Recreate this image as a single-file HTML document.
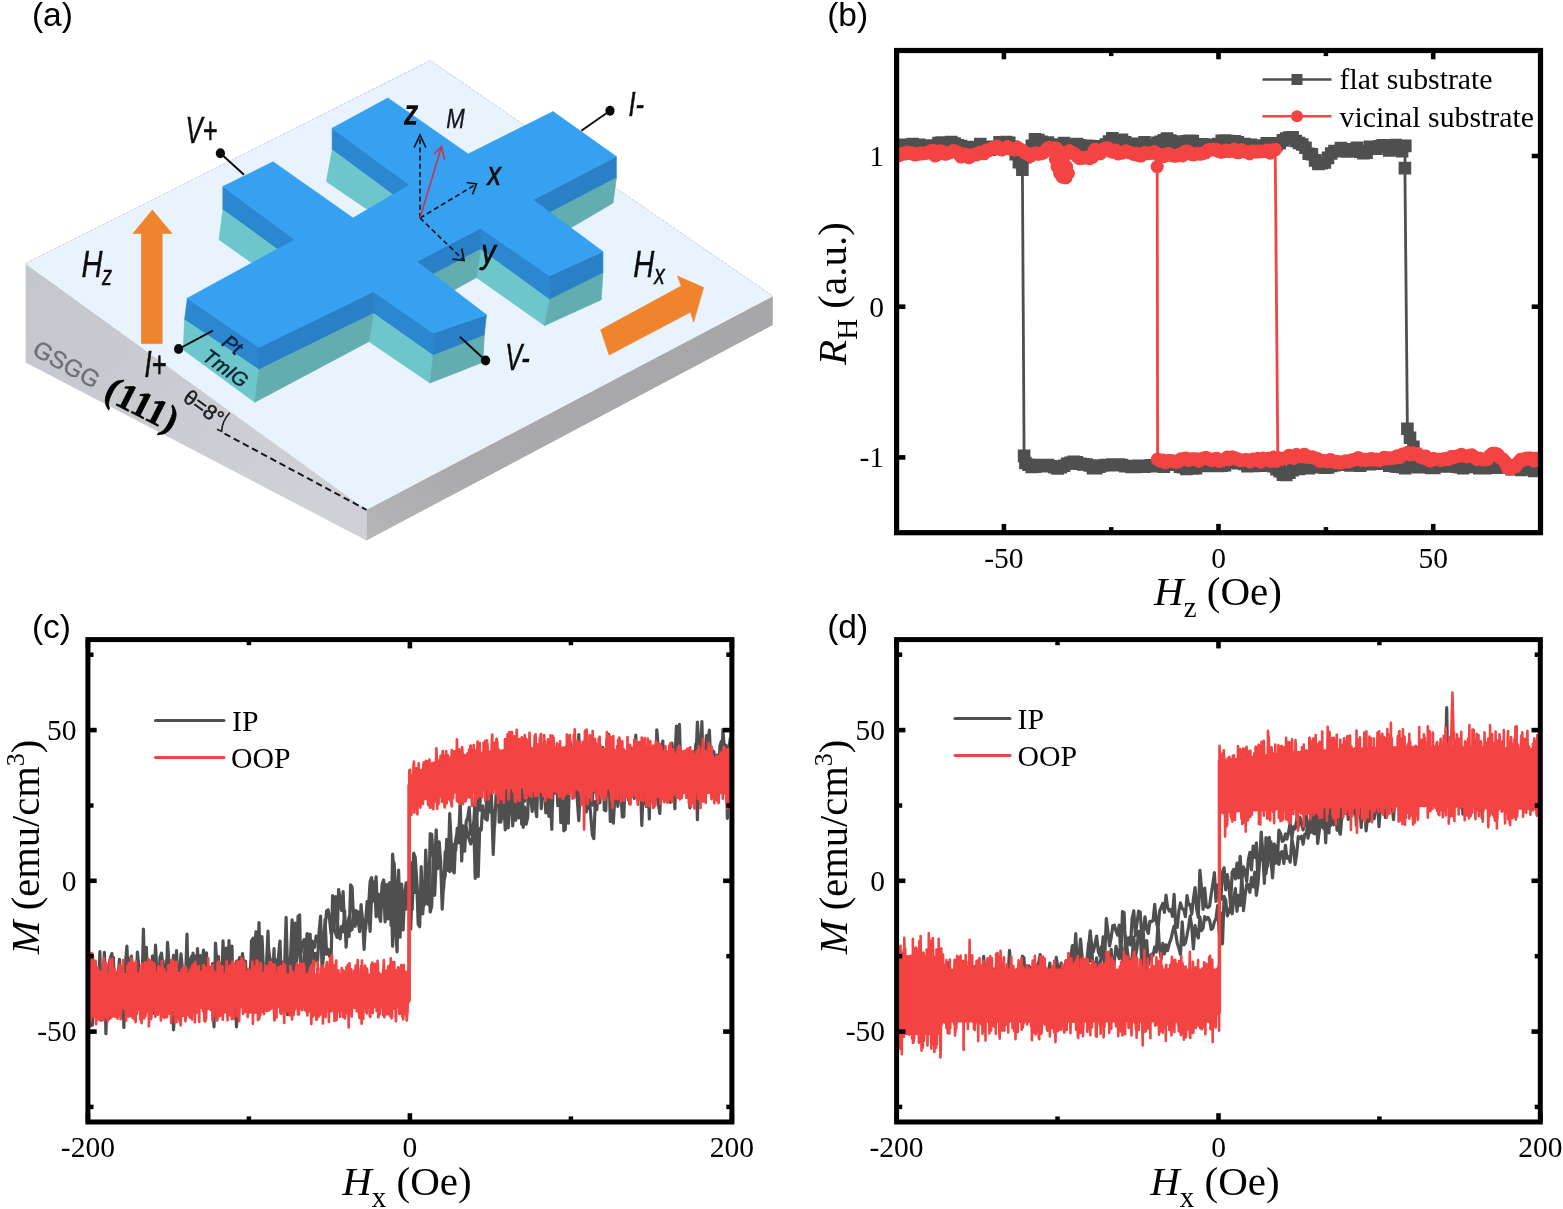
<!DOCTYPE html>
<html lang="en"><head><meta charset="utf-8"><title>Figure</title>
<style>
html,body{margin:0;padding:0;background:#fff;}
svg{display:block;}
</style></head>
<body>
<svg width="1563" height="1209" viewBox="0 0 1563 1209">
<rect width="1563" height="1209" fill="#fff"/>
<text x="31.9" y="25.5" font-family='"Liberation Sans", sans-serif' font-size="33.5" text-anchor="start" fill="#000"  >(a)</text>
<defs><linearGradient id="gl" x1="0" y1="0" x2="1" y2="0.6"><stop offset="0" stop-color="#c3c6cc"/><stop offset="1" stop-color="#cfd1d6"/></linearGradient><linearGradient id="gr" x1="0" y1="1" x2="1" y2="0"><stop offset="0" stop-color="#b6b6b8"/><stop offset="0.25" stop-color="#aaaaac"/><stop offset="1" stop-color="#a7a7a9"/></linearGradient></defs>
<g id="panel-a">
<polygon points="25.6,263.5 25.6,362.5 366.5,540.5 366.5,509.5" fill="url(#gl)"  />
<polygon points="366.5,509.5 366.5,540.5 772.8,325 772.8,296" fill="url(#gr)"  />
<polygon points="25.6,263.5 430.3,60.5 772.8,296 366.5,509.5" fill="#e9f3fd" stroke="#e9f3fd" stroke-width="0.7" stroke-linejoin="round" />
<polyline points="25.6,263.5 430.3,60.5 772.8,296" fill="none" stroke="#cfd2d6" stroke-width="1" stroke-dasharray="3 1.5"/>
<polygon points="222.9,186.5 294.8,239.6 294.8,262 222.9,209.8" fill="#2b87cf" stroke="#2b87cf" stroke-width="0.7" stroke-linejoin="round" />
<polygon points="222.9,209.8 294.8,262 293,292 219,239.7" fill="#6dc6cb" stroke="#6dc6cb" stroke-width="0.7" stroke-linejoin="round" />
<polygon points="332.2,128.2 409.5,184.8 409.5,207 332.2,149.9" fill="#2b87cf" stroke="#2b87cf" stroke-width="0.7" stroke-linejoin="round" />
<polygon points="332.2,149.9 409.5,207 408,237 326.4,181.5" fill="#6dc6cb" stroke="#6dc6cb" stroke-width="0.7" stroke-linejoin="round" />
<polygon points="187.4,298.2 259,347.3 259,369.7 184.6,319.8" fill="#2b87cf" stroke="#2b87cf" stroke-width="0.7" stroke-linejoin="round" />
<polygon points="184.6,319.8 259,369.7 254.8,402.2 183.3,349.8" fill="#6dc6cb" stroke="#6dc6cb" stroke-width="0.7" stroke-linejoin="round" />
<polygon points="373.5,291.5 433.2,333.1 433.2,355.5 373.5,313.5" fill="#2b87cf" stroke="#2b87cf" stroke-width="0.7" stroke-linejoin="round" />
<polygon points="373.5,313.5 433.2,355.5 429.9,383 369,341.5" fill="#6dc6cb" stroke="#6dc6cb" stroke-width="0.7" stroke-linejoin="round" />
<polygon points="480.6,228.3 549.6,275.7 549.6,299.8 480.6,249.5" fill="#2b87cf" stroke="#2b87cf" stroke-width="0.7" stroke-linejoin="round" />
<polygon points="480.6,249.5 549.6,299.8 544.6,325.6 476.4,277.4" fill="#6dc6cb" stroke="#6dc6cb" stroke-width="0.7" stroke-linejoin="round" />
<polygon points="533,199.8 616.3,156.5 616.3,178 533,221.5" fill="#2a80c6" stroke="#2a80c6" stroke-width="0.7" stroke-linejoin="round" />
<polygon points="533,221.5 616.3,178 613,203 533,250" fill="#62adaf" stroke="#62adaf" stroke-width="0.7" stroke-linejoin="round" />
<polygon points="416.6,261.5 480.6,228.3 480.6,249.5 416.6,283" fill="#2a80c6" stroke="#2a80c6" stroke-width="0.7" stroke-linejoin="round" />
<polygon points="416.6,283 480.6,249.5 476.4,277.4 416.6,311" fill="#62adaf" stroke="#62adaf" stroke-width="0.7" stroke-linejoin="round" />
<polygon points="549.6,275.7 602.9,251.6 602.9,273.2 549.6,299.8" fill="#2a80c6" stroke="#2a80c6" stroke-width="0.7" stroke-linejoin="round" />
<polygon points="549.6,299.8 602.9,273.2 601.2,299.8 544.6,325.6" fill="#62adaf" stroke="#62adaf" stroke-width="0.7" stroke-linejoin="round" />
<polygon points="259,347.3 373.5,291.5 373.5,313.5 259,369.7" fill="#2a80c6" stroke="#2a80c6" stroke-width="0.7" stroke-linejoin="round" />
<polygon points="259,369.7 373.5,313.5 369,341.5 254.8,402.2" fill="#62adaf" stroke="#62adaf" stroke-width="0.7" stroke-linejoin="round" />
<polygon points="433.2,333.1 486.4,314.8 484.2,335.6 433.2,355.5" fill="#2a80c6" stroke="#2a80c6" stroke-width="0.7" stroke-linejoin="round" />
<polygon points="433.2,355.5 484.2,335.6 483,362.2 429.9,383" fill="#62adaf" stroke="#62adaf" stroke-width="0.7" stroke-linejoin="round" />
<polygon points="187.4,298.2 294.8,239.6 222.9,186.5 273.1,161.8 353,218 409.5,184.8 332.2,128.2 387.9,98 468.2,154 553,111.6 616.3,156.5 533,199.8 602.9,251.6 549.6,275.7 480.6,228.3 416.6,261.5 486.4,314.8 433.2,333.1 373.5,291.5 259,347.3" fill="#37a1f1" stroke="#37a1f1" stroke-width="0.7" stroke-linejoin="round" />
<polygon points="141.5,343.6 141.5,233.5 133,233.5 152.4,210 172,233.5 162.2,233.5 162.2,343.6" fill="#f0842d" stroke="#f0842d" stroke-width="0.7" stroke-linejoin="round" />
<polygon points="600.7,329.8 681.3,286 677.5,276 703.6,287.6 693.6,322.1 690.5,312.1 609.1,355.1" fill="#f0842d" stroke="#f0842d" stroke-width="0.7" stroke-linejoin="round" />
<line x1="220.4" y1="153.2" x2="244" y2="174.8" stroke="#0a0a0a" stroke-width="1.9"/>
<ellipse cx="220.4" cy="153.2" rx="4.6" ry="5" fill="#0a0a0a"/>
<line x1="610" y1="110.8" x2="581.3" y2="130.7" stroke="#0a0a0a" stroke-width="1.9"/>
<ellipse cx="610" cy="110.8" rx="4.6" ry="5" fill="#0a0a0a"/>
<line x1="178.6" y1="349" x2="212.9" y2="330.6" stroke="#0a0a0a" stroke-width="1.9"/>
<ellipse cx="178.6" cy="349" rx="4.6" ry="5" fill="#0a0a0a"/>
<line x1="485.6" y1="360.5" x2="459.8" y2="336.7" stroke="#0a0a0a" stroke-width="1.9"/>
<ellipse cx="485.6" cy="360.5" rx="4.6" ry="5" fill="#0a0a0a"/>
<line x1="420" y1="218" x2="420" y2="135" stroke="#10151c" stroke-width="1.7" stroke-dasharray="5 3.2"/>
<polyline points="414.2,147.5 420,135 425.8,147.5" fill="none" stroke="#10151c" stroke-width="1.7"/>
<line x1="420" y1="218" x2="476.5" y2="184" stroke="#10151c" stroke-width="1.7" stroke-dasharray="5 3.2"/>
<polyline points="466.5,182.5 476.5,184 472.4,194.5" fill="none" stroke="#10151c" stroke-width="1.7"/>
<line x1="420" y1="218" x2="464" y2="260.5" stroke="#10151c" stroke-width="1.7" stroke-dasharray="5 3.2"/>
<polyline points="452.5,259.2 464,260.5 461.8,248.5" fill="none" stroke="#10151c" stroke-width="1.7"/>
<line x1="420" y1="218" x2="441.6" y2="146.5" stroke="#c9334e" stroke-width="1.6" />
<polyline points="434,154 441.6,146.5 444.4,159.5" fill="none" stroke="#c9334e" stroke-width="1.6"/>
<text x="185.5" y="143.4" font-family='"Liberation Sans", sans-serif' font-size="36" font-style="italic" font-weight="normal" fill="#0c0c0c" textLength="32" lengthAdjust="spacingAndGlyphs" stroke="#0c0c0c" stroke-width="0.5">V+</text>
<text x="628.5" y="115.8" font-family='"Liberation Sans", sans-serif' font-size="35" font-style="italic" font-weight="normal" fill="#0c0c0c" textLength="15.5" lengthAdjust="spacingAndGlyphs" stroke="#0c0c0c" stroke-width="0.6">I-</text>
<text x="144.5" y="377.4" font-family='"Liberation Sans", sans-serif' font-size="36" font-style="italic" font-weight="normal" fill="#0c0c0c" textLength="22" lengthAdjust="spacingAndGlyphs" stroke="#0c0c0c" stroke-width="0.6">I+</text>
<text x="505.3" y="369.7" font-family='"Liberation Sans", sans-serif' font-size="36" font-style="italic" font-weight="normal" fill="#0c0c0c" textLength="24.5" lengthAdjust="spacingAndGlyphs" stroke="#0c0c0c" stroke-width="0.5">V-</text>
<text x="81.5" y="276.6" font-family='"Liberation Sans", sans-serif' font-size="36" font-style="italic" font-weight="normal" fill="#0c0c0c" textLength="21" lengthAdjust="spacingAndGlyphs" stroke="#0c0c0c" stroke-width="0.4">H</text>
<text x="102" y="284.5" font-family='"Liberation Sans", sans-serif' font-size="27" font-style="italic" font-weight="normal" fill="#0c0c0c" textLength="10" lengthAdjust="spacingAndGlyphs" stroke="#0c0c0c" stroke-width="0.4">z</text>
<text x="633.2" y="276.8" font-family='"Liberation Sans", sans-serif' font-size="36" font-style="italic" font-weight="normal" fill="#0c0c0c" textLength="21" lengthAdjust="spacingAndGlyphs" stroke="#0c0c0c" stroke-width="0.4">H</text>
<text x="654.2" y="284.4" font-family='"Liberation Sans", sans-serif' font-size="27" font-style="italic" font-weight="normal" fill="#0c0c0c" textLength="10.5" lengthAdjust="spacingAndGlyphs" stroke="#0c0c0c" stroke-width="0.4">x</text>
<text x="404.5" y="124.2" font-family='"Liberation Sans", sans-serif' font-size="34" font-style="italic" font-weight="normal" fill="#0c0c0c" textLength="13.5" lengthAdjust="spacingAndGlyphs" stroke="#0c0c0c" stroke-width="1.3">z</text>
<text x="446.3" y="128.2" font-family='"Liberation Sans", sans-serif' font-size="27.5" font-style="italic" font-weight="normal" fill="#14161a" textLength="18.5" lengthAdjust="spacingAndGlyphs" stroke="#14161a" stroke-width="0.35">M</text>
<text x="487.5" y="184.9" font-family='"Liberation Sans", sans-serif' font-size="32.5" font-style="italic" font-weight="normal" fill="#0c0c0c" textLength="13.5" lengthAdjust="spacingAndGlyphs" stroke="#0c0c0c" stroke-width="0.7">x</text>
<text x="481.2" y="263.3" font-family='"Liberation Sans", sans-serif' font-size="32.5" font-style="italic" font-weight="normal" fill="#0c0c0c" textLength="14.5" lengthAdjust="spacingAndGlyphs" stroke="#0c0c0c" stroke-width="0.7">y</text>
<text transform="translate(228.3,350.3) rotate(36)" font-family='"Liberation Sans", sans-serif' font-size="20" font-style="italic" font-weight="normal" fill="#07203a" text-anchor="middle"  stroke="#07203a" stroke-width="0.5">Pt</text>
<text transform="translate(221.6,373.8) rotate(36)" font-family='"Liberation Sans", sans-serif' font-size="20" font-style="italic" font-weight="normal" fill="#08262c" text-anchor="middle"  stroke="#08262c" stroke-width="0.5">TmIG</text>
<text transform="translate(199.6,413.3) rotate(36)" font-family='"Liberation Sans", sans-serif' font-size="21" font-style="normal" font-weight="normal" fill="#1c1c1e" text-anchor="middle"  stroke="#1c1c1e" stroke-width="0.5">&#952;=8&#176;</text>
<text transform="translate(62.5,371.5) rotate(29)" font-family='"Liberation Sans", sans-serif' font-size="24" font-style="normal" font-weight="normal" fill="#6f7176" text-anchor="middle"  stroke="#6f7176" stroke-width="0.4">GSGG</text>
<text transform="translate(136.5,415.5) rotate(27)" font-family='"Liberation Serif", serif' font-size="37.5" font-style="normal" font-weight="bold" fill="#000" text-anchor="middle"  stroke="#000" stroke-width="0.5">(111)</text>
<path d="M229.8 412.8 Q222.3 420.5 221.6 431.4 L217 429.3" fill="none" stroke="#1a1a1a" stroke-width="1.6"/>
<line x1="224.5" y1="433.6" x2="366.5" y2="509.8" stroke="#15171a" stroke-width="2.0" stroke-dasharray="6.6 3.8"/>
</g>
<text x="827.2" y="26" font-family='"Liberation Sans", sans-serif' font-size="33.5" text-anchor="start" fill="#000"  >(b)</text>
<clipPath id="clipb"><rect x="896.6" y="50.5" width="643.9" height="482.2"/></clipPath>
<line x1="1003.9" y1="532.7" x2="1003.9" y2="523.9" stroke="#000" stroke-width="4.6"/>
<line x1="1003.9" y1="50.5" x2="1003.9" y2="59.3" stroke="#000" stroke-width="4.6"/>
<line x1="1218.5" y1="532.7" x2="1218.5" y2="523.9" stroke="#000" stroke-width="4.6"/>
<line x1="1218.5" y1="50.5" x2="1218.5" y2="59.3" stroke="#000" stroke-width="4.6"/>
<line x1="1433.2" y1="532.7" x2="1433.2" y2="523.9" stroke="#000" stroke-width="4.6"/>
<line x1="1433.2" y1="50.5" x2="1433.2" y2="59.3" stroke="#000" stroke-width="4.6"/>
<line x1="1111.2" y1="532.7" x2="1111.2" y2="527.1" stroke="#000" stroke-width="4.5"/>
<line x1="1111.2" y1="50.5" x2="1111.2" y2="56.1" stroke="#000" stroke-width="4.5"/>
<line x1="1325.9" y1="532.7" x2="1325.9" y2="527.1" stroke="#000" stroke-width="4.5"/>
<line x1="1325.9" y1="50.5" x2="1325.9" y2="56.1" stroke="#000" stroke-width="4.5"/>
<line x1="896.6" y1="457.4" x2="905.4" y2="457.4" stroke="#000" stroke-width="4.6"/>
<line x1="1540.5" y1="457.4" x2="1531.7" y2="457.4" stroke="#000" stroke-width="4.6"/>
<line x1="896.6" y1="306.7" x2="905.4" y2="306.7" stroke="#000" stroke-width="4.6"/>
<line x1="1540.5" y1="306.7" x2="1531.7" y2="306.7" stroke="#000" stroke-width="4.6"/>
<line x1="896.6" y1="156" x2="905.4" y2="156" stroke="#000" stroke-width="4.6"/>
<line x1="1540.5" y1="156" x2="1531.7" y2="156" stroke="#000" stroke-width="4.6"/>
<g id="panel-b-data" clip-path="url(#clipb)">
<polyline points="896.6,148.1 899.8,147.4 903,144.7 906.3,145.7 909.5,144.8 912.7,144.1 915.9,144.8 919.1,144.7 922.4,146.1 925.6,147.2 928.8,145.6 932,146.1 935.2,146.8 938.5,143.1 941.7,142.6 944.9,144.4 948.1,144.4 951.3,142.1 954.6,143.6 957.8,145.3 961,146.1 964.2,148.2 967.4,149.7 970.6,147 973.9,147.2 977.1,147.7 980.3,144 983.5,150.2 986.7,147.4 990,149.8 993.2,146.9 996.4,147.3 999.6,142.4 1002.8,143.2 1006.1,142 1009.3,142.7 1012.5,146.9 1015.7,154.1 1018.9,162.2 1022.2,163.9 1025.4,157.1 1028.6,151.2 1031.8,145.7 1035,139.2 1038.3,140.1 1041.5,141.8 1044.7,142.9 1047.9,142.5 1051.1,144.5 1054.4,146.8 1057.6,145.4 1060.8,146.3 1064,143.1 1067.2,145.2 1070.5,145.8 1073.7,147.4 1076.9,144.1 1080.1,145.3 1083.3,147.4 1086.6,145.8 1089.8,146.1 1093,149.4 1096.2,150.8 1099.4,146.4 1102.6,146.2 1105.9,144.5 1109.1,141.6 1112.3,138.4 1115.5,142 1118.7,141.5 1122,139.9 1125.2,142.3 1128.4,148.1 1131.6,143.7 1134.8,144.3 1138.1,144 1141.3,146.8 1144.5,142.3 1147.7,145.8 1150.9,146.8 1154.2,147.1 1157.4,142.8 1160.6,141.8 1163.8,140.4 1167,138.6 1170.3,140.6 1173.5,141.5 1176.7,144.7 1179.9,145.9 1183.1,143 1186.4,141.3 1189.6,140.9 1192.8,141.1 1196,144.8 1199.2,144.8 1202.5,144.3 1205.7,147.1 1208.9,146.5 1212.1,145.3 1215.3,144.9 1218.5,144 1221.8,140.9 1225,140.5 1228.2,141.1 1231.4,143.8 1234.6,141.3 1237.9,142.3 1241.1,144.8 1244.3,144.1 1247.5,146.4 1250.7,144.8 1254,147.9 1257.2,145.9 1260.4,146.2 1263.6,145.6 1266.8,143.3 1270.1,143.3 1273.3,144.8 1276.5,144.9 1279.7,143.2 1282.9,140.4 1286.2,138.6 1289.4,137.5 1292.6,137.2 1295.8,141 1299,143 1302.3,144.5 1305.5,147.7 1308.7,153.7 1311.9,154.3 1315.1,160.4 1318.4,163.9 1321.6,163.3 1324.8,162.5 1328,157.9 1331.2,153.5 1334.5,151.1 1337.7,151 1340.9,148 1344.1,151 1347.3,151.4 1350.5,149.4 1353.8,150.5 1357,147.7 1360.2,151.6 1363.4,153.2 1366.6,152.8 1369.9,146.7 1373.1,148.6 1376.3,148.6 1379.5,146.4 1382.7,145.4 1386,146 1389.2,150.4 1392.4,148.3 1395.6,145.1 1398.8,149.1 1402.1,151.3 1405.3,145.9 1404.9,168.1 1407.4,428.7 1410,437.8 1413.4,446.8 1414.9,465.5 1418.2,467.1 1421.4,465.4 1424.6,465.1 1427.8,466.6 1431,467.9 1434.3,468 1437.5,465.8 1440.7,466.5 1443.9,466.5 1447.1,466.1 1450.4,466.2 1453.6,465.5 1456.8,466.7 1460,467.1 1463.2,468.1 1466.5,466.9 1469.7,467 1472.9,467 1476.1,466.3 1479.3,468.3 1482.5,467.8 1485.8,468.3 1489,466.5 1492.2,466.7 1495.4,467.8 1498.6,466.3 1501.9,467.4 1505.1,467.2 1508.3,467.5 1511.5,469.3 1514.7,469 1518,468.8 1521.2,469.9 1524.4,468.8 1527.6,468.8 1530.8,467.6 1534.1,470.9 1537.3,470 1540.5,469.1" fill="none" stroke="#4f4f4f" stroke-width="2.8" stroke-linejoin="round"/>
<polyline points="1540.5,469.1 1537.3,470 1534.1,470.9 1530.8,467.6 1527.6,468.8 1524.4,468.8 1521.2,469.9 1518,468.8 1514.7,469 1511.5,469.3 1508.3,467.5 1505.1,467.2 1501.9,467.4 1498.6,466.3 1495.4,467.8 1492.2,466.7 1489,466.5 1485.8,468.3 1482.5,467.8 1479.3,468.3 1476.1,466.3 1472.9,467 1469.7,467 1466.5,466.9 1463.2,468.1 1460,467.1 1456.8,466.7 1453.6,465.5 1450.4,466.2 1447.1,466.1 1443.9,466.5 1440.7,466.5 1437.5,465.8 1434.3,468 1431,467.9 1427.8,466.6 1424.6,465.1 1421.4,465.4 1418.2,467.1 1414.9,465.5 1411.7,464.4 1408.5,466.3 1405.3,468.1 1402.1,466.9 1398.8,466.7 1395.6,466.4 1392.4,465.4 1389.2,465.7 1386,463.4 1382.7,463.5 1379.5,462.5 1376.3,463.7 1373.1,462.8 1369.9,464.1 1366.6,462.4 1363.4,463.5 1360.2,465.8 1357,464.3 1353.8,465.2 1350.5,465.4 1347.3,464.7 1344.1,464.7 1340.9,464.7 1337.7,464 1334.5,465.3 1331.2,465.9 1328,467.5 1324.8,467.6 1321.6,466.9 1318.4,467.1 1315.1,467 1311.9,467.2 1308.7,468.2 1305.5,466.7 1302.3,467 1299,469 1295.8,468.5 1292.6,470.1 1289.4,472.7 1286.2,474.9 1282.9,474.8 1279.7,471.2 1276.5,469.3 1273.3,466.2 1270.1,464 1266.8,462.8 1263.6,465.1 1260.4,465.7 1257.2,464 1254,465.9 1250.7,464.7 1247.5,466.1 1244.3,464 1241.1,463 1237.9,463.1 1234.6,462.1 1231.4,462.3 1228.2,461.9 1225,465.1 1221.8,465.7 1218.5,465.9 1215.3,464.7 1212.1,465.8 1208.9,465.5 1205.7,466 1202.5,464 1199.2,465.3 1196,468.2 1192.8,468.5 1189.6,468.3 1186.4,468.9 1183.1,467.3 1179.9,466.7 1176.7,464.5 1173.5,463.5 1170.3,464.4 1167,464.7 1163.8,466.6 1160.6,465.6 1157.4,464.1 1154.2,466.3 1150.9,465.4 1147.7,465.9 1144.5,466.6 1141.3,466.7 1138.1,465.9 1134.8,467 1131.6,466.9 1128.4,466.3 1125.2,466.1 1122,465.1 1118.7,464.6 1115.5,464.8 1112.3,464.5 1109.1,465.1 1105.9,465 1102.6,465.5 1099.4,466.6 1096.2,468.1 1093,468.1 1089.8,465.5 1086.6,464.5 1083.3,464.4 1080.1,463.8 1076.9,462.2 1073.7,461.7 1070.5,462.7 1067.2,463.7 1064,465.7 1060.8,467.1 1057.6,468.5 1054.4,467.2 1051.1,466.3 1047.9,465 1044.7,466.1 1041.5,466 1038.3,465.1 1035,466.8 1031.8,466.9 1028.6,464.8 1025.4,463 1024.1,455.9 1022.4,169.6 1021.1,156" fill="none" stroke="#4f4f4f" stroke-width="2.8" stroke-linejoin="round"/>
<path d="M890.3 141.8h12.6v12.6h-12.6zM893.5 141.1h12.6v12.6h-12.6zM896.7 138.4h12.6v12.6h-12.6zM900 139.4h12.6v12.6h-12.6zM903.2 138.5h12.6v12.6h-12.6zM906.4 137.8h12.6v12.6h-12.6zM909.6 138.5h12.6v12.6h-12.6zM912.8 138.4h12.6v12.6h-12.6zM916.1 139.8h12.6v12.6h-12.6zM919.3 140.9h12.6v12.6h-12.6zM922.5 139.3h12.6v12.6h-12.6zM925.7 139.8h12.6v12.6h-12.6zM928.9 140.5h12.6v12.6h-12.6zM932.2 136.8h12.6v12.6h-12.6zM935.4 136.3h12.6v12.6h-12.6zM938.6 138.1h12.6v12.6h-12.6zM941.8 138.1h12.6v12.6h-12.6zM945 135.8h12.6v12.6h-12.6zM948.3 137.3h12.6v12.6h-12.6zM951.5 139h12.6v12.6h-12.6zM954.7 139.8h12.6v12.6h-12.6zM957.9 141.9h12.6v12.6h-12.6zM961.1 143.4h12.6v12.6h-12.6zM964.3 140.7h12.6v12.6h-12.6zM967.6 140.9h12.6v12.6h-12.6zM970.8 141.4h12.6v12.6h-12.6zM974 137.7h12.6v12.6h-12.6zM977.2 143.9h12.6v12.6h-12.6zM980.4 141.1h12.6v12.6h-12.6zM983.7 143.5h12.6v12.6h-12.6zM986.9 140.6h12.6v12.6h-12.6zM990.1 141h12.6v12.6h-12.6zM993.3 136.1h12.6v12.6h-12.6zM996.5 136.9h12.6v12.6h-12.6zM999.8 135.7h12.6v12.6h-12.6zM1003 136.4h12.6v12.6h-12.6zM1006.2 140.6h12.6v12.6h-12.6zM1009.4 147.8h12.6v12.6h-12.6zM1012.6 155.9h12.6v12.6h-12.6zM1015.9 157.6h12.6v12.6h-12.6zM1019.1 150.8h12.6v12.6h-12.6zM1022.3 144.9h12.6v12.6h-12.6zM1025.5 139.4h12.6v12.6h-12.6zM1028.7 132.9h12.6v12.6h-12.6zM1032 133.8h12.6v12.6h-12.6zM1035.2 135.5h12.6v12.6h-12.6zM1038.4 136.6h12.6v12.6h-12.6zM1041.6 136.2h12.6v12.6h-12.6zM1044.8 138.2h12.6v12.6h-12.6zM1048.1 140.5h12.6v12.6h-12.6zM1051.3 139.1h12.6v12.6h-12.6zM1054.5 140h12.6v12.6h-12.6zM1057.7 136.8h12.6v12.6h-12.6zM1060.9 138.9h12.6v12.6h-12.6zM1064.2 139.5h12.6v12.6h-12.6zM1067.4 141.1h12.6v12.6h-12.6zM1070.6 137.8h12.6v12.6h-12.6zM1073.8 139h12.6v12.6h-12.6zM1077 141.1h12.6v12.6h-12.6zM1080.3 139.5h12.6v12.6h-12.6zM1083.5 139.8h12.6v12.6h-12.6zM1086.7 143.1h12.6v12.6h-12.6zM1089.9 144.5h12.6v12.6h-12.6zM1093.1 140.1h12.6v12.6h-12.6zM1096.3 139.9h12.6v12.6h-12.6zM1099.6 138.2h12.6v12.6h-12.6zM1102.8 135.3h12.6v12.6h-12.6zM1106 132.1h12.6v12.6h-12.6zM1109.2 135.7h12.6v12.6h-12.6zM1112.4 135.2h12.6v12.6h-12.6zM1115.7 133.6h12.6v12.6h-12.6zM1118.9 136h12.6v12.6h-12.6zM1122.1 141.8h12.6v12.6h-12.6zM1125.3 137.4h12.6v12.6h-12.6zM1128.5 138h12.6v12.6h-12.6zM1131.8 137.7h12.6v12.6h-12.6zM1135 140.5h12.6v12.6h-12.6zM1138.2 136h12.6v12.6h-12.6zM1141.4 139.5h12.6v12.6h-12.6zM1144.6 140.5h12.6v12.6h-12.6zM1147.9 140.8h12.6v12.6h-12.6zM1151.1 136.5h12.6v12.6h-12.6zM1154.3 135.5h12.6v12.6h-12.6zM1157.5 134.1h12.6v12.6h-12.6zM1160.7 132.3h12.6v12.6h-12.6zM1164 134.3h12.6v12.6h-12.6zM1167.2 135.2h12.6v12.6h-12.6zM1170.4 138.4h12.6v12.6h-12.6zM1173.6 139.6h12.6v12.6h-12.6zM1176.8 136.7h12.6v12.6h-12.6zM1180.1 135h12.6v12.6h-12.6zM1183.3 134.6h12.6v12.6h-12.6zM1186.5 134.8h12.6v12.6h-12.6zM1189.7 138.5h12.6v12.6h-12.6zM1192.9 138.5h12.6v12.6h-12.6zM1196.2 138h12.6v12.6h-12.6zM1199.4 140.8h12.6v12.6h-12.6zM1202.6 140.2h12.6v12.6h-12.6zM1205.8 139h12.6v12.6h-12.6zM1209 138.6h12.6v12.6h-12.6zM1212.2 137.7h12.6v12.6h-12.6zM1215.5 134.6h12.6v12.6h-12.6zM1218.7 134.2h12.6v12.6h-12.6zM1221.9 134.8h12.6v12.6h-12.6zM1225.1 137.5h12.6v12.6h-12.6zM1228.3 135h12.6v12.6h-12.6zM1231.6 136h12.6v12.6h-12.6zM1234.8 138.5h12.6v12.6h-12.6zM1238 137.8h12.6v12.6h-12.6zM1241.2 140.1h12.6v12.6h-12.6zM1244.4 138.5h12.6v12.6h-12.6zM1247.7 141.6h12.6v12.6h-12.6zM1250.9 139.6h12.6v12.6h-12.6zM1254.1 139.9h12.6v12.6h-12.6zM1257.3 139.3h12.6v12.6h-12.6zM1260.5 137h12.6v12.6h-12.6zM1263.8 137h12.6v12.6h-12.6zM1267 138.5h12.6v12.6h-12.6zM1270.2 138.6h12.6v12.6h-12.6zM1273.4 136.9h12.6v12.6h-12.6zM1276.6 134.1h12.6v12.6h-12.6zM1279.9 132.3h12.6v12.6h-12.6zM1283.1 131.2h12.6v12.6h-12.6zM1286.3 130.9h12.6v12.6h-12.6zM1289.5 134.7h12.6v12.6h-12.6zM1292.7 136.7h12.6v12.6h-12.6zM1296 138.2h12.6v12.6h-12.6zM1299.2 141.4h12.6v12.6h-12.6zM1302.4 147.4h12.6v12.6h-12.6zM1305.6 148h12.6v12.6h-12.6zM1308.8 154.1h12.6v12.6h-12.6zM1312.1 157.6h12.6v12.6h-12.6zM1315.3 157h12.6v12.6h-12.6zM1318.5 156.2h12.6v12.6h-12.6zM1321.7 151.6h12.6v12.6h-12.6zM1324.9 147.2h12.6v12.6h-12.6zM1328.2 144.8h12.6v12.6h-12.6zM1331.4 144.7h12.6v12.6h-12.6zM1334.6 141.7h12.6v12.6h-12.6zM1337.8 144.7h12.6v12.6h-12.6zM1341 145.1h12.6v12.6h-12.6zM1344.2 143.1h12.6v12.6h-12.6zM1347.5 144.2h12.6v12.6h-12.6zM1350.7 141.4h12.6v12.6h-12.6zM1353.9 145.3h12.6v12.6h-12.6zM1357.1 146.9h12.6v12.6h-12.6zM1360.3 146.5h12.6v12.6h-12.6zM1363.6 140.4h12.6v12.6h-12.6zM1366.8 142.3h12.6v12.6h-12.6zM1370 142.3h12.6v12.6h-12.6zM1373.2 140.1h12.6v12.6h-12.6zM1376.4 139.1h12.6v12.6h-12.6zM1379.7 139.7h12.6v12.6h-12.6zM1382.9 144.1h12.6v12.6h-12.6zM1386.1 142h12.6v12.6h-12.6zM1389.3 138.8h12.6v12.6h-12.6zM1392.5 142.8h12.6v12.6h-12.6zM1395.8 145h12.6v12.6h-12.6zM1399 139.6h12.6v12.6h-12.6zM1398.6 161.8h12.6v12.6h-12.6zM1401.1 422.4h12.6v12.6h-12.6zM1403.7 431.5h12.6v12.6h-12.6zM1407.1 440.5h12.6v12.6h-12.6zM1408.6 459.2h12.6v12.6h-12.6zM1411.9 460.8h12.6v12.6h-12.6zM1415.1 459.1h12.6v12.6h-12.6zM1418.3 458.8h12.6v12.6h-12.6zM1421.5 460.3h12.6v12.6h-12.6zM1424.7 461.6h12.6v12.6h-12.6zM1428 461.7h12.6v12.6h-12.6zM1431.2 459.5h12.6v12.6h-12.6zM1434.4 460.2h12.6v12.6h-12.6zM1437.6 460.2h12.6v12.6h-12.6zM1440.8 459.8h12.6v12.6h-12.6zM1444.1 459.9h12.6v12.6h-12.6zM1447.3 459.2h12.6v12.6h-12.6zM1450.5 460.4h12.6v12.6h-12.6zM1453.7 460.8h12.6v12.6h-12.6zM1456.9 461.8h12.6v12.6h-12.6zM1460.2 460.6h12.6v12.6h-12.6zM1463.4 460.7h12.6v12.6h-12.6zM1466.6 460.7h12.6v12.6h-12.6zM1469.8 460h12.6v12.6h-12.6zM1473 462h12.6v12.6h-12.6zM1476.2 461.5h12.6v12.6h-12.6zM1479.5 462h12.6v12.6h-12.6zM1482.7 460.2h12.6v12.6h-12.6zM1485.9 460.4h12.6v12.6h-12.6zM1489.1 461.5h12.6v12.6h-12.6zM1492.3 460h12.6v12.6h-12.6zM1495.6 461.1h12.6v12.6h-12.6zM1498.8 460.9h12.6v12.6h-12.6zM1502 461.2h12.6v12.6h-12.6zM1505.2 463h12.6v12.6h-12.6zM1508.4 462.7h12.6v12.6h-12.6zM1511.7 462.5h12.6v12.6h-12.6zM1514.9 463.6h12.6v12.6h-12.6zM1518.1 462.5h12.6v12.6h-12.6zM1521.3 462.5h12.6v12.6h-12.6zM1524.5 461.3h12.6v12.6h-12.6zM1527.8 464.6h12.6v12.6h-12.6zM1531 463.7h12.6v12.6h-12.6zM1534.2 462.8h12.6v12.6h-12.6zM1534.2 462.8h12.6v12.6h-12.6zM1531 463.7h12.6v12.6h-12.6zM1527.8 464.6h12.6v12.6h-12.6zM1524.5 461.3h12.6v12.6h-12.6zM1521.3 462.5h12.6v12.6h-12.6zM1518.1 462.5h12.6v12.6h-12.6zM1514.9 463.6h12.6v12.6h-12.6zM1511.7 462.5h12.6v12.6h-12.6zM1508.4 462.7h12.6v12.6h-12.6zM1505.2 463h12.6v12.6h-12.6zM1502 461.2h12.6v12.6h-12.6zM1498.8 460.9h12.6v12.6h-12.6zM1495.6 461.1h12.6v12.6h-12.6zM1492.3 460h12.6v12.6h-12.6zM1489.1 461.5h12.6v12.6h-12.6zM1485.9 460.4h12.6v12.6h-12.6zM1482.7 460.2h12.6v12.6h-12.6zM1479.5 462h12.6v12.6h-12.6zM1476.2 461.5h12.6v12.6h-12.6zM1473 462h12.6v12.6h-12.6zM1469.8 460h12.6v12.6h-12.6zM1466.6 460.7h12.6v12.6h-12.6zM1463.4 460.7h12.6v12.6h-12.6zM1460.2 460.6h12.6v12.6h-12.6zM1456.9 461.8h12.6v12.6h-12.6zM1453.7 460.8h12.6v12.6h-12.6zM1450.5 460.4h12.6v12.6h-12.6zM1447.3 459.2h12.6v12.6h-12.6zM1444.1 459.9h12.6v12.6h-12.6zM1440.8 459.8h12.6v12.6h-12.6zM1437.6 460.2h12.6v12.6h-12.6zM1434.4 460.2h12.6v12.6h-12.6zM1431.2 459.5h12.6v12.6h-12.6zM1428 461.7h12.6v12.6h-12.6zM1424.7 461.6h12.6v12.6h-12.6zM1421.5 460.3h12.6v12.6h-12.6zM1418.3 458.8h12.6v12.6h-12.6zM1415.1 459.1h12.6v12.6h-12.6zM1411.9 460.8h12.6v12.6h-12.6zM1408.6 459.2h12.6v12.6h-12.6zM1405.4 458.1h12.6v12.6h-12.6zM1402.2 460h12.6v12.6h-12.6zM1399 461.8h12.6v12.6h-12.6zM1395.8 460.6h12.6v12.6h-12.6zM1392.5 460.4h12.6v12.6h-12.6zM1389.3 460.1h12.6v12.6h-12.6zM1386.1 459.1h12.6v12.6h-12.6zM1382.9 459.4h12.6v12.6h-12.6zM1379.7 457.1h12.6v12.6h-12.6zM1376.4 457.2h12.6v12.6h-12.6zM1373.2 456.2h12.6v12.6h-12.6zM1370 457.4h12.6v12.6h-12.6zM1366.8 456.5h12.6v12.6h-12.6zM1363.6 457.8h12.6v12.6h-12.6zM1360.3 456.1h12.6v12.6h-12.6zM1357.1 457.2h12.6v12.6h-12.6zM1353.9 459.5h12.6v12.6h-12.6zM1350.7 458h12.6v12.6h-12.6zM1347.5 458.9h12.6v12.6h-12.6zM1344.2 459.1h12.6v12.6h-12.6zM1341 458.4h12.6v12.6h-12.6zM1337.8 458.4h12.6v12.6h-12.6zM1334.6 458.4h12.6v12.6h-12.6zM1331.4 457.7h12.6v12.6h-12.6zM1328.2 459h12.6v12.6h-12.6zM1324.9 459.6h12.6v12.6h-12.6zM1321.7 461.2h12.6v12.6h-12.6zM1318.5 461.3h12.6v12.6h-12.6zM1315.3 460.6h12.6v12.6h-12.6zM1312.1 460.8h12.6v12.6h-12.6zM1308.8 460.7h12.6v12.6h-12.6zM1305.6 460.9h12.6v12.6h-12.6zM1302.4 461.9h12.6v12.6h-12.6zM1299.2 460.4h12.6v12.6h-12.6zM1296 460.7h12.6v12.6h-12.6zM1292.7 462.7h12.6v12.6h-12.6zM1289.5 462.2h12.6v12.6h-12.6zM1286.3 463.8h12.6v12.6h-12.6zM1283.1 466.4h12.6v12.6h-12.6zM1279.9 468.6h12.6v12.6h-12.6zM1276.6 468.5h12.6v12.6h-12.6zM1273.4 464.9h12.6v12.6h-12.6zM1270.2 463h12.6v12.6h-12.6zM1267 459.9h12.6v12.6h-12.6zM1263.8 457.7h12.6v12.6h-12.6zM1260.5 456.5h12.6v12.6h-12.6zM1257.3 458.8h12.6v12.6h-12.6zM1254.1 459.4h12.6v12.6h-12.6zM1250.9 457.7h12.6v12.6h-12.6zM1247.7 459.6h12.6v12.6h-12.6zM1244.4 458.4h12.6v12.6h-12.6zM1241.2 459.8h12.6v12.6h-12.6zM1238 457.7h12.6v12.6h-12.6zM1234.8 456.7h12.6v12.6h-12.6zM1231.6 456.8h12.6v12.6h-12.6zM1228.3 455.8h12.6v12.6h-12.6zM1225.1 456h12.6v12.6h-12.6zM1221.9 455.6h12.6v12.6h-12.6zM1218.7 458.8h12.6v12.6h-12.6zM1215.5 459.4h12.6v12.6h-12.6zM1212.2 459.6h12.6v12.6h-12.6zM1209 458.4h12.6v12.6h-12.6zM1205.8 459.5h12.6v12.6h-12.6zM1202.6 459.2h12.6v12.6h-12.6zM1199.4 459.7h12.6v12.6h-12.6zM1196.2 457.7h12.6v12.6h-12.6zM1192.9 459h12.6v12.6h-12.6zM1189.7 461.9h12.6v12.6h-12.6zM1186.5 462.2h12.6v12.6h-12.6zM1183.3 462h12.6v12.6h-12.6zM1180.1 462.6h12.6v12.6h-12.6zM1176.8 461h12.6v12.6h-12.6zM1173.6 460.4h12.6v12.6h-12.6zM1170.4 458.2h12.6v12.6h-12.6zM1167.2 457.2h12.6v12.6h-12.6zM1164 458.1h12.6v12.6h-12.6zM1160.7 458.4h12.6v12.6h-12.6zM1157.5 460.3h12.6v12.6h-12.6zM1154.3 459.3h12.6v12.6h-12.6zM1151.1 457.8h12.6v12.6h-12.6zM1147.9 460h12.6v12.6h-12.6zM1144.6 459.1h12.6v12.6h-12.6zM1141.4 459.6h12.6v12.6h-12.6zM1138.2 460.3h12.6v12.6h-12.6zM1135 460.4h12.6v12.6h-12.6zM1131.8 459.6h12.6v12.6h-12.6zM1128.5 460.7h12.6v12.6h-12.6zM1125.3 460.6h12.6v12.6h-12.6zM1122.1 460h12.6v12.6h-12.6zM1118.9 459.8h12.6v12.6h-12.6zM1115.7 458.8h12.6v12.6h-12.6zM1112.4 458.3h12.6v12.6h-12.6zM1109.2 458.5h12.6v12.6h-12.6zM1106 458.2h12.6v12.6h-12.6zM1102.8 458.8h12.6v12.6h-12.6zM1099.6 458.7h12.6v12.6h-12.6zM1096.3 459.2h12.6v12.6h-12.6zM1093.1 460.3h12.6v12.6h-12.6zM1089.9 461.8h12.6v12.6h-12.6zM1086.7 461.8h12.6v12.6h-12.6zM1083.5 459.2h12.6v12.6h-12.6zM1080.3 458.2h12.6v12.6h-12.6zM1077 458.1h12.6v12.6h-12.6zM1073.8 457.5h12.6v12.6h-12.6zM1070.6 455.9h12.6v12.6h-12.6zM1067.4 455.4h12.6v12.6h-12.6zM1064.2 456.4h12.6v12.6h-12.6zM1060.9 457.4h12.6v12.6h-12.6zM1057.7 459.4h12.6v12.6h-12.6zM1054.5 460.8h12.6v12.6h-12.6zM1051.3 462.2h12.6v12.6h-12.6zM1048.1 460.9h12.6v12.6h-12.6zM1044.8 460h12.6v12.6h-12.6zM1041.6 458.7h12.6v12.6h-12.6zM1038.4 459.8h12.6v12.6h-12.6zM1035.2 459.7h12.6v12.6h-12.6zM1032 458.8h12.6v12.6h-12.6zM1028.7 460.5h12.6v12.6h-12.6zM1025.5 460.6h12.6v12.6h-12.6zM1022.3 458.5h12.6v12.6h-12.6zM1019.1 456.7h12.6v12.6h-12.6zM1017.8 449.6h12.6v12.6h-12.6zM1016.1 163.3h12.6v12.6h-12.6z" fill="#4f4f4f"/>
<polyline points="896.6,154.1 899.2,155.4 901.8,153.8 904.3,153.8 906.9,152.3 909.5,153.3 912.1,153.1 914.6,154.7 917.2,154.3 919.8,153.2 922.4,153.7 924.9,153.2 927.5,152.8 930.1,151.1 932.7,150.6 935.2,155.7 937.8,154.1 940.4,151.2 943,152 945.5,154 948.1,153.1 950.7,152.1 953.3,150.9 955.8,151.5 958.4,152.8 961,156.8 963.6,154.3 966.1,154.5 968.7,157.4 971.3,156 973.9,154.7 976.4,154.8 979,152.6 981.6,152.7 984.2,153.4 986.7,150 989.3,150.4 991.9,148.4 994.5,148.2 997,146.6 999.6,149 1002.2,149.6 1004.8,148.4 1007.4,147 1009.9,148.8 1012.5,148.9 1015.1,149.6 1017.7,147.6 1020.2,149.5 1022.8,150.7 1025.4,153.1 1028,154.2 1030.5,155.9 1033.1,154 1035.7,153.1 1038.3,154 1040.8,153.6 1043.4,152.7 1046,150 1048.6,147.7 1051.1,148.2 1053.7,148.2 1056.3,148.2 1058.9,151.7 1061.4,154.7 1064,153 1066.6,153.7 1069.2,150.9 1071.7,152.7 1074.3,153.7 1076.9,156.2 1079.5,158.4 1082,158 1084.6,157.7 1087.2,157.3 1089.8,158.4 1092.3,157.2 1094.9,149.5 1097.5,153.1 1100.1,153.5 1102.6,149.6 1105.2,148.3 1107.8,148.1 1110.4,151.1 1113,152 1115.5,150.2 1118.1,153.7 1120.7,153 1123.3,152.5 1125.8,151 1128.4,152.3 1131,152.9 1133.6,154.1 1136.1,153.6 1138.7,155.4 1141.3,155.6 1143.9,153 1146.4,153.5 1149,153.2 1151.6,153 1154.2,151.9 1156.7,153.7 1159.3,155.3 1161.9,155.1 1164.5,156.2 1167,154 1169.6,154.5 1172.2,155.6 1174.8,156 1177.3,155.6 1179.9,154.3 1182.5,155.6 1185.1,151.5 1187.6,151.4 1190.2,153.1 1192.8,154.8 1195.4,154.1 1197.9,153.6 1200.5,153.9 1203.1,153.3 1205.7,152.5 1208.2,150.1 1210.8,149.8 1213.4,149.6 1216,149.6 1218.5,151.1 1221.1,152 1223.7,151.4 1226.3,150.3 1228.9,151.3 1231.4,151 1234,149.5 1236.6,152.3 1239.2,152.4 1241.7,150 1244.3,151.5 1246.9,151.9 1249.5,153.5 1252,151.3 1254.6,151.6 1257.2,151.6 1259.8,151.4 1262.3,151.5 1264.9,151.3 1267.5,150.4 1270.1,152.9 1272.6,150.5 1275.2,149.6 1277.8,457.4 1538.8,460.5 1536.2,458.8 1533.6,460.7 1531.1,458.3 1528.5,458.4 1525.9,458.5 1523.3,460 1520.8,459.5 1518.2,462.6 1515.6,466.5 1513,466.9 1510.5,469 1507.9,468.1 1505.3,462.3 1502.7,459.3 1500.1,457.6 1497.6,454.3 1495,453.6 1492.4,453.6 1489.8,455.9 1487.3,459.3 1484.7,459.8 1482.1,459.4 1479.5,458.4 1477,459.2 1474.4,457.1 1471.8,455.1 1469.2,455.7 1466.7,456.4 1464.1,455.8 1461.5,454.6 1458.9,456 1456.4,456.4 1453.8,457.2 1451.2,456.8 1448.6,459.3 1446.1,458.9 1443.5,459.1 1440.9,460.1 1438.3,459.5 1435.8,459.3 1433.2,458.7 1430.6,460.9 1428,459.4 1425.5,456.3 1422.9,457.8 1420.3,456.8 1417.7,453.8 1415.2,454.4 1412.6,453 1410,454.3 1407.4,452.7 1404.9,454 1402.3,454.5 1399.7,457.2 1397.1,456.2 1394.5,457.7 1392,458.3 1389.4,458 1386.8,458.7 1384.2,457.5 1381.7,459.3 1379.1,460.4 1376.5,459.4 1373.9,459.8 1371.4,458.7 1368.8,459.7 1366.2,460.1 1363.6,459.5 1361.1,460 1358.5,457.8 1355.9,459.2 1353.3,459.9 1350.8,460.6 1348.2,461.7 1345.6,461.1 1343,462.1 1340.5,462.9 1337.9,461.8 1335.3,462.3 1332.7,461.2 1330.2,459.8 1327.6,461.6 1325,460.7 1322.4,460.7 1319.9,461.2 1317.3,458.6 1314.7,458.1 1312.1,457 1309.6,457.4 1307,457 1304.4,454.5 1301.8,456.5 1299.3,455.9 1296.7,454.8 1294.1,458.2 1291.5,455.9 1288.9,455.6 1286.4,458 1283.8,458.4 1281.2,459 1278.6,457.9 1276.1,461.2 1273.5,457.4 1270.9,461.3 1268.3,458.7 1265.8,459.3 1263.2,458.4 1260.6,461.9 1258,458.6 1255.5,460 1252.9,459.3 1250.3,461.5 1247.7,460 1245.2,459.9 1242.6,460.4 1240,460.2 1237.4,459 1234.9,458 1232.3,457.2 1229.7,459.3 1227.1,457.5 1224.6,459.6 1222,460.2 1219.4,461.2 1216.8,458.5 1214.3,459.1 1211.7,460.4 1209.1,459.1 1206.5,457.8 1204,458.1 1201.4,459.1 1198.8,461 1196.2,459.1 1193.7,459.1 1191.1,459.1 1188.5,460.1 1185.9,458.3 1183.4,458.9 1180.8,459 1178.2,461.6 1175.6,462.2 1173,461.2 1170.5,460.8 1167.9,460.8 1165.3,462.3 1162.7,460.3 1160.2,460.9 1157.6,459.3 1157.2,166.6" fill="none" stroke="#f34343" stroke-width="2.8" stroke-linejoin="round"/>
<polyline points="896.6,154.1 899.2,155.4 901.8,153.8 904.3,153.8 906.9,152.3 909.5,153.3 912.1,153.1 914.6,154.7 917.2,154.3 919.8,153.2 922.4,153.7 924.9,153.2 927.5,152.8 930.1,151.1 932.7,150.6 935.2,155.7 937.8,154.1 940.4,151.2 943,152 945.5,154 948.1,153.1 950.7,152.1 953.3,150.9 955.8,151.5 958.4,152.8 961,156.8 963.6,154.3 966.1,154.5 968.7,157.4 971.3,156 973.9,154.7 976.4,154.8 979,152.6 981.6,152.7 984.2,153.4 986.7,150 989.3,150.4 991.9,148.4 994.5,148.2 997,146.6 999.6,149 1002.2,149.6 1004.8,148.4 1007.4,147 1009.9,148.8 1012.5,148.9 1015.1,149.6 1017.7,147.6 1020.2,149.5 1022.8,150.7 1025.4,153.1 1028,154.2 1030.5,155.9 1033.1,154 1035.7,153.1 1038.3,154 1040.8,153.6 1043.4,152.7 1046,150 1048.6,147.7 1051.1,148.2 1053.7,148.2 1056.3,148.2 1058.9,151.7 1061.4,154.7 1064,153 1066.6,153.7 1069.2,150.9 1071.7,152.7 1074.3,153.7 1076.9,156.2 1079.5,158.4 1082,158 1084.6,157.7 1087.2,157.3 1089.8,158.4 1092.3,157.2 1094.9,149.5 1097.5,153.1 1100.1,153.5 1102.6,149.6 1105.2,148.3 1107.8,148.1 1110.4,151.1 1113,152 1115.5,150.2 1118.1,153.7 1120.7,153 1123.3,152.5 1125.8,151 1128.4,152.3 1131,152.9 1133.6,154.1 1136.1,153.6 1138.7,155.4 1141.3,155.6 1143.9,153 1146.4,153.5 1149,153.2 1151.6,153 1154.2,151.9 1156.7,153.7 1159.3,155.3 1161.9,155.1 1164.5,156.2 1167,154 1169.6,154.5 1172.2,155.6 1174.8,156 1177.3,155.6 1179.9,154.3 1182.5,155.6 1185.1,151.5 1187.6,151.4 1190.2,153.1 1192.8,154.8 1195.4,154.1 1197.9,153.6 1200.5,153.9 1203.1,153.3 1205.7,152.5 1208.2,150.1 1210.8,149.8 1213.4,149.6 1216,149.6 1218.5,151.1 1221.1,152 1223.7,151.4 1226.3,150.3 1228.9,151.3 1231.4,151 1234,149.5 1236.6,152.3 1239.2,152.4 1241.7,150 1244.3,151.5 1246.9,151.9 1249.5,153.5 1252,151.3 1254.6,151.6 1257.2,151.6 1259.8,151.4 1262.3,151.5 1264.9,151.3 1267.5,150.4 1270.1,152.9 1272.6,150.5 1275.2,149.6" fill="none" stroke="#f34343" stroke-width="13.6" stroke-linecap="round" stroke-linejoin="round"/>
<polyline points="1538.8,460.5 1536.2,458.8 1533.6,460.7 1531.1,458.3 1528.5,458.4 1525.9,458.5 1523.3,460 1520.8,459.5 1518.2,462.6 1515.6,466.5 1513,466.9 1510.5,469 1507.9,468.1 1505.3,462.3 1502.7,459.3 1500.1,457.6 1497.6,454.3 1495,453.6 1492.4,453.6 1489.8,455.9 1487.3,459.3 1484.7,459.8 1482.1,459.4 1479.5,458.4 1477,459.2 1474.4,457.1 1471.8,455.1 1469.2,455.7 1466.7,456.4 1464.1,455.8 1461.5,454.6 1458.9,456 1456.4,456.4 1453.8,457.2 1451.2,456.8 1448.6,459.3 1446.1,458.9 1443.5,459.1 1440.9,460.1 1438.3,459.5 1435.8,459.3 1433.2,458.7 1430.6,460.9 1428,459.4 1425.5,456.3 1422.9,457.8 1420.3,456.8 1417.7,453.8 1415.2,454.4 1412.6,453 1410,454.3 1407.4,452.7 1404.9,454 1402.3,454.5 1399.7,457.2 1397.1,456.2 1394.5,457.7 1392,458.3 1389.4,458 1386.8,458.7 1384.2,457.5 1381.7,459.3 1379.1,460.4 1376.5,459.4 1373.9,459.8 1371.4,458.7 1368.8,459.7 1366.2,460.1 1363.6,459.5 1361.1,460 1358.5,457.8 1355.9,459.2 1353.3,459.9 1350.8,460.6 1348.2,461.7 1345.6,461.1 1343,462.1 1340.5,462.9 1337.9,461.8 1335.3,462.3 1332.7,461.2 1330.2,459.8 1327.6,461.6 1325,460.7 1322.4,460.7 1319.9,461.2 1317.3,458.6 1314.7,458.1 1312.1,457 1309.6,457.4 1307,457 1304.4,454.5 1301.8,456.5 1299.3,455.9 1296.7,454.8 1294.1,458.2 1291.5,455.9 1288.9,455.6 1286.4,458 1283.8,458.4 1281.2,459 1278.6,457.9 1276.1,461.2 1273.5,457.4 1270.9,461.3 1268.3,458.7 1265.8,459.3 1263.2,458.4 1260.6,461.9 1258,458.6 1255.5,460 1252.9,459.3 1250.3,461.5 1247.7,460 1245.2,459.9 1242.6,460.4 1240,460.2 1237.4,459 1234.9,458 1232.3,457.2 1229.7,459.3 1227.1,457.5 1224.6,459.6 1222,460.2 1219.4,461.2 1216.8,458.5 1214.3,459.1 1211.7,460.4 1209.1,459.1 1206.5,457.8 1204,458.1 1201.4,459.1 1198.8,461 1196.2,459.1 1193.7,459.1 1191.1,459.1 1188.5,460.1 1185.9,458.3 1183.4,458.9 1180.8,459 1178.2,461.6 1175.6,462.2 1173,461.2 1170.5,460.8 1167.9,460.8 1165.3,462.3 1162.7,460.3 1160.2,460.9 1157.6,459.3" fill="none" stroke="#f34343" stroke-width="13.6" stroke-linecap="round" stroke-linejoin="round"/>
<g fill="#f34343"><circle cx="1055.4" cy="159" r="6.6"/><circle cx="1057.1" cy="166.6" r="6.6"/><circle cx="1059.7" cy="173.3" r="6.6"/><circle cx="1062.3" cy="177.1" r="6.6"/><circle cx="1065.7" cy="177.9" r="6.6"/><circle cx="1068.3" cy="173.3" r="6.6"/><circle cx="1066.6" cy="166.6" r="6.6"/><circle cx="1063.2" cy="160.5" r="6.6"/><circle cx="1157.2" cy="166.6" r="6.6"/></g>
</g>
<rect x="896.6" y="50.5" width="643.9" height="482.2" fill="none" stroke="#000" stroke-width="5.2"/>
<text x="1003.9" y="567.8" font-family='"Liberation Serif", serif' font-size="29.5" text-anchor="middle" fill="#000"  >-50</text>
<text x="1218.5" y="567.8" font-family='"Liberation Serif", serif' font-size="29.5" text-anchor="middle" fill="#000"  >0</text>
<text x="1433.2" y="567.8" font-family='"Liberation Serif", serif' font-size="29.5" text-anchor="middle" fill="#000"  >50</text>
<text x="884" y="165.8" font-family='"Liberation Serif", serif' font-size="29.5" text-anchor="end" fill="#000"  >1</text>
<text x="884" y="316.5" font-family='"Liberation Serif", serif' font-size="29.5" text-anchor="end" fill="#000"  >0</text>
<text x="884" y="467.2" font-family='"Liberation Serif", serif' font-size="29.5" text-anchor="end" fill="#000"  >-1</text>
<text x="1218" y="604.5" font-family='"Liberation Serif", serif' font-size="41" text-anchor="middle"><tspan font-style="italic">H</tspan><tspan font-size="29" dy="12">z</tspan><tspan dy="-12"> (Oe)</tspan></text>
<text transform="translate(846,293.5) rotate(-90)" font-family='"Liberation Serif", serif' font-size="41" text-anchor="middle"><tspan font-style="italic">R</tspan><tspan font-size="29" dy="11">H</tspan><tspan dy="-11"> (a.u.)</tspan></text>
<line x1="1262.5" y1="79.5" x2="1331.5" y2="79.5" stroke="#4f4f4f" stroke-width="2.6"/>
<rect x="1291.5" y="74" width="11" height="11" fill="#4f4f4f"/>
<text x="1339.5" y="89.3" font-family='"Liberation Serif", serif' font-size="29.8" text-anchor="start" fill="#000"  >flat substrate</text>
<line x1="1262.5" y1="116.3" x2="1331.5" y2="116.3" stroke="#f34343" stroke-width="2.6"/>
<circle cx="1297" cy="116.3" r="6" fill="#f34343"/>
<text x="1339.5" y="126.5" font-family='"Liberation Serif", serif' font-size="29.8" text-anchor="start" fill="#000"  >vicinal substrate</text>
<text x="31.9" y="637.7" font-family='"Liberation Sans", sans-serif' font-size="33.5" text-anchor="start" fill="#000"  >(c)</text>
<text x="827.2" y="638" font-family='"Liberation Sans", sans-serif' font-size="33.5" text-anchor="start" fill="#000"  >(d)</text>
<clipPath id="clipc"><rect x="87.9" y="639.6" width="644" height="482.4"/></clipPath>
<clipPath id="clipd"><rect x="896.6" y="639.6" width="643.7" height="482.4"/></clipPath>
<g id="panel-c-data" clip-path="url(#clipc)">
<polyline points="731.9,726.6 730.4,765.2 728.9,774.5 727.4,818.3 725.9,745 724.4,761.3 722.9,775.6 721.4,741.3 719.9,746.1 718.4,788.7 716.9,781.3 715.4,777.6 713.9,751.8 712.4,750.3 710.9,777.4 709.4,784.9 707.9,751.5 706.4,735.5 704.9,763.1 703.4,782.1 701.9,721.6 700.4,768.7 698.9,745.2 697.4,722.2 695.9,759.9 694.4,771.8 692.9,758.1 691.4,787.3 689.9,777.7 688.4,786.3 686.9,778.7 685.4,784.8 683.9,778.7 682.4,783 680.9,773.2 679.4,774 677.9,769.3 676.4,746.1 674.9,808.6 673.4,748.8 671.9,781.3 670.4,802.5 668.9,780.3 667.3,775 665.8,754.6 664.3,799.7 662.8,772.9 661.3,775.2 659.8,813.4 658.3,803.1 656.8,765.6 655.3,763.8 653.8,755.7 652.3,767.6 650.8,770.7 649.3,776.6 647.8,753.9 646.3,797.4 644.8,782.7 643.3,771.8 641.8,813.4 640.3,752.6 638.8,797.1 637.3,782.1 635.8,735.2 634.3,798.3 632.8,792.1 631.3,748.2 629.8,804 628.3,790.5 626.8,770.6 625.3,772.1 623.8,769.3 622.3,774.1 620.8,753.7 619.3,760.8 617.8,769.8 616.3,796.9 614.8,797.7 613.3,823.1 611.8,768.4 610.3,821.5 608.8,764.7 607.3,744.4 605.8,805.9 604.3,798.1 602.8,793.8 601.3,766.4 599.8,802.3 598.3,787 596.8,795.4 595.3,789.8 593.8,757.4 592.3,805.1 590.8,783.4 589.3,779.3 587.8,767.1 586.3,812 584.8,761.9 583.3,776.4 581.8,767.3 580.3,784.4 578.8,820.6 577.3,799.8 575.8,769.1 574.3,785.7 572.8,787.6 571.3,748.9 569.8,740.4 568.3,787.8 566.8,746.4 565.3,829.4 563.8,830.7 562.3,769.3 560.8,793.2 559.3,775.6 557.8,777.1 556.3,790 554.8,773.9 553.3,785.2 551.8,820.9 550.3,784.1 548.8,784.9 547.3,750.3 545.8,812.9 544.3,788.9 542.8,798.4 541.3,792.3 539.8,754.7 538.2,781.8 536.7,799.8 535.2,786.9 533.7,774.1 532.2,811.4 530.7,796.1 529.2,758.1 527.7,772.7 526.2,791.9 524.7,801.2 523.2,794.5 521.7,824.2 520.2,771.9 518.7,784.8 517.2,789.4 515.7,820.1 514.2,808.2 512.7,782.6 511.2,788.5 509.7,804.9 508.2,784.2 506.7,775.6 505.2,810.2 503.7,807.8 502.2,815.5 500.7,822.1 499.2,781.5 497.7,788.3 496.2,792.6 494.7,825.3 493.2,823.5 491.7,803.7 490.2,812 488.7,801.7 487.2,820.1 485.7,792.6 484.2,769.6 482.7,776.2 481.2,776.2 479.7,810.1 478.2,793.5 476.7,822.4 475.2,796.5 473.7,825.4 472.2,829.3 470.7,834.1 469.2,807.4 467.7,818 466.2,821.5 464.7,851.2 463.2,825.9 461.7,861 460.2,801.2 458.7,836.9 457.2,831.8 455.7,839.9 454.2,872.9 452.7,870.2 451.2,843.7 449.7,813.5 448.2,870.4 446.7,863.6 445.2,851.6 443.7,888.2 442.2,890.3 440.7,865.1 439.2,859.4 437.7,868.6 436.2,829.9 434.7,867.7 433.2,858.5 431.7,834.2 430.2,833.7 428.7,904.9 427.2,881 425.7,850.1 424.2,905.3 422.7,897.2 421.2,906.5 419.7,909.2 418.2,905.7 416.7,879.3 415.2,857.4 413.7,853.2 412.2,886.3 410.7,929.2 409.1,889.9 407.6,896.8 406.1,883 404.6,894 403.1,930 401.6,884.1 400.1,937.1 398.6,908.7 397.1,888.1 395.6,887.9 394.1,862.6 392.6,946.1 391.1,889.6 389.6,882.7 388.1,904.6 386.6,884.7 385.1,922 383.6,885.5 382.1,888.6 380.6,921.3 379.1,915.4 377.6,906.1 376.1,916.7 374.6,881.6 373.1,900.8 371.6,877.6 370.1,881.5 368.6,906 367.1,912.3 365.6,929.2 364.1,927.1 362.6,928 361.1,904.7 359.6,931.7 358.1,912.3 356.6,910.9 355.1,926.4 353.6,920.9 352.1,887.4 350.6,884.9 349.1,936.4 347.6,925 346.1,929.8 344.6,928.8 343.1,891.6 341.6,910.5 340.1,899.5 338.6,889.6 337.1,937.5 335.6,933.2 334.1,929.4 332.6,909.7 331.1,934.3 329.6,919.8 328.1,909.8 326.6,911 325.1,927.2 323.6,954.3 322.1,971.5 320.6,916.1 319.1,931.1 317.6,961.6 316.1,953.5 314.6,953.4 313.1,980.3 311.6,940.7 310.1,963.6 308.6,954.3 307.1,933.5 305.6,952.2 304.1,939.7 302.6,943.3 301.1,952.6 299.6,953.3 298.1,916 296.6,960 295.1,923.1 293.6,977.7 292.1,943.9 290.6,956.6 289.1,976.5 287.6,1014.6 286.1,929 284.6,987.7 283.1,984.3 281.6,961.9 280,964 278.5,959.8 277,971.5 275.5,998.2 274,948.7 272.5,986.5 271,963.1 269.5,956.1 268,943.7 266.5,973.7 265,975.9 263.5,974.7 262,1009.2 260.5,986.4 259,992 257.5,995.4 256,967.8 254.5,978.2 253,938.2 251.5,940.7 250,1012 248.5,969.9 247,993.8 245.5,961.2 244,969.7 242.5,953.6 241,966.9 239.5,957.6 238,980.1 236.5,1026.8 235,999.2 233.5,992.4 232,984.9 230.5,996.1 229,940.5 227.5,978.7 226,948 224.5,982.7 223,940.8 221.5,1001.2 220,963.4 218.5,1004.3 217,967.1 215.5,943.1 214,1011.2 212.5,995.3 211,971.8 209.5,981.1 208,1006.1 206.5,952.9 205,976.3 203.5,950.2 202,970.9 200.5,1002 199,987.8 197.5,948.6 196,1007 194.5,987.7 193,965.2 191.5,956.5 190,960.5 188.5,1009.2 187,934.1 185.5,981.6 184,978 182.5,978.3 181,983.2 179.5,998.8 178,985.3 176.5,950.6 175,1007.3 173.5,1029.9 172,967.4 170.5,971.6 169,963.4 167.5,942.3 166,994.2 164.5,975.2 163,968.4 161.5,953 160,957.4 158.5,996.9 157,1008.2 155.5,985 154,1013.3 152.5,955.9 150.9,987.7 149.4,986.9 147.9,998.3 146.4,947.4 144.9,973.5 143.4,988.3 141.9,966.8 140.4,981.6 138.9,967.3 137.4,952 135.9,985.5 134.4,969.1 132.9,969.9 131.4,956.1 129.9,967.6 128.4,979.5 126.9,993.8 125.4,974.1 123.9,1002.4 122.4,966.6 120.9,979.2 119.4,968.9 117.9,991.5 116.4,997.5 114.9,999.9 113.4,957.3 111.9,985.4 110.4,985.7 108.9,1018.6 107.4,982.1 105.9,1033.7 104.4,952.3 102.9,986.2 101.4,980.7 99.9,1011.3 98.4,1004.3 96.9,968.5 95.4,985.7 93.9,972.3 92.4,954.6 90.9,967.5 89.4,1021.6 87.9,1002.4 87.9,1005.8 89.4,1001 90.9,1025.7 92.4,1025.1 93.9,997.4 95.4,994.3 96.9,970.8 98.4,988.5 99.9,951.6 101.4,1020.1 102.9,1010.9 104.4,976.2 105.9,987.2 107.4,1002.2 108.9,965.1 110.4,958.3 111.9,953.6 113.4,989.6 114.9,981.3 116.4,976.3 117.9,979.8 119.4,959.4 120.9,991.3 122.4,973.1 123.9,1027.5 125.4,964.8 126.9,946.1 128.4,981.2 129.9,958.7 131.4,1015.6 132.9,987.5 134.4,1013 135.9,973.7 137.4,969.3 138.9,1009.2 140.4,998.1 141.9,992.5 143.4,929 144.9,981.6 146.4,977.5 147.9,972.4 149.4,973.6 150.9,984.9 152.5,1007.9 154,994.1 155.5,945.2 157,974.2 158.5,987.5 160,1008.1 161.5,980.7 163,978.8 164.5,993.2 166,960.5 167.5,991.7 169,982.8 170.5,961.4 172,974.4 173.5,955.4 175,983.9 176.5,988.1 178,969 179.5,974.3 181,953.8 182.5,970.2 184,979.2 185.5,969.1 187,964.7 188.5,1002.2 190,981.5 191.5,985.5 193,953 194.5,988.5 196,955.8 197.5,1004.9 199,979.3 200.5,955.6 202,983.5 203.5,953.7 205,1020.7 206.5,977.3 208,974.4 209.5,980.4 211,1009.6 212.5,963.6 214,1026.8 215.5,957.5 217,971.3 218.5,956.6 220,982.7 221.5,1000.6 223,988 224.5,986.7 226,964.2 227.5,983.2 229,967.8 230.5,966.1 232,946.2 233.5,1017.9 235,984.3 236.5,961 238,960.8 239.5,986.9 241,980.5 242.5,976.6 244,971.7 245.5,986.1 247,987.6 248.5,997.4 250,981.6 251.5,944.2 253,993.2 254.5,952.7 256,931.9 257.5,968.3 259,922.6 260.5,975.1 262,936.7 263.5,972.6 265,997 266.5,963.8 268,931.1 269.5,983 271,960.1 272.5,990.9 274,988.2 275.5,959.6 277,972.7 278.5,956.5 280,941.2 281.6,992.5 283.1,981.6 284.6,965.8 286.1,917.4 287.6,972.7 289.1,975.5 290.6,955.6 292.1,919.9 293.6,976 295.1,969.6 296.6,961.6 298.1,945.8 299.6,914.9 301.1,986.4 302.6,994.3 304.1,955.1 305.6,946.1 307.1,1003.5 308.6,968.3 310.1,934 311.6,964.3 313.1,941.9 314.6,947.4 316.1,936.2 317.6,939.7 319.1,942.3 320.6,920.5 322.1,957.5 323.6,942 325.1,919.7 326.6,954.3 328.1,949.2 329.6,956.2 331.1,959.1 332.6,895.5 334.1,927.2 335.6,896.5 337.1,919.6 338.6,932.3 340.1,938.8 341.6,926.3 343.1,931.7 344.6,910.5 346.1,947.1 347.6,924.1 349.1,916.8 350.6,930.4 352.1,929.4 353.6,911.8 355.1,910.6 356.6,923.5 358.1,920.6 359.6,931 361.1,906.6 362.6,919.9 364.1,949.4 365.6,922 367.1,901.5 368.6,907.6 370.1,931.3 371.6,896.2 373.1,898 374.6,897 376.1,876.8 377.6,915 379.1,894.4 380.6,911.6 382.1,884.5 383.6,879.9 385.1,893.2 386.6,887 388.1,919 389.6,888 391.1,925.5 392.6,854.2 394.1,874.9 395.6,930.8 397.1,951.8 398.6,870.2 400.1,915.1 401.6,885.2 403.1,923.6 404.6,894.4 406.1,909.1 407.6,882.4 409.1,901.6 410.7,862.6 412.2,909.4 413.7,865.8 415.2,892.4 416.7,880.4 418.2,924.2 419.7,926.7 421.2,866.7 422.7,913.8 424.2,894.1 425.7,892.6 427.2,903.7 428.7,879.2 430.2,912 431.7,906.1 433.2,860.3 434.7,895.3 436.2,861.3 437.7,861.5 439.2,841.9 440.7,862.6 442.2,909.2 443.7,882.5 445.2,875.7 446.7,839.3 448.2,856.1 449.7,871.7 451.2,850.3 452.7,865.1 454.2,844 455.7,850.4 457.2,828.4 458.7,842.8 460.2,826.9 461.7,846.3 463.2,829.2 464.7,845.5 466.2,826.9 467.7,834 469.2,839.6 470.7,844 472.2,839.2 473.7,821.7 475.2,878.3 476.7,802 478.2,876.4 479.7,828.7 481.2,830 482.7,805.8 484.2,814.9 485.7,819.2 487.2,815 488.7,795.3 490.2,764.4 491.7,804.4 493.2,854.5 494.7,818.5 496.2,799.5 497.7,754.3 499.2,822.1 500.7,812.7 502.2,792 503.7,796 505.2,829.8 506.7,781 508.2,828 509.7,805.1 511.2,770.8 512.7,825.9 514.2,804.7 515.7,761.6 517.2,801.8 518.7,817.9 520.2,807.5 521.7,777 523.2,827.3 524.7,807.1 526.2,824.1 527.7,817.4 529.2,765.4 530.7,794 532.2,801.2 533.7,782.7 535.2,806.5 536.7,816.7 538.2,766.8 539.8,772.4 541.3,808.7 542.8,775.7 544.3,759.7 545.8,780 547.3,779.6 548.8,816.3 550.3,792.8 551.8,829.3 553.3,766.1 554.8,793.2 556.3,761.4 557.8,805.6 559.3,770.6 560.8,822.6 562.3,797.4 563.8,777.1 565.3,781 566.8,789.7 568.3,823.2 569.8,760 571.3,774 572.8,763.6 574.3,763.8 575.8,795.5 577.3,779.1 578.8,734.5 580.3,804.9 581.8,778.3 583.3,798.8 584.8,749.5 586.3,782.9 587.8,808.6 589.3,799.2 590.8,816.1 592.3,834.6 593.8,838.6 595.3,801.3 596.8,809.7 598.3,782.3 599.8,803 601.3,780.4 602.8,747.3 604.3,810 605.8,810.7 607.3,763.6 608.8,734.4 610.3,803 611.8,820.3 613.3,790.3 614.8,792.6 616.3,768.6 617.8,806.4 619.3,789.1 620.8,790 622.3,817 623.8,816.7 625.3,773.4 626.8,771.2 628.3,799.7 629.8,749.1 631.3,762.4 632.8,772.3 634.3,769.1 635.8,774.5 637.3,766.4 638.8,763.2 640.3,780.1 641.8,825.4 643.3,784.8 644.8,799 646.3,806.5 647.8,768.1 649.3,819 650.8,762.8 652.3,794.2 653.8,806.7 655.3,798.9 656.8,729.9 658.3,748.2 659.8,785.8 661.3,756.6 662.8,741.1 664.3,797.9 665.8,785.1 667.3,759 668.9,770 670.4,786.4 671.9,743.2 673.4,767 674.9,760.7 676.4,726.1 677.9,766.8 679.4,724.3 680.9,770.4 682.4,780.2 683.9,773.8 685.4,757.6 686.9,762.1 688.4,768 689.9,807.8 691.4,799.1 692.9,781.2 694.4,759.5 695.9,743.9 697.4,819.6 698.9,759.6 700.4,778.2 701.9,763.1 703.4,746.4 704.9,786 706.4,792.6 707.9,741 709.4,730.2 710.9,769.1 712.4,763.7 713.9,780.4 715.4,775.4 716.9,755.1 718.4,770.6 719.9,787.9 721.4,780.6 722.9,729.4 724.4,749.6 725.9,757.8 727.4,756.5 728.9,747.9 730.4,738.1 731.9,776" fill="none" stroke="#4f4f4f" stroke-width="3.2" stroke-linejoin="round" stroke-linecap="round"/>
<polyline points="731.9,772.7 731.5,768.1 731,773.6 730.6,786.2 730.2,772.7 729.8,752.7 729.3,778.2 728.9,780.1 728.5,799.3 728,749.7 727.6,799.2 727.2,808.3 726.7,787.5 726.3,752 725.9,789.8 725.5,748.9 725,757.6 724.6,789.3 724.2,779.2 723.7,780.4 723.3,750.2 722.9,768.8 722.4,770.4 722,771.5 721.6,769 721.2,766.2 720.7,752.7 720.3,792 719.9,788.6 719.4,784.7 719,755.8 718.6,756.5 718.2,778.1 717.7,767 717.3,760.9 716.9,759.8 716.4,756.1 716,772.9 715.6,769.4 715.1,799.2 714.7,772.2 714.3,803.2 713.9,780.7 713.4,797.9 713,760.9 712.6,755.3 712.1,766.6 711.7,746.9 711.3,799.1 710.8,763 710.4,779.7 710,763.4 709.6,762.3 709.1,754.8 708.7,750.9 708.3,777.4 707.8,758.4 707.4,775.8 707,767.6 706.6,776.3 706.1,756.5 705.7,802.8 705.3,759.2 704.8,761.2 704.4,756.4 704,801.2 703.5,770.3 703.1,756.9 702.7,796 702.3,747.4 701.8,783.2 701.4,790.7 701,758.7 700.5,807.9 700.1,764.9 699.7,776.5 699.2,748.4 698.8,791.8 698.4,766.5 698,798.9 697.5,784.8 697.1,760.4 696.7,792.2 696.2,783 695.8,756.9 695.4,781.3 695,790 694.5,792 694.1,807.6 693.7,762.6 693.2,782.7 692.8,784.1 692.4,803 691.9,762.2 691.5,753.5 691.1,782.3 690.7,777 690.2,749.1 689.8,782.1 689.4,779.2 688.9,778 688.5,769.5 688.1,782.1 687.6,748.6 687.2,756.6 686.8,785.7 686.4,797.7 685.9,750.4 685.5,758.8 685.1,779.8 684.6,759.1 684.2,788.8 683.8,783.1 683.4,765.4 682.9,769.9 682.5,765.5 682.1,770.2 681.6,776.2 681.2,776.8 680.8,761.3 680.3,752 679.9,783.7 679.5,746.2 679.1,786.2 678.6,770.2 678.2,786.8 677.8,747.3 677.3,758.4 676.9,784 676.5,755.7 676,764.9 675.6,768.6 675.2,775.3 674.8,778.2 674.3,751.9 673.9,794.3 673.5,792.1 673,757.3 672.6,787.2 672.2,788.9 671.8,798 671.3,798.7 670.9,785 670.5,767.5 670,752.4 669.6,780.1 669.2,798.5 668.7,791.1 668.3,799.2 667.9,778.7 667.5,792.9 667,751.7 666.6,773.5 666.2,758 665.7,752.1 665.3,746.1 664.9,786.6 664.4,802.2 664,781.3 663.6,751.5 663.2,752.7 662.7,766.4 662.3,778.2 661.9,770.7 661.4,789.8 661,802.2 660.6,804 660.2,796.5 659.7,743.9 659.3,770.4 658.9,781.2 658.4,747.5 658,767.5 657.6,796.9 657.1,755 656.7,777.4 656.3,767 655.9,740.9 655.4,805.3 655,745.6 654.6,794.9 654.1,796.3 653.7,783 653.3,745.5 652.8,780.9 652.4,800 652,753.6 651.6,764.1 651.1,754.7 650.7,752.8 650.3,741.3 649.8,776.8 649.4,747.4 649,777 648.6,770.9 648.1,805 647.7,738.6 647.3,769.6 646.8,778.6 646.4,796.6 646,790.3 645.5,782 645.1,758.1 644.7,756 644.3,775.6 643.8,784.8 643.4,801.3 643,739.6 642.5,786.1 642.1,749.2 641.7,758.8 641.3,780 640.8,789.2 640.4,787.7 640,789.2 639.5,755.7 639.1,742.2 638.7,759 638.2,791.1 637.8,755.1 637.4,769.5 637,758 636.5,759.6 636.1,757.7 635.7,783.8 635.2,788.4 634.8,796.2 634.4,750.5 633.9,769.7 633.5,793.6 633.1,747.5 632.7,768.2 632.2,786.7 631.8,796.6 631.4,796.4 630.9,772.9 630.5,767.5 630.1,744.9 629.7,756.5 629.2,770.9 628.8,781.6 628.4,757.2 627.9,749.2 627.5,774.6 627.1,757.8 626.6,751 626.2,778.5 625.8,771.2 625.4,787.8 624.9,772.3 624.5,787.7 624.1,800.7 623.6,749 623.2,768.5 622.8,763.9 622.3,741.4 621.9,744.1 621.5,776.6 621.1,782.4 620.6,762.4 620.2,748.9 619.8,740.9 619.3,737.7 618.9,770.2 618.5,769.5 618.1,799.3 617.6,769.2 617.2,746.2 616.8,794 616.3,793.4 615.9,776.3 615.5,791.2 615,798.7 614.6,795.5 614.2,773 613.8,797.2 613.3,736 612.9,802.3 612.5,807.8 612,784.3 611.6,750.6 611.2,739.8 610.7,782.7 610.3,791.6 609.9,759.7 609.5,784.2 609,735.5 608.6,770.6 608.2,767.8 607.7,788.6 607.3,745.6 606.9,736.9 606.5,739.4 606,758.1 605.6,780.2 605.2,799.6 604.7,799.9 604.3,764.5 603.9,749.9 603.4,791.2 603,773 602.6,768.8 602.2,761.1 601.7,798.3 601.3,798.4 600.9,780.2 600.4,768.7 600,772 599.6,736.9 599.1,768.6 598.7,738.4 598.3,789.8 597.9,802.6 597.4,744.7 597,770.5 596.6,797.9 596.1,766.5 595.7,759 595.3,786.2 594.9,738.8 594.4,746.9 594,774.7 593.6,790.6 593.1,789 592.7,738.5 592.3,772 591.8,764.2 591.4,795.6 591,764.1 590.6,735.6 590.1,736.6 589.7,778 589.3,791.5 588.8,762.1 588.4,765.5 588,754.3 587.5,803.9 587.1,751.7 586.7,729.7 586.3,794.3 585.8,779.8 585.4,771.3 585,744.5 584.5,790.2 584.1,829.6 583.7,786.3 583.3,741.8 582.8,784.3 582.4,792.8 582,752.5 581.5,804.8 581.1,756.5 580.7,775.8 580.2,772.4 579.8,743.8 579.4,783.8 579,768.8 578.5,780.5 578.1,745.4 577.7,741.2 577.2,750.9 576.8,789.3 576.4,771.3 575.9,773 575.5,767.4 575.1,739 574.7,785 574.2,752 573.8,734.8 573.4,771.6 572.9,783.9 572.5,798.7 572.1,755.6 571.7,776.1 571.2,777.1 570.8,781.6 570.4,777.4 569.9,735.2 569.5,762.1 569.1,747.1 568.6,776.4 568.2,744.1 567.8,748.3 567.4,793.5 566.9,734.6 566.5,789.7 566.1,754.5 565.6,774.4 565.2,749 564.8,787.5 564.3,755.6 563.9,750.6 563.5,792.1 563.1,762.6 562.6,759.3 562.2,769.6 561.8,790.6 561.3,792.8 560.9,752.9 560.5,770.9 560.1,741.3 559.6,786.7 559.2,752.2 558.8,790.9 558.3,784.3 557.9,791.5 557.5,745.5 557,746.1 556.6,778.6 556.2,779.2 555.8,749.7 555.3,777.8 554.9,781.1 554.5,771 554,757.1 553.6,737.9 553.2,750.7 552.7,735.9 552.3,782.7 551.9,740.9 551.5,779.3 551,749.4 550.6,772.8 550.2,762.7 549.7,797.4 549.3,780.2 548.9,756.6 548.5,797 548,779.5 547.6,778.3 547.2,764.3 546.7,788.3 546.3,754.4 545.9,777.8 545.4,800.8 545,741.3 544.6,752.9 544.2,750.6 543.7,743.6 543.3,796 542.9,784.3 542.4,788.3 542,782.9 541.6,754.8 541.1,791.8 540.7,734.3 540.3,769.6 539.9,737.8 539.4,763.5 539,760.9 538.6,773.3 538.1,747.9 537.7,771.7 537.3,744.4 536.9,786.4 536.4,795.8 536,768.6 535.6,777.1 535.1,788.4 534.7,735.6 534.3,750 533.8,777.6 533.4,771.2 533,774.2 532.6,777 532.1,781.2 531.7,786 531.3,779.2 530.8,788.4 530.4,746.9 530,754.2 529.5,732.9 529.1,759.5 528.7,788.8 528.3,773.2 527.8,740.5 527.4,763.2 527,750.3 526.5,779.7 526.1,790.5 525.7,738.5 525.3,764.6 524.8,735.2 524.4,769.9 524,776.4 523.5,753.7 523.1,770.7 522.7,785.5 522.2,746.4 521.8,737.4 521.4,740.4 521,757.8 520.5,749.7 520.1,754.1 519.7,800.8 519.2,739.2 518.8,800.4 518.4,796.5 517.9,754.2 517.5,792.5 517.1,754 516.7,729.9 516.2,756.5 515.8,801.9 515.4,788.1 514.9,750.8 514.5,766.5 514.1,773.9 513.7,785.3 513.2,791.2 512.8,780.9 512.4,777.3 511.9,777.3 511.5,737.2 511.1,783.7 510.6,781.4 510.2,770.6 509.8,772.1 509.4,776.4 508.9,798.7 508.5,775.5 508.1,744.6 507.6,734.4 507.2,746.6 506.8,768.3 506.3,764.3 505.9,774.1 505.5,771.8 505.1,739.1 504.6,772.6 504.2,758.4 503.8,771.9 503.3,763.5 502.9,760.5 502.5,796.7 502.1,781.2 501.6,757.7 501.2,770.6 500.8,755 500.3,787.9 499.9,794.5 499.5,758.7 499,766.2 498.6,761.6 498.2,748.7 497.8,784.2 497.3,742.7 496.9,740.5 496.5,738.7 496,755.2 495.6,783.6 495.2,746.7 494.7,746.1 494.3,742.8 493.9,743.9 493.5,747.9 493,790.7 492.6,793.4 492.2,768.1 491.7,746.3 491.3,774.3 490.9,765.4 490.5,757.9 490,792.7 489.6,770.8 489.2,782.3 488.7,789 488.3,790.4 487.9,752.6 487.4,743.7 487,755.1 486.6,747.4 486.2,771.1 485.7,782.7 485.3,740.9 484.9,783.2 484.4,790.1 484,761.3 483.6,742.9 483.2,772.9 482.7,777.3 482.3,761.5 481.9,777.5 481.4,765.6 481,785.3 480.6,792.6 480.1,768.9 479.7,758.4 479.3,758.7 478.9,756.1 478.4,797.3 478,754.8 477.6,792.8 477.1,798.5 476.7,775.3 476.3,750.3 475.8,780.8 475.4,781.6 475,756.1 474.6,770.5 474.1,775.2 473.7,745.2 473.3,784.9 472.8,761.8 472.4,793.4 472,753.7 471.6,784.1 471.1,753.5 470.7,768.2 470.3,745.8 469.8,797.5 469.4,797.5 469,749.7 468.5,771.8 468.1,753 467.7,779.1 467.3,796.6 466.8,760.2 466.4,784 466,776.2 465.5,760.9 465.1,766.5 464.7,758.2 464.2,766 463.8,790.3 463.4,754.7 463,798.3 462.5,753.2 462.1,747.2 461.7,758.2 461.2,774.7 460.8,778.9 460.4,751.5 460,803.6 459.5,758 459.1,784.7 458.7,780.4 458.2,794.3 457.8,782.7 457.4,761.3 456.9,739.4 456.5,779.3 456.1,786.5 455.7,781.7 455.2,766.5 454.8,766.5 454.4,769 453.9,770.3 453.5,760.2 453.1,765 452.6,758 452.2,763.7 451.8,750 451.4,768.5 450.9,756.8 450.5,801.5 450.1,760.1 449.6,762.9 449.2,779.6 448.8,795.3 448.4,798.9 447.9,791.6 447.5,762 447.1,773.9 446.6,778.5 446.2,751.2 445.8,762.2 445.3,773.9 444.9,802.2 444.5,806.8 444.1,772.1 443.6,789.7 443.2,767.6 442.8,775.2 442.3,770.1 441.9,754.7 441.5,781.1 441,787.1 440.6,756.2 440.2,782.6 439.8,790.7 439.3,778.3 438.9,761.6 438.5,798 438,780.6 437.6,801.5 437.2,764.7 436.8,758 436.3,748.4 435.9,776.2 435.5,790 435,762 434.6,786.5 434.2,797 433.7,795.2 433.3,809.2 432.9,802.6 432.5,763.1 432,788 431.6,807.4 431.2,785.2 430.7,786.5 430.3,805.7 429.9,807.7 429.4,768.6 429,790.4 428.6,761.1 428.2,804.9 427.7,791.3 427.3,762.4 426.9,773.5 426.4,762.1 426,760.9 425.6,780.1 425.2,765.7 424.7,764.4 424.3,795.3 423.9,762.3 423.4,764.6 423,803.9 422.6,792.9 422.1,780.5 421.7,771.1 421.3,782.7 420.9,790.2 420.4,807.6 420,804.1 419.6,793.8 419.1,785 418.7,763.4 418.3,797.8 417.8,772.2 417.4,814.3 417,784.7 416.6,768.2 416.1,797.7 415.7,796.9 415.3,804.3 414.8,786.9 414.4,782.4 414,770.8 413.6,795.2 413.1,786.5 412.7,801.9 412.3,790.4 411.8,806.2 411.4,776 411,795.6 410.5,785.2 410.1,789.5 409.7,794.3 409.3,780.4 408.8,1002 408.4,972.8 408,976.8 407.5,996.4 407.1,986.4 406.7,974.9 406.2,972.3 405.8,972.4 405.4,971.6 405,979.9 404.5,986.2 404.1,1004.5 403.7,964.9 403.2,1016.4 402.8,1004.1 402.4,992.3 402,1014.6 401.5,1002.4 401.1,965.9 400.7,996.4 400.2,975.2 399.8,969 399.4,1013.9 398.9,979.9 398.5,976 398.1,967.4 397.7,1000.6 397.2,983.7 396.8,990.6 396.4,980.6 395.9,986 395.5,970.3 395.1,972.3 394.6,993.7 394.2,999 393.8,1005.5 393.4,971.9 392.9,1008.9 392.5,962.4 392.1,1016.2 391.6,962.4 391.2,1002.1 390.8,1001 390.4,1016.2 389.9,977.4 389.5,993.5 389.1,982.6 388.6,994.9 388.2,966.5 387.8,978.6 387.3,975.5 386.9,1000.3 386.5,975.6 386.1,1010.3 385.6,970.8 385.2,1011.7 384.8,990.5 384.3,1003.6 383.9,1003.3 383.5,991.7 383,1014.8 382.6,1003.7 382.2,1002.5 381.8,975.9 381.3,977.3 380.9,984.9 380.5,986.4 380,993 379.6,1011.6 379.2,973 378.8,992.5 378.3,994.7 377.9,965.1 377.5,960.8 377,1001.9 376.6,966.7 376.2,976.6 375.7,999 375.3,988.7 374.9,963.9 374.5,998.8 374,994.9 373.6,989.9 373.2,972.9 372.7,1012.9 372.3,1009.3 371.9,987.9 371.4,964.5 371,977.8 370.6,989.7 370.2,979.8 369.7,1014.1 369.3,997.7 368.9,983.6 368.4,1007.2 368,1006 367.6,1004.6 367.2,980.5 366.7,968.5 366.3,1012 365.9,975.4 365.4,991.9 365,965.5 364.6,991.7 364.1,972 363.7,990.4 363.3,1018.7 362.9,981.6 362.4,982.4 362,960.5 361.6,1007.4 361.1,1009.6 360.7,968.8 360.3,1002.7 359.8,1000.9 359.4,1017.9 359,1002.2 358.6,1010 358.1,1001.1 357.7,990.8 357.3,1010.9 356.8,1011.4 356.4,990.2 356,966.5 355.6,974.4 355.1,994.7 354.7,1007.7 354.3,970.6 353.8,978.6 353.4,986 353,987.8 352.5,1006.3 352.1,974.2 351.7,1004.9 351.3,990.6 350.8,982.6 350.4,972.3 350,1007.4 349.5,963.4 349.1,969.6 348.7,1004.6 348.2,996.6 347.8,965.1 347.4,982.7 347,1004.9 346.5,967 346.1,989.2 345.7,990.7 345.2,1014.1 344.8,1018.3 344.4,991.2 344,993.5 343.5,970.7 343.1,1016.9 342.7,981.2 342.2,1005.9 341.8,968 341.4,994.1 340.9,974.2 340.5,994.1 340.1,990.5 339.7,1009.1 339.2,1011.7 338.8,1008.1 338.4,993.5 337.9,1008.9 337.5,993.4 337.1,974.8 336.6,1020.1 336.2,960.5 335.8,965.8 335.4,1006.1 334.9,977.8 334.5,1021 334.1,983.3 333.6,1008.2 333.2,997 332.8,964.9 332.4,980.2 331.9,1000.9 331.5,1011.5 331.1,1002 330.6,970.9 330.2,1008.6 329.8,985.6 329.3,965.5 328.9,1021.9 328.5,996.4 328.1,988 327.6,1003.2 327.2,962.1 326.8,962.5 326.3,966.7 325.9,1012.2 325.5,968.9 325.1,984.9 324.6,986.1 324.2,980.8 323.8,989.1 323.3,982.7 322.9,1023.5 322.5,980.9 322,1002.5 321.6,979.3 321.2,973.5 320.8,968.4 320.3,1010.1 319.9,978.9 319.5,1003.4 319,982.2 318.6,1016.4 318.2,982.9 317.7,972.6 317.3,968.5 316.9,1012.8 316.5,1019.8 316,1014.1 315.6,979.3 315.2,979.6 314.7,975.4 314.3,979.1 313.9,1001.2 313.5,986.6 313,1015.9 312.6,1010.5 312.2,1016.8 311.7,964.9 311.3,1024.1 310.9,1000.8 310.4,987.6 310,997.7 309.6,989.1 309.2,980.5 308.7,972.1 308.3,983.8 307.9,1008.1 307.4,1015.5 307,988.4 306.6,989.1 306.1,985.9 305.7,978.5 305.3,986.3 304.9,1010.2 304.4,966.7 304,1001.9 303.6,974.8 303.1,977.2 302.7,981.8 302.3,972.5 301.9,967.5 301.4,978.7 301,963.5 300.6,977.2 300.1,966.6 299.7,964.7 299.3,996.8 298.8,993.2 298.4,989.6 298,1004.2 297.6,997.4 297.1,998.6 296.7,971.4 296.3,967.6 295.8,981 295.4,999.9 295,974.5 294.5,987.2 294.1,989.2 293.7,1000.8 293.3,972 292.8,984.6 292.4,989.6 292,989 291.5,975.9 291.1,987.6 290.7,987.4 290.3,976.4 289.8,987.4 289.4,978 289,1001 288.5,978.1 288.1,980.3 287.7,998.5 287.2,1011.3 286.8,979.7 286.4,975.5 286,1011.7 285.5,985.7 285.1,974.5 284.7,993.6 284.2,1023 283.8,990.8 283.4,991 282.9,993.2 282.5,997.2 282.1,995.3 281.7,1001.6 281.2,1013.8 280.8,966.1 280.4,1013 279.9,994.2 279.5,1004.9 279.1,1002.6 278.7,991 278.2,997.9 277.8,993.1 277.4,993 276.9,984.3 276.5,1017.5 276.1,992.5 275.6,1014.8 275.2,990 274.8,1016.5 274.4,1020.3 273.9,1010.5 273.5,989.9 273.1,996.3 272.6,973 272.2,969.7 271.8,977.7 271.3,964.2 270.9,1008.7 270.5,1003.2 270.1,1008.3 269.6,973.8 269.2,1010.3 268.8,992.8 268.3,1010.5 267.9,967.3 267.5,984.9 267.1,1011 266.6,968.1 266.2,969.6 265.8,980.3 265.3,981.9 264.9,987.8 264.5,981 264,1014.1 263.6,1001.1 263.2,1005.2 262.8,973.3 262.3,982.4 261.9,974.3 261.5,1012 261,963.4 260.6,988.7 260.2,1015.4 259.7,977.8 259.3,989.8 258.9,996.5 258.5,998.1 258,962.1 257.6,991.7 257.2,976 256.7,960.3 256.3,968.5 255.9,1007.1 255.5,978.4 255,987.8 254.6,1012.7 254.2,976.4 253.7,967 253.3,985.6 252.9,984.9 252.4,970.6 252,1006.6 251.6,1008.6 251.2,1003.6 250.7,976.1 250.3,971.7 249.9,1011.2 249.4,988.5 249,999.6 248.6,1006.8 248.1,1002.8 247.7,993.7 247.3,984.3 246.9,972.1 246.4,975 246,1003.9 245.6,992.6 245.1,982.1 244.7,963.3 244.3,970.5 243.9,970.5 243.4,986.7 243,996.7 242.6,1002.4 242.1,994 241.7,957.9 241.3,969.4 240.8,1006.5 240.4,982.7 240,999.6 239.6,1004.2 239.1,1021.2 238.7,980.1 238.3,993.7 237.8,1010.4 237.4,996 237,1016 236.5,978 236.1,996 235.7,966.2 235.3,967.1 234.8,979.1 234.4,995.7 234,996 233.5,962.8 233.1,1012 232.7,966.9 232.3,961.7 231.8,998.8 231.4,989.2 231,1010.3 230.5,981.9 230.1,1009.9 229.7,965.6 229.2,1014.4 228.8,1000.2 228.4,997.3 228,977.9 227.5,998.7 227.1,1000.5 226.7,961.3 226.2,985 225.8,984.4 225.4,986.1 224.9,995.2 224.5,1012.4 224.1,987.9 223.7,1008.5 223.2,1001.6 222.8,983.1 222.4,979.7 221.9,977.2 221.5,1013.5 221.1,994.2 220.7,989.4 220.2,970.5 219.8,965.2 219.4,999.3 218.9,961.5 218.5,972.5 218.1,989.9 217.6,1010.8 217.2,1020.5 216.8,980 216.4,977.2 215.9,972.5 215.5,997.7 215.1,992.7 214.6,981.9 214.2,1016.1 213.8,1002.9 213.3,985.4 212.9,976.3 212.5,965.2 212.1,995.3 211.6,1001.5 211.2,1000.9 210.8,985.4 210.3,966.8 209.9,989 209.5,972.8 209.1,1008.3 208.6,989.5 208.2,980.4 207.8,1008.8 207.3,970.3 206.9,981.1 206.5,981.6 206,1009.7 205.6,967.7 205.2,1016.8 204.8,1021.3 204.3,1016.6 203.9,985.5 203.5,990.7 203,965.4 202.6,995.4 202.2,995.9 201.7,979.2 201.3,993.3 200.9,974.5 200.5,981.6 200,981.4 199.6,980.3 199.2,1021.7 198.7,999.4 198.3,1001.9 197.9,984.3 197.5,971 197,982.8 196.6,971.7 196.2,967.7 195.7,996.8 195.3,961.8 194.9,1022.3 194.4,975.1 194,988.3 193.6,992.2 193.2,982.1 192.7,1010.1 192.3,975.4 191.9,966.2 191.4,1001.7 191,1014 190.6,1001.2 190.1,992.4 189.7,1017.4 189.3,995 188.9,998.5 188.4,975.7 188,983.8 187.6,1006.4 187.1,1015 186.7,997.1 186.3,968.6 185.9,1016.9 185.4,1021.1 185,997.8 184.6,1015.1 184.1,985 183.7,991.4 183.3,966.7 182.8,1015.9 182.4,973.1 182,981.3 181.6,978 181.1,979.6 180.7,998.2 180.3,982 179.8,1016.5 179.4,995.5 179,999.1 178.5,976.8 178.1,978.9 177.7,984.8 177.3,1001 176.8,1012.1 176.4,961.9 176,973.6 175.5,987.5 175.1,998.7 174.7,1004.2 174.3,1015.3 173.8,983.2 173.4,1010.3 173,1007.6 172.5,996.1 172.1,974.6 171.7,1009.8 171.2,960.4 170.8,986.4 170.4,978.1 170,971 169.5,996.7 169.1,985.7 168.7,969.5 168.2,965.3 167.8,992 167.4,978.6 167,1017.2 166.5,1000.7 166.1,982.5 165.7,984.3 165.2,1004.3 164.8,997.7 164.4,1017.9 163.9,1016.7 163.5,987.4 163.1,1016.2 162.7,989.7 162.2,964.6 161.8,961 161.4,1003 160.9,1020.4 160.5,1005.4 160.1,972.3 159.6,968.3 159.2,978 158.8,993.4 158.4,966 157.9,1014.7 157.5,975.3 157.1,999.1 156.6,978.6 156.2,979.2 155.8,977.8 155.4,992.8 154.9,967 154.5,979.3 154.1,970.5 153.6,999.1 153.2,1007.9 152.8,989.4 152.3,1011.6 151.9,979.6 151.5,980.8 151.1,1007.4 150.6,994.2 150.2,1012.5 149.8,1015.6 149.3,1004.7 148.9,966.6 148.5,959 148,966.6 147.6,994.1 147.2,970.2 146.8,1001.6 146.3,978.3 145.9,987.2 145.5,1016 145,983.2 144.6,969.4 144.2,1018.3 143.8,969.7 143.3,1011 142.9,1004.2 142.5,1013 142,1012.7 141.6,1023.1 141.2,980.3 140.7,996.9 140.3,1019.6 139.9,988.2 139.5,1005.2 139,999.7 138.6,977.3 138.2,978 137.7,1002.2 137.3,997.8 136.9,974.4 136.4,1004.1 136,961.3 135.6,1002 135.2,998.7 134.7,983.4 134.3,963.6 133.9,983.8 133.4,986.8 133,1002.7 132.6,1018 132.2,1005.3 131.7,961.7 131.3,958.4 130.9,982.3 130.4,996 130,969.1 129.6,985.5 129.1,981.9 128.7,1009.3 128.3,998.7 127.9,1016.5 127.4,984.8 127,978 126.6,1016.5 126.1,1001.9 125.7,981.7 125.3,1000.5 124.8,992.7 124.4,1001.3 124,978.1 123.6,984.3 123.1,994.6 122.7,989.8 122.3,974 121.8,983.4 121.4,996.4 121,1014.3 120.6,1019.2 120.1,967.1 119.7,995.4 119.3,1005.5 118.8,1015.4 118.4,1012.3 118,1014.6 117.5,999.3 117.1,985.6 116.7,994.2 116.3,1010.8 115.8,995.3 115.4,985.2 115,999.9 114.5,969 114.1,988.6 113.7,986.4 113.2,968.2 112.8,981.9 112.4,958.8 112,968.2 111.5,999.5 111.1,970.9 110.7,1018.1 110.2,970.9 109.8,1015 109.4,969.9 109,1012.2 108.5,1002.9 108.1,1005.7 107.7,975.2 107.2,973.8 106.8,990.9 106.4,1001.3 105.9,992 105.5,1009.9 105.1,972.4 104.7,976.5 104.2,1014 103.8,958 103.4,964.8 102.9,1016.7 102.5,976.2 102.1,1014.7 101.6,1014.4 101.2,1006 100.8,1019.3 100.4,971.8 99.9,1020.2 99.5,1009.3 99.1,996.7 98.6,995.2 98.2,1019.5 97.8,967.4 97.4,971.2 96.9,994 96.5,976.2 96.1,1024.2 95.6,960.9 95.2,989.1 94.8,965.1 94.3,987.4 93.9,1013.9 93.5,966.6 93.1,976.8 92.6,963.5 92.2,955.5 91.8,976.6 91.3,955.3 90.9,1007.2 90.5,1021.2 90,1014.3 89.6,1024.8 89.2,957 88.8,1021.1 88.3,966.1 87.9,986.3 87.9,1025.9 88.3,1026 88.8,987.8 89.2,964.6 89.6,1023.2 90,953.7 90.5,984.8 90.9,975.9 91.3,1017.7 91.8,953.1 92.2,958.2 92.6,1000.5 93.1,981.7 93.5,1016.2 93.9,993.9 94.3,1016 94.8,999.3 95.2,985.6 95.6,999 96.1,1015.5 96.5,1012.7 96.9,982.1 97.4,997.5 97.8,1007.9 98.2,1008.8 98.6,995.6 99.1,984.5 99.5,977.5 99.9,986.3 100.4,971.3 100.8,1003.8 101.2,1004.1 101.6,1000.8 102.1,1006.2 102.5,980.1 102.9,1010.8 103.4,1020.2 103.8,1005 104.2,1002.5 104.7,1017.4 105.1,983.8 105.5,1001.3 105.9,962.8 106.4,994 106.8,1005.8 107.2,1015.7 107.7,1021.2 108.1,997.1 108.5,988 109,987.2 109.4,1015.2 109.8,959.5 110.2,983.8 110.7,977.5 111.1,985.4 111.5,1017.1 112,1012.1 112.4,1002.7 112.8,997.6 113.2,968.9 113.7,1015.6 114.1,1016.4 114.5,983.6 115,998.1 115.4,1016.7 115.8,983.1 116.3,971.9 116.7,1009 117.1,979.8 117.5,1018.6 118,992.7 118.4,974.5 118.8,973.6 119.3,965.1 119.7,965.7 120.1,965.8 120.6,1014.6 121,983.3 121.4,1000.6 121.8,978.1 122.3,1003.3 122.7,989.7 123.1,960.2 123.6,1003.1 124,1003.1 124.4,1009 124.8,992 125.3,991.1 125.7,1003.4 126.1,1020.7 126.6,976.1 127,1002.4 127.4,966 127.9,990.7 128.3,1013.9 128.7,963 129.1,1016.4 129.6,984.9 130,972.8 130.4,1015.8 130.9,999.3 131.3,962.6 131.7,986.4 132.2,963.6 132.6,964.6 133,970.8 133.4,980.8 133.9,989.4 134.3,1004 134.7,1019.9 135.2,1007.1 135.6,1022.1 136,969.5 136.4,996.3 136.9,1014 137.3,999.3 137.7,1005.2 138.2,988.1 138.6,975.6 139,1009.6 139.5,992.5 139.9,1000.9 140.3,968.2 140.7,1012.5 141.2,966.9 141.6,995.6 142,963.8 142.5,1009 142.9,987 143.3,982.8 143.8,1002.5 144.2,993.1 144.6,983.5 145,962.3 145.5,971.5 145.9,1013.2 146.3,974.6 146.8,1005.2 147.2,1010.5 147.6,981.1 148,961.5 148.5,993.7 148.9,1026.3 149.3,991 149.8,987.7 150.2,960.8 150.6,981.5 151.1,1019 151.5,1015 151.9,997.9 152.3,962.3 152.8,981.4 153.2,966.6 153.6,1002 154.1,987.2 154.5,963.5 154.9,984.1 155.4,1016.8 155.8,980.2 156.2,974.3 156.6,983.4 157.1,1002.8 157.5,977.2 157.9,984 158.4,969.9 158.8,972.3 159.2,985.2 159.6,991.8 160.1,1008.1 160.5,999.3 160.9,989 161.4,973.7 161.8,996.9 162.2,969.3 162.7,1016.1 163.1,980.2 163.5,1004 163.9,969.1 164.4,970.2 164.8,989.3 165.2,1008.8 165.7,994.2 166.1,994.1 166.5,1004.4 167,993.4 167.4,975.2 167.8,973.2 168.2,985.6 168.7,974.9 169.1,1013.6 169.5,965.6 170,1003.1 170.4,1008.1 170.8,979.4 171.2,1023.1 171.7,985.3 172.1,971.6 172.5,978.5 173,960.7 173.4,961.3 173.8,1011 174.3,989.1 174.7,1002.4 175.1,1021.9 175.5,976.9 176,1004.6 176.4,1022 176.8,969 177.3,1017.7 177.7,1016.6 178.1,980.9 178.5,973.6 179,1003.8 179.4,1019.9 179.8,1022.1 180.3,994.1 180.7,1025.3 181.1,1008.3 181.6,969.8 182,973.8 182.4,991.3 182.8,986.1 183.3,982.9 183.7,992 184.1,993.7 184.6,999 185,991.9 185.4,969 185.9,967 186.3,989.7 186.7,989.2 187.1,985 187.6,995.8 188,982.9 188.4,1009.5 188.9,1006.5 189.3,996.7 189.7,990.2 190.1,970 190.6,983.2 191,1017.8 191.4,1016 191.9,1019.4 192.3,989.1 192.7,972.7 193.2,1009.3 193.6,964.2 194,996.1 194.4,984.3 194.9,1006.3 195.3,997 195.7,974.2 196.2,1013 196.6,1012 197,992.5 197.5,971 197.9,983.1 198.3,992.2 198.7,966.1 199.2,999.2 199.6,1005.4 200,972.1 200.5,981 200.9,980.1 201.3,993.1 201.7,971.8 202.2,989.3 202.6,981.6 203,1011.1 203.5,991.4 203.9,965 204.3,978.7 204.8,1013.9 205.2,1009.3 205.6,974 206,1018.9 206.5,1002.6 206.9,1005.7 207.3,973.5 207.8,1001.4 208.2,958.3 208.6,985.2 209.1,989.1 209.5,983.1 209.9,970.6 210.3,982.9 210.8,1006.3 211.2,1009.9 211.6,986 212.1,983.9 212.5,1020.5 212.9,968.4 213.3,974.5 213.8,984.6 214.2,972.1 214.6,974.1 215.1,1003.8 215.5,986.7 215.9,993.6 216.4,1006.4 216.8,993.7 217.2,1006.9 217.6,962.8 218.1,1017.9 218.5,988.9 218.9,981.1 219.4,965 219.8,1003.6 220.2,1015.8 220.7,982.2 221.1,982.8 221.5,1006.1 221.9,969.8 222.4,966.3 222.8,1019.7 223.2,989.8 223.7,996.6 224.1,1009.6 224.5,1004.5 224.9,1003.9 225.4,1012.1 225.8,981.1 226.2,968.3 226.7,985.4 227.1,994.7 227.5,1020.2 228,969.2 228.4,974.6 228.8,1014.5 229.2,998.4 229.7,1015.3 230.1,967.9 230.5,968.3 231,966.5 231.4,978.7 231.8,1019.2 232.3,1005.4 232.7,1019 233.1,964 233.5,1008 234,1018 234.4,976.8 234.8,1001.6 235.3,998.3 235.7,971.8 236.1,982 236.5,995.7 237,961.6 237.4,1007.9 237.8,992.9 238.3,961.6 238.7,1004.3 239.1,968.3 239.6,988.7 240,988.8 240.4,961.3 240.8,963.8 241.3,979.1 241.7,994.6 242.1,977.7 242.6,993.2 243,1013.8 243.4,994.9 243.9,961.7 244.3,994.5 244.7,983.5 245.1,1012.1 245.6,973 246,975 246.4,1008.3 246.9,1007.8 247.3,986.9 247.7,1017 248.1,993.5 248.6,968.8 249,977.5 249.4,988.3 249.9,980.7 250.3,1000 250.7,1012 251.2,1002 251.6,978.8 252,994.7 252.4,961.5 252.9,1023.8 253.3,995.2 253.7,969.3 254.2,991.3 254.6,980.7 255,980.4 255.5,985.1 255.9,1012.4 256.3,970.3 256.7,1000.2 257.2,975.8 257.6,988.5 258,1020.1 258.5,981.9 258.9,990.6 259.3,1018.7 259.7,987.1 260.2,993.2 260.6,1004.7 261,1004.4 261.5,982.2 261.9,981.2 262.3,975.5 262.8,997.1 263.2,981.1 263.6,1002.2 264,982.2 264.5,1011.3 264.9,970.5 265.3,965.3 265.8,969.1 266.2,983.5 266.6,996 267.1,966.7 267.5,971 267.9,996.8 268.3,985.9 268.8,981.8 269.2,994.6 269.6,962.4 270.1,1008.5 270.5,972.8 270.9,962.2 271.3,1007.8 271.8,983.4 272.2,964.2 272.6,970 273.1,1006.6 273.5,982 273.9,1004 274.4,1010.5 274.8,964.7 275.2,1014.3 275.6,1009.9 276.1,1006 276.5,980.1 276.9,971.8 277.4,993.6 277.8,987.8 278.2,967.3 278.7,993.3 279.1,984.9 279.5,987.2 279.9,986.7 280.4,994.9 280.8,989.2 281.2,969.1 281.7,985.5 282.1,976.1 282.5,1000.5 282.9,990.8 283.4,963.1 283.8,972.5 284.2,980.2 284.7,977.9 285.1,965.2 285.5,1008.5 286,992.5 286.4,998.7 286.8,994.8 287.2,985 287.7,999.9 288.1,1000.7 288.5,977.5 289,995.5 289.4,981 289.8,1015.3 290.3,965.9 290.7,972.2 291.1,969.6 291.5,971 292,1019.4 292.4,998.6 292.8,1012.5 293.3,996.4 293.7,1014.8 294.1,999.6 294.5,975.5 295,1009.4 295.4,987.3 295.8,1002.1 296.3,978.6 296.7,965.3 297.1,963.4 297.6,992 298,1014.3 298.4,1002.7 298.8,1014.4 299.3,1003.8 299.7,992.8 300.1,969.6 300.6,968.5 301,995.6 301.4,976 301.9,1010.1 302.3,1007 302.7,972.1 303.1,998.3 303.6,963.7 304,992.5 304.4,993.3 304.9,981.3 305.3,1005.5 305.7,987 306.1,975.4 306.6,981.9 307,1012.9 307.4,1012.6 307.9,1004.1 308.3,988.4 308.7,1008.2 309.2,994.6 309.6,983.5 310,967.9 310.4,1012 310.9,990.6 311.3,980.3 311.7,1007.3 312.2,976.3 312.6,982 313,995.8 313.5,960.6 313.9,1007.7 314.3,976.8 314.7,1014.5 315.2,999.7 315.6,1006.6 316,990.9 316.5,995 316.9,1019.2 317.3,999.3 317.7,961.9 318.2,1015.3 318.6,974.9 319,989.5 319.5,1008.7 319.9,1014.9 320.3,1012.3 320.8,988.1 321.2,972.7 321.6,968.1 322,994.5 322.5,983.8 322.9,965.7 323.3,982.7 323.8,1002.5 324.2,996.3 324.6,983.7 325.1,977.5 325.5,1017.1 325.9,1005 326.3,995 326.8,996.1 327.2,981.8 327.6,968.3 328.1,1009 328.5,993.5 328.9,980.4 329.3,1004.6 329.8,992 330.2,957.9 330.6,1001.8 331.1,971.7 331.5,966.5 331.9,955.1 332.4,971.1 332.8,964.9 333.2,1001.8 333.6,971.3 334.1,972.1 334.5,988.5 334.9,976.4 335.4,965.1 335.8,1015.8 336.2,974.1 336.6,1004.1 337.1,990.9 337.5,972.6 337.9,982.4 338.4,970.7 338.8,976.8 339.2,990.8 339.7,994.2 340.1,1016.8 340.5,982.5 340.9,1002.3 341.4,1009.8 341.8,978.1 342.2,1001.7 342.7,985.8 343.1,995.6 343.5,989.2 344,988.7 344.4,972 344.8,997.9 345.2,996 345.7,1003.9 346.1,1005.6 346.5,1008.7 347,1010.1 347.4,1013.1 347.8,995.2 348.2,997.2 348.7,1027.4 349.1,989.9 349.5,981.6 350,986.5 350.4,1010.2 350.8,1012.4 351.3,969.4 351.7,1016.5 352.1,1005.9 352.5,991.4 353,984.1 353.4,978.3 353.8,1002.9 354.3,983.7 354.7,1003.4 355.1,999 355.6,965.7 356,985.5 356.4,979.5 356.8,1008 357.3,987.9 357.7,960 358.1,991.1 358.6,979.9 359,1012.3 359.4,1016.2 359.8,983.2 360.3,1015.1 360.7,1002.2 361.1,966.2 361.6,1023.7 362,1003.9 362.4,977 362.9,989.8 363.3,993.1 363.7,995.9 364.1,981.7 364.6,996.4 365,976.1 365.4,978.7 365.9,968 366.3,1008.3 366.7,1013.5 367.2,969.4 367.6,1003.1 368,986.9 368.4,989 368.9,989.9 369.3,990.6 369.7,1015.8 370.2,1016.9 370.6,1004.5 371,992.2 371.4,987.3 371.9,992.7 372.3,962.5 372.7,1012.4 373.2,982.3 373.6,982.5 374,974.9 374.5,992.2 374.9,986.9 375.3,985.4 375.7,999.9 376.2,968.8 376.6,1010.9 377,1004.7 377.5,967.8 377.9,969.1 378.3,1017.3 378.8,999.3 379.2,1006.9 379.6,1014.3 380,998.5 380.5,997.8 380.9,980 381.3,1007.2 381.8,987.3 382.2,976.5 382.6,973.7 383,976.1 383.5,967.5 383.9,960.2 384.3,1017.2 384.8,987.1 385.2,989.2 385.6,1014.5 386.1,983 386.5,996.4 386.9,974.9 387.3,1010.6 387.8,1014.3 388.2,993.8 388.6,978.2 389.1,1007 389.5,1001.2 389.9,965.2 390.4,1016.5 390.8,958.4 391.2,980.3 391.6,1018.3 392.1,999.7 392.5,1008.1 392.9,1002.4 393.4,1008.2 393.8,981.7 394.2,962.1 394.6,1004.1 395.1,969.8 395.5,1004 395.9,1021.2 396.4,1003.4 396.8,1007.7 397.2,1003.9 397.7,985.5 398.1,973.8 398.5,995.3 398.9,971.6 399.4,985.4 399.8,975 400.2,993.2 400.7,995.6 401.1,965.2 401.5,1001.7 402,976.2 402.4,1016.5 402.8,1004.6 403.2,1019.4 403.7,977.6 404.1,1014 404.5,1014.3 405,1012 405.4,1012.2 405.8,989.7 406.2,986.8 406.7,1020.5 407.1,1015 407.5,1012.1 408,978.2 408.4,972.8 408.8,965 409.3,770.5 409.7,802.1 410.1,769.9 410.5,788 411,794.5 411.4,814.7 411.8,792.5 412.3,789.1 412.7,779.2 413.1,784.4 413.6,764.9 414,761.7 414.4,812.7 414.8,790.6 415.3,776.9 415.7,808.1 416.1,796.7 416.6,790.7 417,787.6 417.4,805.6 417.8,770.5 418.3,805.7 418.7,774.4 419.1,782.6 419.6,779.2 420,794.9 420.4,799.3 420.9,803.3 421.3,775.9 421.7,794 422.1,784.2 422.6,789 423,781.5 423.4,775.3 423.9,765.3 424.3,774.1 424.7,798.6 425.2,771 425.6,775.1 426,798.9 426.4,796.1 426.9,761.3 427.3,792.3 427.7,798.5 428.2,802.2 428.6,782.2 429,769.7 429.4,759.6 429.9,788.3 430.3,763.8 430.7,802 431.2,791.1 431.6,775.7 432,797.4 432.5,770.5 432.9,801.3 433.3,779.8 433.7,776.9 434.2,776.2 434.6,781.5 435,779.3 435.5,791.3 435.9,801.7 436.3,800.9 436.8,789.1 437.2,808.6 437.6,796.1 438,770.6 438.5,804 438.9,770.1 439.3,777 439.8,759.7 440.2,774.2 440.6,777.1 441,796.6 441.5,778.5 441.9,801.9 442.3,764.6 442.8,751 443.2,757.9 443.6,775.2 444.1,785.6 444.5,756.8 444.9,807.4 445.3,790.3 445.8,771.9 446.2,757.5 446.6,803.4 447.1,792.2 447.5,774.9 447.9,755.3 448.4,777.6 448.8,793.9 449.2,770.9 449.6,790.1 450.1,786.5 450.5,782 450.9,785.5 451.4,803.5 451.8,806.3 452.2,773.6 452.6,768.6 453.1,798.2 453.5,751.9 453.9,783.5 454.4,785.2 454.8,751.3 455.2,762.6 455.7,759.2 456.1,789.2 456.5,765.9 456.9,800.8 457.4,779 457.8,769.1 458.2,801.9 458.7,755.5 459.1,749.4 459.5,767.1 460,761.1 460.4,803.2 460.8,784.4 461.2,786.3 461.7,765 462.1,789.5 462.5,797.5 463,803.9 463.4,772.4 463.8,790.7 464.2,775.2 464.7,770.8 465.1,755.3 465.5,801.4 466,760.7 466.4,798.9 466.8,786.6 467.3,753.7 467.7,778.7 468.1,763.2 468.5,759.5 469,781.5 469.4,765.3 469.8,780.3 470.3,793.9 470.7,745.5 471.1,755.5 471.6,797 472,806 472.4,774.8 472.8,776.9 473.3,749.7 473.7,789.8 474.1,767.1 474.6,771.3 475,777.3 475.4,805.6 475.8,783.5 476.3,798.1 476.7,788.3 477.1,759.9 477.6,741.6 478,773.5 478.4,781.5 478.9,752.3 479.3,791.4 479.7,743 480.1,794 480.6,773 481,795.9 481.4,754.3 481.9,797.4 482.3,770.6 482.7,780 483.2,756.6 483.6,789.1 484,764 484.4,752.8 484.9,792.6 485.3,800.5 485.7,767.7 486.2,749.5 486.6,771.1 487,740.6 487.4,769.5 487.9,768.4 488.3,777.7 488.7,799.3 489.2,789.8 489.6,784.1 490,764.4 490.5,767 490.9,778.4 491.3,777.4 491.7,744.7 492.2,734.5 492.6,766.1 493,747.6 493.5,771.5 493.9,749 494.3,773.5 494.7,766.8 495.2,744.8 495.6,745.3 496,793.7 496.5,756.4 496.9,743.9 497.3,764.5 497.8,793.2 498.2,802.9 498.6,761.3 499,778.5 499.5,776.9 499.9,788.2 500.3,781 500.8,762.5 501.2,799.3 501.6,784.9 502.1,767.4 502.5,782.4 502.9,775.5 503.3,770.1 503.8,802.7 504.2,764.1 504.6,787.4 505.1,756.3 505.5,788.4 505.9,751.5 506.3,761.2 506.8,779.5 507.2,778.2 507.6,746.1 508.1,767.9 508.5,799.6 508.9,732.7 509.4,740.8 509.8,775.5 510.2,732.2 510.6,752.8 511.1,773.2 511.5,785.8 511.9,732 512.4,786.7 512.8,761.6 513.2,786.2 513.7,791.9 514.1,736.4 514.5,745.6 514.9,801.2 515.4,737.7 515.8,757 516.2,750.9 516.7,754.6 517.1,769.1 517.5,748.2 517.9,761.9 518.4,793.3 518.8,751.1 519.2,757.4 519.7,774.8 520.1,752.6 520.5,785 521,776.1 521.4,743.4 521.8,747.5 522.2,753.8 522.7,767.1 523.1,755.3 523.5,738.9 524,762.5 524.4,762.6 524.8,796.1 525.3,798.5 525.7,748.5 526.1,773.1 526.5,798.1 527,756.1 527.4,745.9 527.8,789 528.3,739.7 528.7,752.7 529.1,785.2 529.5,795.6 530,755.8 530.4,752.3 530.8,770.5 531.3,796.8 531.7,788.6 532.1,750.9 532.6,749.3 533,787.5 533.4,770.2 533.8,790.1 534.3,775.2 534.7,789.8 535.1,795.8 535.6,734.4 536,781.8 536.4,758.5 536.9,754.7 537.3,780.9 537.7,769.3 538.1,795.6 538.6,791.2 539,745.9 539.4,774.3 539.9,779.2 540.3,740.7 540.7,758.7 541.1,734.1 541.6,787.4 542,783.2 542.4,769 542.9,766.2 543.3,749.7 543.7,777.6 544.2,735.2 544.6,779.9 545,780.1 545.4,745 545.9,779.1 546.3,780.6 546.7,757.5 547.2,761.3 547.6,793.2 548,739.3 548.5,787.6 548.9,750 549.3,768.2 549.7,758.1 550.2,774.3 550.6,735.3 551,780 551.5,744 551.9,798.1 552.3,748.6 552.7,743.1 553.2,766.7 553.6,737.8 554,776.5 554.5,791.3 554.9,757.1 555.3,784.2 555.8,759.5 556.2,792.1 556.6,787.3 557,743.4 557.5,774.9 557.9,744.7 558.3,784 558.8,796.7 559.2,769.8 559.6,762 560.1,797.1 560.5,789.4 560.9,794.8 561.3,793.1 561.8,763 562.2,789.9 562.6,752.3 563.1,798.9 563.5,771.7 563.9,794.2 564.3,766.1 564.8,795.8 565.2,749.2 565.6,757.7 566.1,759 566.5,786.8 566.9,787.7 567.4,740.3 567.8,791.1 568.2,746.6 568.6,778.6 569.1,735.6 569.5,793.8 569.9,760.2 570.4,783 570.8,785.5 571.2,790.1 571.7,762 572.1,789.3 572.5,750.7 572.9,756.2 573.4,780.9 573.8,769 574.2,798 574.7,729.3 575.1,742 575.5,778.7 575.9,742.8 576.4,756.4 576.8,763.3 577.2,786.5 577.7,783.1 578.1,779.4 578.5,755.1 579,776.9 579.4,790.7 579.8,769.8 580.2,741.5 580.7,794.7 581.1,769.7 581.5,762.5 582,773.8 582.4,775.5 582.8,744.5 583.3,755.7 583.7,756.7 584.1,803.2 584.5,756.6 585,730.9 585.4,751.5 585.8,782 586.3,748.9 586.7,773.8 587.1,756 587.5,741.9 588,768.7 588.4,771.8 588.8,796 589.3,771.6 589.7,735.4 590.1,765.6 590.6,794.9 591,746.3 591.4,800.3 591.8,741.3 592.3,773.7 592.7,731 593.1,755.1 593.6,787.5 594,787.6 594.4,784.2 594.9,776.3 595.3,741.6 595.7,788.1 596.1,757.8 596.6,760.3 597,772.3 597.4,744 597.9,752.6 598.3,752 598.7,788.5 599.1,783 599.6,777.5 600,793.7 600.4,745.2 600.9,757.7 601.3,770.4 601.7,783.9 602.2,753.3 602.6,769.6 603,787.5 603.4,775.3 603.9,774 604.3,797 604.7,789 605.2,771.7 605.6,775.9 606,793.6 606.5,768 606.9,732.1 607.3,764.1 607.7,760.7 608.2,766.7 608.6,768 609,743 609.5,760.9 609.9,773.7 610.3,742.6 610.7,737.2 611.2,800.1 611.6,779.9 612,792.2 612.5,741.1 612.9,746 613.3,796.6 613.8,785.7 614.2,795.6 614.6,761.6 615,780.5 615.5,794.2 615.9,754.6 616.3,762.7 616.8,775.3 617.2,781.5 617.6,798.9 618.1,739.7 618.5,739.4 618.9,779.6 619.3,787.5 619.8,749.2 620.2,754.9 620.6,760.3 621.1,801.4 621.5,753.2 621.9,743.3 622.3,763.2 622.8,765.9 623.2,788.7 623.6,760.2 624.1,779.6 624.5,794.3 624.9,777.2 625.4,777.5 625.8,778.6 626.2,796.8 626.6,767.8 627.1,782.5 627.5,737.2 627.9,783.1 628.4,792.5 628.8,797.4 629.2,802.2 629.7,782.1 630.1,782.5 630.5,804.3 630.9,760.1 631.4,790.9 631.8,762.7 632.2,779.1 632.7,780.3 633.1,754.6 633.5,762.7 633.9,751.1 634.4,739.9 634.8,775.7 635.2,780.9 635.7,790.7 636.1,740.4 636.5,771 637,771.5 637.4,800.4 637.8,804.7 638.2,764.1 638.7,760.7 639.1,757.9 639.5,753.3 640,776.6 640.4,768.1 640.8,800 641.3,777.8 641.7,737.5 642.1,786.6 642.5,760 643,797.9 643.4,772.1 643.8,761.7 644.3,767.6 644.7,738.1 645.1,783.1 645.5,776.3 646,746.9 646.4,805.8 646.8,749 647.3,774.3 647.7,770.7 648.1,793.9 648.6,781.4 649,789.7 649.4,806.5 649.8,755.3 650.3,793.8 650.7,783.6 651.1,765.3 651.6,758.8 652,799.7 652.4,747.1 652.8,796.6 653.3,807.9 653.7,793.8 654.1,802.7 654.6,790.7 655,754.5 655.4,757.8 655.9,752.4 656.3,788.7 656.7,771 657.1,748.5 657.6,743 658,770.6 658.4,770.2 658.9,781 659.3,750.7 659.7,759.9 660.2,777.9 660.6,748.8 661,790.5 661.4,746.4 661.9,796.5 662.3,798.7 662.7,789 663.2,791.1 663.6,788 664,755.3 664.4,784 664.9,797.3 665.3,746.8 665.7,800.6 666.2,787.6 666.6,763.9 667,752 667.5,802.7 667.9,783.8 668.3,801.3 668.7,783.3 669.2,745.7 669.6,785.5 670,750.4 670.5,743.2 670.9,766.6 671.3,767.1 671.8,796.5 672.2,802 672.6,782.5 673,749.1 673.5,782.5 673.9,772.8 674.3,791.9 674.8,782.3 675.2,777.4 675.6,760.4 676,762.3 676.5,796.1 676.9,796.6 677.3,797.8 677.8,796 678.2,764.2 678.6,776.2 679.1,745.5 679.5,779.7 679.9,799.3 680.3,756.2 680.8,766.6 681.2,753.7 681.6,798.1 682.1,781.7 682.5,759.5 682.9,754 683.4,751.2 683.8,793 684.2,772.5 684.6,788.8 685.1,759.7 685.5,762 685.9,758.2 686.4,757.1 686.8,772.5 687.2,765.2 687.6,761.8 688.1,797.7 688.5,748.7 688.9,803.1 689.4,764.7 689.8,754.4 690.2,747.4 690.7,806.5 691.1,767.9 691.5,794.6 691.9,778.6 692.4,755.8 692.8,751.2 693.2,760.3 693.7,762.6 694.1,778.7 694.5,808.4 695,778.7 695.4,783.5 695.8,754.2 696.2,790 696.7,751.4 697.1,775.2 697.5,750.7 698,791.4 698.4,797.3 698.8,746 699.2,792.1 699.7,783 700.1,780.2 700.5,766 701,774.5 701.4,777.9 701.8,801.9 702.3,779.2 702.7,751.8 703.1,738.7 703.5,744.1 704,783.6 704.4,766.8 704.8,801.5 705.3,765.4 705.7,778.6 706.1,750.8 706.6,766.4 707,752 707.4,761.4 707.8,779 708.3,781.6 708.7,743.1 709.1,754.9 709.6,769.7 710,776.9 710.4,769.6 710.8,778.3 711.3,782.3 711.7,769.8 712.1,788.5 712.6,778.9 713,790 713.4,759.1 713.9,791.8 714.3,803.1 714.7,780.9 715.1,792 715.6,794.5 716,779.6 716.4,785 716.9,760.8 717.3,800.8 717.7,790.7 718.2,757.6 718.6,803.1 719,757.3 719.4,789.7 719.9,785.4 720.3,790.6 720.7,766.6 721.2,758.2 721.6,773.2 722,756.8 722.4,786.3 722.9,798.6 723.3,780.7 723.7,747 724.2,765.8 724.6,781.4 725,776.5 725.5,789.4 725.9,753.4 726.3,776.1 726.7,802.5 727.2,779.7 727.6,792.1 728,764.7 728.5,793.5 728.9,791.3 729.3,754.8 729.8,789.8 730.2,749 730.6,794.1 731,770.6 731.5,771.8 731.9,802.1" fill="none" stroke="#f34343" stroke-width="2.7" stroke-linejoin="round" stroke-linecap="round"/>
<polygon points="87.9,966 91.5,968.3 95.1,969.9 98.7,971 102.3,971.7 105.9,972.2 109.5,972.5 113.1,972.7 116.7,972.8 120.3,972.9 123.9,972.9 127.5,972.8 131.1,972.8 134.7,972.7 138.3,972.6 142,972.5 145.6,972.4 149.2,972.3 152.8,972.2 156.4,972.1 160,972 163.6,972 167.2,972 170.8,972 174.4,972 178,972.1 181.6,972.1 185.2,972.2 188.8,972.3 192.4,972.4 196,972.5 199.6,972.7 203.2,972.8 206.8,972.9 210.4,973 214,973.1 217.6,973.1 221.2,973.2 224.8,973.3 228.4,973.3 232,973.4 235.6,973.4 239.2,973.4 242.9,973.4 246.5,973.4 250.1,973.5 253.7,973.5 257.3,973.5 260.9,973.5 264.5,973.5 268.1,973.5 271.7,973.5 275.3,973.5 278.9,973.5 282.5,973.5 286.1,973.5 289.7,973.5 293.3,973.5 296.9,973.5 300.5,973.5 304.1,973.5 307.7,973.5 311.3,973.5 314.9,973.5 318.5,973.5 322.1,973.5 325.7,973.5 329.3,973.5 332.9,973.5 336.5,973.5 340.1,973.5 343.7,973.5 347.4,973.5 351,973.5 354.6,973.5 358.2,973.5 361.8,973.5 365.4,973.5 369,973.5 372.6,973.5 376.2,973.5 379.8,973.5 383.4,973.5 387,973.5 390.6,973.5 394.2,973.5 397.8,973.5 401.4,973.5 405,973.5 408.6,973.5 408.6,1008.2 405,1008.2 401.4,1008.2 397.8,1008.2 394.2,1008.2 390.6,1008.2 387,1008.2 383.4,1008.2 379.8,1008.2 376.2,1008.2 372.6,1008.2 369,1008.2 365.4,1008.2 361.8,1008.2 358.2,1008.2 354.6,1008.2 351,1008.2 347.4,1008.2 343.7,1008.2 340.1,1008.2 336.5,1008.2 332.9,1008.2 329.3,1008.2 325.7,1008.2 322.1,1008.2 318.5,1008.2 314.9,1008.2 311.3,1008.2 307.7,1008.2 304.1,1008.2 300.5,1008.2 296.9,1008.2 293.3,1008.2 289.7,1008.2 286.1,1008.2 282.5,1008.2 278.9,1008.2 275.3,1008.2 271.7,1008.2 268.1,1008.2 264.5,1008.2 260.9,1008.3 257.3,1008.3 253.7,1008.3 250.1,1008.3 246.5,1008.3 242.9,1008.3 239.2,1008.3 235.6,1008.3 232,1008.4 228.4,1008.4 224.8,1008.5 221.2,1008.5 217.6,1008.6 214,1008.7 210.4,1008.7 206.8,1008.8 203.2,1009 199.6,1009.1 196,1009.2 192.4,1009.3 188.8,1009.4 185.2,1009.5 181.6,1009.6 178,1009.7 174.4,1009.7 170.8,1009.7 167.2,1009.7 163.6,1009.7 160,1009.7 156.4,1009.6 152.8,1009.5 149.2,1009.4 145.6,1009.3 142,1009.2 138.3,1009.1 134.7,1009 131.1,1009 127.5,1008.9 123.9,1008.9 120.3,1008.9 116.7,1008.9 113.1,1009 109.5,1009.2 105.9,1009.5 102.3,1010 98.7,1010.8 95.1,1011.8 91.5,1013.4 87.9,1015.7" fill="#f34343"/>
<polygon points="411.2,774.6 414.8,772.4 418.4,770.3 422,768.4 425.6,766.7 429.2,765.1 432.8,763.6 436.4,762.2 440,760.9 443.6,759.7 447.2,758.6 450.8,757.6 454.4,756.7 458,755.8 461.6,755 465.2,754.3 468.8,753.6 472.4,753 476.1,752.4 479.7,751.9 483.3,751.4 486.9,750.9 490.5,750.5 494.1,750.1 497.7,749.7 501.3,749.4 504.9,749.1 508.5,748.8 512.1,748.6 515.7,748.3 519.3,748.1 522.9,747.9 526.5,747.7 530.1,747.5 533.7,747.3 537.3,747.2 540.9,747 544.5,746.9 548.1,746.8 551.7,746.7 555.3,746.6 558.9,746.5 562.5,746.4 566.1,746.3 569.7,746.2 573.3,746.3 576.9,746.5 580.6,746.7 584.2,746.9 587.8,747.1 591.4,747.2 595,747.4 598.6,747.6 602.2,747.8 605.8,748.1 609.4,748.4 613,748.7 616.6,749 620.2,749.3 623.8,749.6 627.4,749.9 631,750.2 634.6,750.5 638.2,750.8 641.8,751.1 645.4,751.4 649,751.7 652.6,752 656.2,752.3 659.8,752.6 663.4,752.9 667,753.2 670.6,753.5 674.2,753.9 677.8,754.2 681.5,754.5 685.1,754.8 688.7,755.1 692.3,755.4 695.9,755.7 699.5,756.1 703.1,756.4 706.7,756.7 710.3,757 713.9,757.3 717.5,757.6 721.1,757.9 724.7,758.3 728.3,758.6 731.9,758.9 731.9,794.8 728.3,794.6 724.7,794.5 721.1,794.3 717.5,794.2 713.9,794 710.3,793.9 706.7,793.7 703.1,793.6 699.5,793.4 695.9,793.3 692.3,793.1 688.7,793 685.1,792.8 681.5,792.7 677.8,792.5 674.2,792.4 670.6,792.2 667,792.1 663.4,791.9 659.8,791.8 656.2,791.6 652.6,791.5 649,791.3 645.4,791.2 641.8,791 638.2,790.9 634.6,790.8 631,790.6 627.4,790.5 623.8,790.3 620.2,790.2 616.6,790 613,789.9 609.4,789.8 605.8,789.6 602.2,789.5 598.6,789.3 595,789 591.4,788.8 587.8,788.6 584.2,788.4 580.6,788.2 576.9,788 573.3,787.8 569.7,787.7 566.1,787.7 562.5,787.8 558.9,787.8 555.3,787.9 551.7,787.9 548.1,788 544.5,788 540.9,788.1 537.3,788.2 533.7,788.3 530.1,788.4 526.5,788.5 522.9,788.6 519.3,788.7 515.7,788.8 512.1,789 508.5,789.1 504.9,789.3 501.3,789.5 497.7,789.7 494.1,789.9 490.5,790.1 486.9,790.4 483.3,790.6 479.7,790.9 476.1,791.2 472.4,791.6 468.8,792 465.2,792.4 461.6,792.8 458,793.3 454.4,793.8 450.8,794.4 447.2,795 443.6,795.6 440,796.4 436.4,797.1 432.8,798 429.2,798.9 425.6,799.9 422,801 418.4,802.2 414.8,803.4 411.2,804.8" fill="#f34343"/>
<line x1="409.1" y1="1001.4" x2="409.1" y2="784.4" stroke="#f34343" stroke-width="3.6"/>
</g>
<line x1="87.9" y1="1122" x2="87.9" y2="1113.2" stroke="#000" stroke-width="4.6"/>
<line x1="87.9" y1="639.6" x2="87.9" y2="648.4" stroke="#000" stroke-width="4.6"/>
<line x1="409.9" y1="1122" x2="409.9" y2="1113.2" stroke="#000" stroke-width="4.6"/>
<line x1="409.9" y1="639.6" x2="409.9" y2="648.4" stroke="#000" stroke-width="4.6"/>
<line x1="731.9" y1="1122" x2="731.9" y2="1113.2" stroke="#000" stroke-width="4.6"/>
<line x1="731.9" y1="639.6" x2="731.9" y2="648.4" stroke="#000" stroke-width="4.6"/>
<line x1="248.9" y1="1122" x2="248.9" y2="1116.4" stroke="#000" stroke-width="4.5"/>
<line x1="248.9" y1="639.6" x2="248.9" y2="645.2" stroke="#000" stroke-width="4.5"/>
<line x1="570.9" y1="1122" x2="570.9" y2="1116.4" stroke="#000" stroke-width="4.5"/>
<line x1="570.9" y1="639.6" x2="570.9" y2="645.2" stroke="#000" stroke-width="4.5"/>
<line x1="87.9" y1="1031.6" x2="96.7" y2="1031.6" stroke="#000" stroke-width="4.6"/>
<line x1="731.9" y1="1031.6" x2="723.1" y2="1031.6" stroke="#000" stroke-width="4.6"/>
<line x1="87.9" y1="880.8" x2="96.7" y2="880.8" stroke="#000" stroke-width="4.6"/>
<line x1="731.9" y1="880.8" x2="723.1" y2="880.8" stroke="#000" stroke-width="4.6"/>
<line x1="87.9" y1="730.1" x2="96.7" y2="730.1" stroke="#000" stroke-width="4.6"/>
<line x1="731.9" y1="730.1" x2="723.1" y2="730.1" stroke="#000" stroke-width="4.6"/>
<line x1="87.9" y1="1106.9" x2="93.5" y2="1106.9" stroke="#000" stroke-width="4.5"/>
<line x1="731.9" y1="1106.9" x2="726.3" y2="1106.9" stroke="#000" stroke-width="4.5"/>
<line x1="87.9" y1="956.2" x2="93.5" y2="956.2" stroke="#000" stroke-width="4.5"/>
<line x1="731.9" y1="956.2" x2="726.3" y2="956.2" stroke="#000" stroke-width="4.5"/>
<line x1="87.9" y1="805.5" x2="93.5" y2="805.5" stroke="#000" stroke-width="4.5"/>
<line x1="731.9" y1="805.5" x2="726.3" y2="805.5" stroke="#000" stroke-width="4.5"/>
<line x1="87.9" y1="654.7" x2="93.5" y2="654.7" stroke="#000" stroke-width="4.5"/>
<line x1="731.9" y1="654.7" x2="726.3" y2="654.7" stroke="#000" stroke-width="4.5"/>
<rect x="87.9" y="639.6" width="644" height="482.4" fill="none" stroke="#000" stroke-width="5.0"/>
<text x="87.9" y="1157" font-family='"Liberation Serif", serif' font-size="29.5" text-anchor="middle" fill="#000"  >-200</text>
<text x="409.9" y="1157" font-family='"Liberation Serif", serif' font-size="29.5" text-anchor="middle" fill="#000"  >0</text>
<text x="731.9" y="1157" font-family='"Liberation Serif", serif' font-size="29.5" text-anchor="middle" fill="#000"  >200</text>
<text x="76.5" y="739.9" font-family='"Liberation Serif", serif' font-size="29.5" text-anchor="end" fill="#000"  >50</text>
<text x="76.5" y="890.6" font-family='"Liberation Serif", serif' font-size="29.5" text-anchor="end" fill="#000"  >0</text>
<text x="76.5" y="1041.4" font-family='"Liberation Serif", serif' font-size="29.5" text-anchor="end" fill="#000"  >-50</text>
<text x="407" y="1195" font-family='"Liberation Serif", serif' font-size="41" text-anchor="middle"><tspan font-style="italic">H</tspan><tspan font-size="29" dy="12">x</tspan><tspan dy="-12"> (Oe)</tspan></text>
<text transform="translate(38.5,847) rotate(-90)" font-family='"Liberation Serif", serif' font-size="40.5" text-anchor="middle"><tspan font-style="italic">M</tspan> (emu/cm<tspan font-size="26" dy="-15">3</tspan><tspan dy="15">)</tspan></text>
<line x1="155.5" y1="720.5" x2="224" y2="720.5" stroke="#4f4f4f" stroke-width="3" stroke-linecap="round"/>
<text x="232" y="730.6" font-family='"Liberation Serif", serif' font-size="29.8" text-anchor="start" fill="#000"  >IP</text>
<line x1="155.5" y1="757.5" x2="224" y2="757.5" stroke="#f34343" stroke-width="3" stroke-linecap="round"/>
<text x="231" y="767.8" font-family='"Liberation Serif", serif' font-size="29.8" text-anchor="start" fill="#000"  >OOP</text>
<g id="panel-d-data" clip-path="url(#clipd)">
<polyline points="1540.3,776 1538.7,784.1 1537.1,794.4 1535.5,772.5 1533.8,775.7 1532.2,798 1530.6,789.4 1529,799.2 1527.4,801.6 1525.8,762.5 1524.2,789.4 1522.6,776.5 1520.9,781 1519.3,784.4 1517.7,798.4 1516.1,798 1514.5,779.7 1512.9,771.1 1511.3,808.7 1509.6,797.4 1508,788.1 1506.4,772.4 1504.8,778.9 1503.2,775.5 1501.6,782.8 1500,797.9 1498.4,787.7 1496.7,769.9 1495.1,783.8 1493.5,801.6 1491.9,768.2 1490.3,780.4 1488.7,777.1 1487.1,761.4 1485.4,793.3 1483.8,795.1 1482.2,818.2 1480.6,784.7 1479,779 1477.4,787 1475.8,786.6 1474.2,775 1472.5,781.6 1470.9,781.7 1469.3,787.9 1467.7,787.7 1466.1,774 1464.5,788.4 1462.9,792.6 1461.2,794.4 1459.6,789.1 1458,785.2 1456.4,781.3 1454.8,786.3 1453.2,792.3 1451.6,808.9 1450,780.6 1448.3,801.2 1446.7,707.5 1445.1,773.8 1443.5,785.9 1441.9,799.6 1440.3,780.5 1438.7,793 1437,795.9 1435.4,774.2 1433.8,781.6 1432.2,758.7 1430.6,804.2 1429,790.5 1427.4,785.3 1425.8,774.2 1424.1,794.3 1422.5,771.2 1420.9,789.3 1419.3,800.7 1417.7,793.5 1416.1,792.2 1414.5,793.5 1412.9,799.5 1411.2,794.8 1409.6,779.9 1408,781.2 1406.4,768.6 1404.8,803.3 1403.2,806.2 1401.6,766.3 1399.9,788.4 1398.3,788.3 1396.7,804.4 1395.1,788.7 1393.5,793.2 1391.9,793.9 1390.3,779.5 1388.7,805 1387,793.1 1385.4,817.7 1383.8,790.4 1382.2,810.3 1380.6,773.9 1379,814.2 1377.4,777 1375.7,808.6 1374.1,818.8 1372.5,796.1 1370.9,796.4 1369.3,811.7 1367.7,816.1 1366.1,830.8 1364.5,805.1 1362.8,797 1361.2,827.4 1359.6,800.4 1358,782.2 1356.4,825.3 1354.8,796.2 1353.2,797 1351.5,812.2 1349.9,800.9 1348.3,819.5 1346.7,800.4 1345.1,786.2 1343.5,811.6 1341.9,815.8 1340.3,834.1 1338.6,785.5 1337,786.1 1335.4,816.8 1333.8,810 1332.2,812.9 1330.6,795.1 1329,832.9 1327.3,805.1 1325.7,842.8 1324.1,806.6 1322.5,825 1320.9,799.6 1319.3,809.9 1317.7,825.2 1316.1,827.4 1314.4,833.8 1312.8,798 1311.2,806.5 1309.6,828.3 1308,838.2 1306.4,815.8 1304.8,822.7 1303.1,829.9 1301.5,823.2 1299.9,817.2 1298.3,827 1296.7,819.9 1295.1,829 1293.5,826.7 1291.9,838.3 1290.2,822.6 1288.6,831.9 1287,839 1285.4,834 1283.8,840.5 1282.2,841.3 1280.6,833.4 1278.9,830.3 1277.3,863.2 1275.7,846.2 1274.1,844 1272.5,860.4 1270.9,841.9 1269.3,851.7 1267.7,856.7 1266,873.6 1264.4,870.7 1262.8,852.4 1261.2,832.1 1259.6,861.3 1258,883.8 1256.4,842.8 1254.7,857.5 1253.1,846 1251.5,870 1249.9,852.4 1248.3,860.1 1246.7,881.6 1245.1,871.6 1243.5,867 1241.8,881.1 1240.2,856.3 1238.6,878 1237,863.2 1235.4,879 1233.8,869.3 1232.2,872 1230.5,904.9 1228.9,885.5 1227.3,874.7 1225.7,889.8 1224.1,867.8 1222.5,871.9 1220.9,899.5 1219.3,888.6 1217.6,884.9 1216,901.4 1214.4,872.7 1212.8,884.6 1211.2,894.3 1209.6,906 1208,907.5 1206.4,906.8 1204.7,888 1203.1,909.5 1201.5,887.9 1199.9,870.3 1198.3,917.5 1196.7,909.3 1195.1,887.6 1193.4,898.8 1191.8,914.1 1190.2,904.5 1188.6,904.8 1187,895.6 1185.4,916.7 1183.8,909.7 1182.2,908.6 1180.5,902.9 1178.9,910.8 1177.3,927.3 1175.7,925.8 1174.1,894.3 1172.5,916.4 1170.9,909.5 1169.2,911 1167.6,907.1 1166,895.1 1164.4,912.4 1162.8,903.3 1161.2,907.4 1159.6,911.2 1158,929 1156.3,921.2 1154.7,904.3 1153.1,920.6 1151.5,921.6 1149.9,921.3 1148.3,933.5 1146.7,929.3 1145,916.8 1143.4,931.1 1141.8,936.6 1140.2,911.9 1138.6,911.2 1137,922.9 1135.4,935.4 1133.8,910.9 1132.1,918.8 1130.5,944.8 1128.9,937.7 1127.3,944.9 1125.7,953.7 1124.1,912.5 1122.5,911.5 1120.8,957.6 1119.2,925.1 1117.6,935.2 1116,931 1114.4,925.1 1112.8,925.8 1111.2,937.6 1109.6,945.9 1107.9,931.8 1106.3,918.5 1104.7,958.2 1103.1,952.6 1101.5,946.5 1099.9,956.1 1098.3,951.4 1096.6,936 1095,943.6 1093.4,951.7 1091.8,950.9 1090.2,961.1 1088.6,943.2 1087,960.3 1085.4,968.7 1083.7,962.7 1082.1,956.9 1080.5,939 1078.9,959.2 1077.3,964.9 1075.7,933.5 1074.1,961.6 1072.4,945.5 1070.8,956.8 1069.2,955.3 1067.6,978.6 1066,960.7 1064.4,972.2 1062.8,981.1 1061.2,963.1 1059.5,970.7 1057.9,967.9 1056.3,957.4 1054.7,998.5 1053.1,967.5 1051.5,991.5 1049.9,993.7 1048.2,973.1 1046.6,979.4 1045,1002.6 1043.4,975.7 1041.8,972.7 1040.2,959.8 1038.6,962.9 1037,976.7 1035.3,995.8 1033.7,979.4 1032.1,971.8 1030.5,969.1 1028.9,966 1027.3,976.1 1025.7,973.3 1024,985.2 1022.4,983.3 1020.8,972.5 1019.2,968.1 1017.6,994.9 1016,986 1014.4,983.3 1012.8,972.6 1011.1,980.8 1009.5,950.3 1007.9,979 1006.3,990.1 1004.7,983.8 1003.1,988 1001.5,983.3 999.9,977.8 998.2,963.3 996.6,964.4 995,974.8 993.4,995 991.8,976 990.2,992 988.6,983.5 986.9,976.5 985.3,982.9 983.7,956.3 982.1,982.2 980.5,986.9 978.9,985.8 977.3,971.1 975.7,1003.4 974,989.1 972.4,997.4 970.8,987.3 969.2,1005.8 967.6,987.9 966,973.1 964.4,994 962.7,971.2 961.1,993.6 959.5,987.2 957.9,999.7 956.3,978.4 954.7,979.2 953.1,983.4 951.5,973.8 949.8,991.3 948.2,962.7 946.6,983.3 945,995.5 943.4,989.2 941.8,986.3 940.2,1000.6 938.5,999.1 936.9,965.4 935.3,979.4 933.7,973.3 932.1,956 930.5,976.8 928.9,995.2 927.3,974.8 925.6,994.3 924,970.8 922.4,977.3 920.8,970.9 919.2,996 917.6,1007.6 916,981.5 914.3,976.1 912.7,984.9 911.1,990.6 909.5,990.4 907.9,991.3 906.3,978.9 904.7,1003.8 903.1,989.9 901.4,978.9 899.8,986.8 898.2,993 896.6,992.1 896.6,981.7 898.2,977.5 899.8,1006 901.4,959.7 903.1,982.2 904.7,987.3 906.3,1000.7 907.9,996.4 909.5,977.4 911.1,981.8 912.7,1010.4 914.3,998.7 916,989.5 917.6,999.6 919.2,964.1 920.8,972.9 922.4,992.8 924,1006.8 925.6,985.6 927.3,991.9 928.9,992.9 930.5,1001.8 932.1,978.6 933.7,987.5 935.3,972.7 936.9,976.7 938.5,992.2 940.2,985.2 941.8,995.1 943.4,985.3 945,999.1 946.6,978.4 948.2,1013.2 949.8,982.3 951.5,986.9 953.1,977.3 954.7,998.2 956.3,984.3 957.9,978.5 959.5,987.3 961.1,984.3 962.7,986.5 964.4,991.3 966,992.1 967.6,1004.2 969.2,982.9 970.8,985.5 972.4,966.2 974,995.6 975.7,966 977.3,971.5 978.9,1013.5 980.5,985.9 982.1,968.6 983.7,985.4 985.3,976 986.9,972.8 988.6,994.1 990.2,979.4 991.8,986.3 993.4,969 995,1014.8 996.6,989.2 998.2,998.6 999.9,986.5 1001.5,979.5 1003.1,981.4 1004.7,985.4 1006.3,973.4 1007.9,993.8 1009.5,972.9 1011.1,982.7 1012.8,999 1014.4,980.4 1016,978.7 1017.6,981.4 1019.2,997.4 1020.8,982.2 1022.4,956.2 1024,957.8 1025.7,992.4 1027.3,983.2 1028.9,987.2 1030.5,998.4 1032.1,998.6 1033.7,981.5 1035.3,964.3 1037,967.9 1038.6,963.5 1040.2,954.5 1041.8,986.7 1043.4,981 1045,997.5 1046.6,981.9 1048.2,972.9 1049.9,963 1051.5,991.1 1053.1,984.9 1054.7,978.9 1056.3,979 1057.9,995.4 1059.5,968.1 1061.2,979.3 1062.8,978.8 1064.4,982 1066,974.9 1067.6,979.9 1069.2,973.6 1070.8,955.7 1072.4,971.3 1074.1,964.6 1075.7,968.8 1077.3,986.5 1078.9,991.1 1080.5,960.8 1082.1,976.2 1083.7,969.1 1085.4,974.6 1087,981.4 1088.6,947.8 1090.2,930.9 1091.8,946.5 1093.4,978.5 1095,968.2 1096.6,957.8 1098.3,975.8 1099.9,963.6 1101.5,956.7 1103.1,936.8 1104.7,979.3 1106.3,957.8 1107.9,972.8 1109.6,986.3 1111.2,949.3 1112.8,980.9 1114.4,960.7 1116,946.3 1117.6,953.2 1119.2,958.6 1120.8,940.9 1122.5,959.6 1124.1,961.8 1125.7,936.2 1127.3,950.8 1128.9,961.6 1130.5,966.2 1132.1,957.5 1133.8,937.1 1135.4,957 1137,948.2 1138.6,931.4 1140.2,931.3 1141.8,966.1 1143.4,933.1 1145,979.1 1146.7,940.6 1148.3,964.9 1149.9,956.5 1151.5,954.2 1153.1,955.5 1154.7,947 1156.3,952 1158,923.3 1159.6,949.1 1161.2,958.6 1162.8,943.3 1164.4,953.9 1166,944.8 1167.6,950.6 1169.2,943.6 1170.9,939.4 1172.5,932.3 1174.1,926.1 1175.7,933.7 1177.3,943.4 1178.9,948.6 1180.5,954.7 1182.2,921.9 1183.8,944.9 1185.4,943 1187,935.3 1188.6,926.5 1190.2,916 1191.8,927.6 1193.4,948.9 1195.1,925.7 1196.7,934.2 1198.3,938 1199.9,916.8 1201.5,930.6 1203.1,928 1204.7,916.6 1206.4,919.5 1208,917.4 1209.6,920.2 1211.2,929.5 1212.8,928.1 1214.4,921.8 1216,918.8 1217.6,905.7 1219.3,933.2 1220.9,913.2 1222.5,943.8 1224.1,896.3 1225.7,900.2 1227.3,915.9 1228.9,912.4 1230.5,906.1 1232.2,913.8 1233.8,898.8 1235.4,888.7 1237,911.3 1238.6,895.4 1240.2,905.4 1241.8,874.6 1243.5,910.6 1245.1,895.5 1246.7,884.5 1248.3,884.6 1249.9,892.3 1251.5,877.7 1253.1,886.8 1254.7,872.1 1256.4,895.3 1258,884 1259.6,861.6 1261.2,855.8 1262.8,853.8 1264.4,883.3 1266,837.6 1267.7,866.4 1269.3,837.3 1270.9,857.2 1272.5,877.9 1274.1,855.2 1275.7,863.1 1277.3,853.5 1278.9,864.4 1280.6,852.8 1282.2,851.6 1283.8,863.5 1285.4,845.4 1287,858.4 1288.6,856.7 1290.2,862.2 1291.9,839.2 1293.5,847.3 1295.1,864.6 1296.7,853.8 1298.3,836.5 1299.9,838.2 1301.5,836.1 1303.1,844.3 1304.8,834.1 1306.4,833.4 1308,822.3 1309.6,832.9 1311.2,810.8 1312.8,832.8 1314.4,821.6 1316.1,807.6 1317.7,843.5 1319.3,830.5 1320.9,808.4 1322.5,827.3 1324.1,828.7 1325.7,800.6 1327.3,803.3 1329,816.3 1330.6,825.7 1332.2,809.4 1333.8,824.8 1335.4,796.1 1337,830.1 1338.6,829.6 1340.3,834.3 1341.9,816.2 1343.5,798.2 1345.1,813.6 1346.7,797.6 1348.3,805.7 1349.9,805.2 1351.5,804 1353.2,808 1354.8,814.2 1356.4,798 1358,798 1359.6,792.2 1361.2,802.6 1362.8,795.5 1364.5,810.2 1366.1,795.1 1367.7,817.4 1369.3,821 1370.9,791.4 1372.5,804.8 1374.1,798 1375.7,800.2 1377.4,797.9 1379,826.7 1380.6,804.6 1382.2,798.1 1383.8,807 1385.4,797.1 1387,805.6 1388.7,797.2 1390.3,792.4 1391.9,802.3 1393.5,819.6 1395.1,790.5 1396.7,792.2 1398.3,798.6 1399.9,796.8 1401.6,808.9 1403.2,790.8 1404.8,791.5 1406.4,786.5 1408,796.4 1409.6,815.9 1411.2,810.9 1412.9,796.8 1414.5,771.1 1416.1,798.2 1417.7,784.7 1419.3,794.2 1420.9,787.8 1422.5,789.5 1424.1,804.6 1425.8,790.3 1427.4,774.1 1429,807.2 1430.6,793.8 1432.2,787.7 1433.8,789.5 1435.4,785.2 1437,803 1438.7,763.9 1440.3,779.9 1441.9,778 1443.5,773.9 1445.1,794.9 1446.7,779.6 1448.3,794.9 1450,789.6 1451.6,779.5 1453.2,774.1 1454.8,787.1 1456.4,793.2 1458,790.4 1459.6,768.4 1461.2,786 1462.9,814.2 1464.5,773.4 1466.1,776.2 1467.7,800.4 1469.3,804.8 1470.9,794.4 1472.5,779 1474.2,795.1 1475.8,809.8 1477.4,774.4 1479,761.6 1480.6,796.6 1482.2,784.4 1483.8,789.7 1485.4,788.7 1487.1,796 1488.7,786.6 1490.3,774.7 1491.9,781.9 1493.5,814.2 1495.1,803.7 1496.7,793.5 1498.4,780.8 1500,776.9 1501.6,765.7 1503.2,771.4 1504.8,810.9 1506.4,793.5 1508,775.4 1509.6,776.8 1511.3,796.1 1512.9,777.6 1514.5,777.7 1516.1,789.8 1517.7,795.6 1519.3,773.1 1520.9,799 1522.6,787.9 1524.2,768.4 1525.8,788.3 1527.4,807 1529,786.3 1530.6,799.5 1532.2,791.9 1533.8,790.5 1535.5,777.8 1537.1,770.1 1538.7,797.9 1540.3,798.8" fill="none" stroke="#4f4f4f" stroke-width="3.2" stroke-linejoin="round" stroke-linecap="round"/>
<polyline points="1540.3,747.9 1539.9,791.6 1539.4,815.5 1539,814.3 1538.6,809.9 1538.2,762.3 1537.7,739.5 1537.3,756.3 1536.9,815.7 1536.4,813.1 1536,741.3 1535.6,760.8 1535.1,740.6 1534.7,761.7 1534.3,778.8 1533.9,782.4 1533.4,764.4 1533,810.5 1532.6,755 1532.1,796.1 1531.7,787.8 1531.3,784.7 1530.9,798.9 1530.4,784.5 1530,754.6 1529.6,798.2 1529.1,792.1 1528.7,802 1528.3,805.6 1527.8,752.5 1527.4,730.7 1527,778 1526.6,778.2 1526.1,743.8 1525.7,759.4 1525.3,783.8 1524.8,738.7 1524.4,772.3 1524,790.1 1523.6,780.5 1523.1,816.8 1522.7,775.5 1522.3,732.4 1521.8,784.6 1521.4,735.4 1521,806.8 1520.5,802.9 1520.1,771.4 1519.7,794.3 1519.3,784.7 1518.8,761.2 1518.4,764.8 1518,789.2 1517.5,792.9 1517.1,763.6 1516.7,799.5 1516.3,801.3 1515.8,819.6 1515.4,738.9 1515,775.9 1514.5,739.1 1514.1,752.9 1513.7,764.1 1513.2,789.3 1512.8,770.3 1512.4,818.3 1512,744.2 1511.5,743.6 1511.1,737 1510.7,744.6 1510.2,825.1 1509.8,745.8 1509.4,767.9 1509,743.3 1508.5,755.8 1508.1,819.3 1507.7,737.2 1507.2,813 1506.8,780.3 1506.4,757.9 1505.9,807.3 1505.5,781 1505.1,823.5 1504.7,808.1 1504.2,795.3 1503.8,764.8 1503.4,810.6 1502.9,749.4 1502.5,775.3 1502.1,741.7 1501.7,811.6 1501.2,801.5 1500.8,747.6 1500.4,781.7 1499.9,738.4 1499.5,776.2 1499.1,773.1 1498.6,775.8 1498.2,810.1 1497.8,781.1 1497.4,818.4 1496.9,812.9 1496.5,770.4 1496.1,789.8 1495.6,731.5 1495.2,811.5 1494.8,786.3 1494.4,789 1493.9,768.6 1493.5,754.7 1493.1,770.1 1492.6,769.4 1492.2,792 1491.8,812.5 1491.3,796.1 1490.9,781.6 1490.5,774.6 1490.1,725.1 1489.6,816.2 1489.2,743.9 1488.8,806.4 1488.3,827.2 1487.9,809 1487.5,752.6 1487.1,805 1486.6,798.7 1486.2,744.6 1485.8,742.3 1485.3,797.2 1484.9,773.3 1484.5,740.3 1484,768.3 1483.6,803.7 1483.2,752 1482.8,821.8 1482.3,769.6 1481.9,753.9 1481.5,787.6 1481,803.9 1480.6,793.1 1480.2,773.2 1479.8,785.8 1479.3,746.9 1478.9,816.2 1478.5,792.9 1478,810.5 1477.6,768.3 1477.2,796.2 1476.7,764.8 1476.3,797 1475.9,740.6 1475.5,784.1 1475,813.5 1474.6,797.5 1474.2,788.4 1473.7,729.9 1473.3,754 1472.9,799.5 1472.5,729.5 1472,812.7 1471.6,802.8 1471.2,760.6 1470.7,773.5 1470.3,758.4 1469.9,786.1 1469.4,725 1469,776.8 1468.6,784.3 1468.2,738.3 1467.7,745.1 1467.3,815.4 1466.9,743.1 1466.4,812.5 1466,772.1 1465.6,760.5 1465.2,799.3 1464.7,820.3 1464.3,801.9 1463.9,798.1 1463.4,751.3 1463,801.8 1462.6,785.9 1462.1,787.6 1461.7,762.2 1461.3,776.5 1460.9,801.6 1460.4,807.9 1460,747.5 1459.6,775.1 1459.1,738.9 1458.7,796.4 1458.3,746 1457.9,743.1 1457.4,802 1457,734.3 1456.6,757.2 1456.1,741 1455.7,805.8 1455.3,772 1454.8,804.7 1454.4,752.4 1454,745.5 1453.6,803.1 1453.1,775.4 1452.7,760.6 1452.3,816 1451.8,814.4 1451.4,791.5 1451,735.6 1450.6,808.1 1450.1,754 1449.7,817 1449.3,748.7 1448.8,789 1448.4,782.7 1448,743.7 1447.5,790.8 1447.1,788.9 1446.7,803.7 1446.3,754.3 1445.8,815.5 1445.4,803.4 1445,780.3 1444.5,773.8 1444.1,787.4 1443.7,735.8 1443.3,784.6 1442.8,817.2 1442.4,798.3 1442,793.4 1441.5,782.1 1441.1,747.6 1440.7,738.9 1440.2,745 1439.8,759.1 1439.4,815.3 1439,766.7 1438.5,752.8 1438.1,779.7 1437.7,804 1437.2,742 1436.8,783.7 1436.4,743.6 1436,797.4 1435.5,753.2 1435.1,790.4 1434.7,767.8 1434.2,802.2 1433.8,793.6 1433.4,792.3 1432.9,798.4 1432.5,771.1 1432.1,800.2 1431.7,793.4 1431.2,748.7 1430.8,787.9 1430.4,811.2 1429.9,732.4 1429.5,731.1 1429.1,736.5 1428.7,772.8 1428.2,773.8 1427.8,817.7 1427.4,757.1 1426.9,782.7 1426.5,774.6 1426.1,804.9 1425.6,780.6 1425.2,795.9 1424.8,737.6 1424.4,806.2 1423.9,734.2 1423.5,757.4 1423.1,786.2 1422.6,752.6 1422.2,805.9 1421.8,763.3 1421.4,766.5 1420.9,781.6 1420.5,741.9 1420.1,748.5 1419.6,782.4 1419.2,806.3 1418.8,799.4 1418.3,773.4 1417.9,776.1 1417.5,792 1417.1,778.2 1416.6,815.7 1416.2,767.6 1415.8,799.2 1415.3,797.3 1414.9,804.1 1414.5,787.6 1414.1,803.2 1413.6,794.7 1413.2,770 1412.8,796.7 1412.3,810.4 1411.9,761.3 1411.5,793.9 1411,797.3 1410.6,812 1410.2,741.5 1409.8,795 1409.3,733.8 1408.9,760.9 1408.5,773 1408,812.8 1407.6,761.2 1407.2,782.3 1406.8,779.3 1406.3,807.2 1405.9,780 1405.5,780.2 1405,824.7 1404.6,768.7 1404.2,773.1 1403.7,736 1403.3,760.3 1402.9,748.5 1402.5,800.1 1402,807 1401.6,738.5 1401.2,739.8 1400.7,820.5 1400.3,775.1 1399.9,799.6 1399.5,731.1 1399,732.2 1398.6,821.6 1398.2,787.3 1397.7,736.4 1397.3,789.4 1396.9,797 1396.4,761.8 1396,769.8 1395.6,783.8 1395.2,770.4 1394.7,752.7 1394.3,764.2 1393.9,799.1 1393.4,810.2 1393,782.6 1392.6,773.6 1392.2,757.8 1391.7,740.3 1391.3,779.2 1390.9,801 1390.4,798.6 1390,745.7 1389.6,739.5 1389.1,739.2 1388.7,809.8 1388.3,734.2 1387.9,784.4 1387.4,729 1387,817.5 1386.6,796.9 1386.1,772.8 1385.7,738.6 1385.3,807.8 1384.9,783.3 1384.4,787 1384,737.1 1383.6,749.8 1383.1,784.6 1382.7,794.3 1382.3,812.7 1381.8,736.3 1381.4,811.1 1381,774 1380.6,747.2 1380.1,796.8 1379.7,779.2 1379.3,769.8 1378.8,803.5 1378.4,789.8 1378,742.4 1377.5,732.5 1377.1,754.4 1376.7,759.9 1376.3,782.6 1375.8,773.3 1375.4,806.9 1375,810.3 1374.5,792.7 1374.1,811.9 1373.7,778.5 1373.3,747.1 1372.8,793.2 1372.4,785.4 1372,822.2 1371.5,763.2 1371.1,769.8 1370.7,755 1370.2,796.9 1369.8,774 1369.4,736.6 1369,769.7 1368.5,760.5 1368.1,793.6 1367.7,794.5 1367.2,773.4 1366.8,793.5 1366.4,731.3 1366,778.9 1365.5,785.3 1365.1,766.9 1364.7,802.8 1364.2,732.5 1363.8,800.2 1363.4,817.1 1362.9,750.4 1362.5,788.6 1362.1,818.7 1361.7,779.1 1361.2,776.9 1360.8,780.1 1360.4,769.3 1359.9,766.9 1359.5,805.3 1359.1,798.2 1358.7,814.5 1358.2,769.8 1357.8,795.2 1357.4,763.2 1356.9,797.7 1356.5,796.6 1356.1,785.2 1355.6,785.7 1355.2,751.5 1354.8,781.7 1354.4,799.1 1353.9,798.2 1353.5,804.3 1353.1,766.8 1352.6,757.7 1352.2,816.4 1351.8,800.7 1351.4,776.5 1350.9,764.3 1350.5,778.5 1350.1,735.5 1349.6,797.5 1349.2,815 1348.8,760.1 1348.3,747.5 1347.9,754.9 1347.5,752.1 1347.1,749.9 1346.6,759.4 1346.2,798.5 1345.8,813.2 1345.3,743 1344.9,814 1344.5,763 1344.1,738.2 1343.6,746 1343.2,817.6 1342.8,756.2 1342.3,790.1 1341.9,802.9 1341.5,752.1 1341,750.8 1340.6,752.6 1340.2,739.8 1339.8,785.3 1339.3,772.5 1338.9,785.9 1338.5,788.4 1338,793 1337.6,762.1 1337.2,774.6 1336.8,775.2 1336.3,800.4 1335.9,783 1335.5,775.5 1335,753.6 1334.6,767.9 1334.2,761.3 1333.7,818.2 1333.3,776.7 1332.9,790.1 1332.5,776.2 1332,759 1331.6,781.9 1331.2,756 1330.7,740.6 1330.3,775.7 1329.9,744.1 1329.5,770 1329,801.9 1328.6,800 1328.2,767.6 1327.7,813.3 1327.3,776.6 1326.9,773.2 1326.4,783.1 1326,771.7 1325.6,774.7 1325.2,779 1324.7,765.7 1324.3,797.9 1323.9,770.9 1323.4,802.3 1323,760.3 1322.6,769.1 1322.2,817.7 1321.7,759 1321.3,789.1 1320.9,784.4 1320.4,777.7 1320,746.2 1319.6,741.8 1319.1,782.9 1318.7,771.8 1318.3,776.9 1317.9,744 1317.4,780.9 1317,776 1316.6,747.9 1316.1,804.4 1315.7,812.5 1315.3,775.1 1314.9,804.8 1314.4,796.1 1314,787.9 1313.6,815.3 1313.1,738.5 1312.7,804.3 1312.3,755.6 1311.8,796.8 1311.4,794.3 1311,741.5 1310.6,819 1310.1,810.1 1309.7,738.9 1309.3,737.9 1308.8,811.2 1308.4,796.8 1308,786.4 1307.6,767.8 1307.1,753.3 1306.7,753.7 1306.3,762.5 1305.8,766.8 1305.4,797.9 1305,812.7 1304.5,792.7 1304.1,808.5 1303.7,826.6 1303.3,783.9 1302.8,807.2 1302.4,766.1 1302,809.4 1301.5,802.2 1301.1,780.8 1300.7,776.2 1300.3,803.4 1299.8,771.9 1299.4,810.9 1299,756.5 1298.5,752.1 1298.1,830.6 1297.7,783.7 1297.2,819.9 1296.8,800.4 1296.4,805.2 1296,793.7 1295.5,751 1295.1,780.7 1294.7,808.7 1294.2,767.3 1293.8,794.2 1293.4,812.2 1293,784.1 1292.5,791.9 1292.1,790.2 1291.7,744.8 1291.2,795.2 1290.8,766.6 1290.4,790.7 1289.9,755.5 1289.5,782 1289.1,803.1 1288.7,821.9 1288.2,768.4 1287.8,819.9 1287.4,818.6 1286.9,775.8 1286.5,747.4 1286.1,737.9 1285.7,790.1 1285.2,784.2 1284.8,802.4 1284.4,747.3 1283.9,755.7 1283.5,770.2 1283.1,803.4 1282.6,820 1282.2,820.4 1281.8,782.5 1281.4,810.2 1280.9,770.6 1280.5,782.3 1280.1,811.2 1279.6,783 1279.2,797 1278.8,815.5 1278.4,745.2 1277.9,784.8 1277.5,798 1277.1,763.4 1276.6,764.6 1276.2,782.9 1275.8,793.6 1275.3,748.9 1274.9,765 1274.5,764.3 1274.1,823.2 1273.6,779.3 1273.2,789.1 1272.8,753.3 1272.3,775.5 1271.9,754 1271.5,747.2 1271.1,788 1270.6,757.7 1270.2,820.4 1269.8,814.9 1269.3,751.8 1268.9,774.7 1268.5,737.5 1268,730.9 1267.6,804.3 1267.2,818.8 1266.8,755 1266.3,761.8 1265.9,767.2 1265.5,791.6 1265,807.4 1264.6,773.7 1264.2,778 1263.8,815.8 1263.3,762 1262.9,810.6 1262.5,781.4 1262,779.7 1261.6,744.9 1261.2,765 1260.7,753.5 1260.3,747.1 1259.9,762.9 1259.5,762.8 1259,790.6 1258.6,744.8 1258.2,783.9 1257.7,782.5 1257.3,803.8 1256.9,776 1256.5,776.2 1256,759.3 1255.6,746.9 1255.2,768.9 1254.7,769.1 1254.3,780 1253.9,761.9 1253.4,761.4 1253,799 1252.6,798.7 1252.2,799.6 1251.7,797.9 1251.3,762.4 1250.9,760.2 1250.4,816.8 1250,797.8 1249.6,808.4 1249.2,751.9 1248.7,814.3 1248.3,814.6 1247.9,784.3 1247.4,795.1 1247,783.8 1246.6,799.6 1246.1,750.5 1245.7,831.6 1245.3,755.5 1244.9,749.1 1244.4,817.7 1244,822.9 1243.6,762.9 1243.1,760.2 1242.7,755.6 1242.3,824 1241.9,774.4 1241.4,818.8 1241,782.7 1240.6,751.2 1240.1,749.1 1239.7,771.5 1239.3,761.4 1238.8,788.1 1238.4,793.9 1238,752.3 1237.6,798.3 1237.1,796.2 1236.7,806 1236.3,769.2 1235.8,780 1235.4,789.1 1235,820 1234.6,785.2 1234.1,818.1 1233.7,771.6 1233.3,792.8 1232.8,783.1 1232.4,821.6 1232,813 1231.5,818.4 1231.1,773.1 1230.7,815.9 1230.3,784.6 1229.8,763.5 1229.4,756.8 1229,794.6 1228.5,768.9 1228.1,780 1227.7,774.6 1227.3,823.9 1226.8,825.8 1226.4,780.6 1226,815.7 1225.5,827.6 1225.1,821 1224.7,804.1 1224.2,757 1223.8,803.1 1223.4,813.3 1223,765.7 1222.5,753.4 1222.1,782.5 1221.7,787.4 1221.2,776.1 1220.8,787 1220.4,804.1 1220,763.1 1219.5,745.9 1219.1,1030.7 1218.7,994.9 1218.2,996.4 1217.8,1004.7 1217.4,978.9 1216.9,969.6 1216.5,1014.4 1216.1,978.1 1215.7,1027.4 1215.2,995.6 1214.8,991 1214.4,998.8 1213.9,993.5 1213.5,1018.8 1213.1,1026.5 1212.7,988.3 1212.2,959.7 1211.8,1022.3 1211.4,975.6 1210.9,1022.5 1210.5,971.2 1210.1,1023.2 1209.6,976.3 1209.2,967.7 1208.8,981.9 1208.4,964.1 1207.9,1021.2 1207.5,1003.5 1207.1,974.9 1206.6,985.4 1206.2,984.2 1205.8,963.8 1205.4,1034.2 1204.9,996.4 1204.5,1025.6 1204.1,962.3 1203.6,999.9 1203.2,999.3 1202.8,992.4 1202.3,1017.1 1201.9,993.5 1201.5,980.2 1201.1,991.7 1200.6,976.8 1200.2,1028.3 1199.8,983.7 1199.3,986.9 1198.9,1021.5 1198.5,1014.2 1198.1,960.1 1197.6,995.9 1197.2,991.9 1196.8,1025.6 1196.3,998.7 1195.9,1028 1195.5,967.3 1195,1020.7 1194.6,1005.5 1194.2,1015.5 1193.8,1019 1193.3,1032.6 1192.9,1019.7 1192.5,978.9 1192,1032.6 1191.6,990.3 1191.2,1001.7 1190.8,1003.8 1190.3,999.9 1189.9,951.8 1189.5,965.8 1189,1009 1188.6,1019.7 1188.2,1029.1 1187.7,1018.2 1187.3,981.1 1186.9,977.1 1186.5,1025.1 1186,1037.3 1185.6,1016.5 1185.2,1007.4 1184.7,1004.7 1184.3,1003.7 1183.9,1039.7 1183.5,1027.2 1183,1019.8 1182.6,963 1182.2,977 1181.7,1018.5 1181.3,1028.1 1180.9,1031.1 1180.4,1006.7 1180,973.4 1179.6,992.4 1179.2,961 1178.7,1015.5 1178.3,993.5 1177.9,1024.4 1177.4,990 1177,967.5 1176.6,963.8 1176.2,978.9 1175.7,1011.8 1175.3,959.7 1174.9,987.8 1174.4,1009.3 1174,965.3 1173.6,965 1173.1,971 1172.7,980.5 1172.3,973.7 1171.9,1025 1171.4,1035.4 1171,964.4 1170.6,987.4 1170.1,965.1 1169.7,1003.9 1169.3,1029.9 1168.9,969.3 1168.4,997.7 1168,990.7 1167.6,969.9 1167.1,986.2 1166.7,975.2 1166.3,977.5 1165.8,1040.9 1165.4,972.7 1165,988.7 1164.6,973.7 1164.1,978.9 1163.7,971.4 1163.3,999.1 1162.8,1032.5 1162.4,997.3 1162,1030.2 1161.6,1022.9 1161.1,953 1160.7,1007.2 1160.3,1006.5 1159.8,961.3 1159.4,964.8 1159,1034.8 1158.5,1006.7 1158.1,1016.9 1157.7,974.7 1157.3,988.1 1156.8,981.6 1156.4,1024.9 1156,978.6 1155.5,972.5 1155.1,1025.6 1154.7,969.4 1154.3,968.9 1153.8,966.2 1153.4,996.1 1153,1008 1152.5,977.5 1152.1,979.9 1151.7,955 1151.2,1010.6 1150.8,971.7 1150.4,1038.3 1150,1002.4 1149.5,969.8 1149.1,1020.2 1148.7,1016.4 1148.2,1028.5 1147.8,958.8 1147.4,980.1 1147,987 1146.5,973.1 1146.1,986.6 1145.7,1008.5 1145.2,987.3 1144.8,987.4 1144.4,949.9 1143.9,1019.4 1143.5,969 1143.1,1016.2 1142.7,1045.5 1142.2,1023.5 1141.8,1011.4 1141.4,1016.5 1140.9,962.7 1140.5,989.7 1140.1,978.2 1139.7,989.7 1139.2,984.6 1138.8,1030 1138.4,989.5 1137.9,967.8 1137.5,1027.5 1137.1,993.2 1136.6,997 1136.2,987.2 1135.8,1029.2 1135.4,973.7 1134.9,992.3 1134.5,1016.2 1134.1,971.4 1133.6,952.9 1133.2,966.1 1132.8,959.3 1132.4,959.1 1131.9,1022.4 1131.5,1017.5 1131.1,1018.7 1130.6,1027.1 1130.2,991.5 1129.8,961 1129.3,974.8 1128.9,1017.9 1128.5,971.4 1128.1,965.4 1127.6,1012.5 1127.2,1005.8 1126.8,968.9 1126.3,1000.2 1125.9,955.9 1125.5,972.6 1125.1,969.2 1124.6,962.5 1124.2,963.2 1123.8,980.8 1123.3,1022.6 1122.9,971.6 1122.5,1035.5 1122,985.6 1121.6,986.2 1121.2,997.4 1120.8,998 1120.3,1031.4 1119.9,993.2 1119.5,1004.3 1119,972.8 1118.6,998.3 1118.2,1031.9 1117.8,1021.7 1117.3,970.4 1116.9,1019.6 1116.5,983.6 1116,1026.2 1115.6,1009.4 1115.2,1006.6 1114.7,1010.2 1114.3,961.4 1113.9,990.4 1113.5,984.5 1113,993.7 1112.6,989.2 1112.2,968.3 1111.7,957.7 1111.3,1028.8 1110.9,971.4 1110.5,975 1110,981.4 1109.6,1014.9 1109.2,976.6 1108.7,951.9 1108.3,1020.1 1107.9,977.6 1107.4,964.1 1107,988.6 1106.6,952 1106.2,965 1105.7,1014.8 1105.3,1000 1104.9,1002.2 1104.4,1026.9 1104,1025.9 1103.6,1037.5 1103.2,991.4 1102.7,979.3 1102.3,964.2 1101.9,1020.4 1101.4,975.3 1101,1021.8 1100.6,1033.8 1100.1,993.2 1099.7,1023.4 1099.3,977.2 1098.9,980.9 1098.4,985 1098,1005.1 1097.6,975.2 1097.1,1009.3 1096.7,1036.6 1096.3,967.5 1095.9,1036.5 1095.4,964 1095,1012.7 1094.6,1010.1 1094.1,1020.6 1093.7,976.7 1093.3,1011.1 1092.8,1002.9 1092.4,1000.1 1092,1012.5 1091.6,1014.2 1091.1,972.9 1090.7,1015 1090.3,1035.2 1089.8,1001.4 1089.4,999.5 1089,987.4 1088.6,994.7 1088.1,971.8 1087.7,959 1087.3,1029.7 1086.8,980.3 1086.4,1001.8 1086,958.8 1085.5,959.2 1085.1,960.8 1084.7,968.5 1084.3,1013.3 1083.8,959.7 1083.4,992.5 1083,1036.2 1082.5,1001.6 1082.1,981.7 1081.7,1016.9 1081.3,1017.6 1080.8,960.1 1080.4,1032.9 1080,1025.5 1079.5,994.9 1079.1,1030.6 1078.7,982.5 1078.2,1038.1 1077.8,1035.9 1077.4,1003.7 1077,1017.8 1076.5,985.4 1076.1,959.9 1075.7,976 1075.2,986.2 1074.8,971.6 1074.4,1012.8 1074,989.3 1073.5,966.8 1073.1,972 1072.7,1004 1072.2,1013.8 1071.8,971.1 1071.4,958.2 1070.9,1012.3 1070.5,1033.1 1070.1,1019.7 1069.7,985.6 1069.2,982.1 1068.8,957.1 1068.4,953.1 1067.9,989 1067.5,983.7 1067.1,1002.5 1066.7,960.2 1066.2,968.7 1065.8,961.7 1065.4,963.2 1064.9,1015.8 1064.5,994.8 1064.1,1032.4 1063.6,1024.1 1063.2,982.2 1062.8,966.1 1062.4,964.3 1061.9,976.5 1061.5,1002.8 1061.1,1022.9 1060.6,983 1060.2,995.8 1059.8,1021 1059.4,998.1 1058.9,1015 1058.5,1030.4 1058.1,971 1057.6,1031.1 1057.2,1000.7 1056.8,977.3 1056.3,1015.8 1055.9,1013 1055.5,1042.1 1055.1,1027 1054.6,1005.4 1054.2,960.8 1053.8,987.6 1053.3,1004.3 1052.9,1025.3 1052.5,1028.1 1052,968.4 1051.6,980.8 1051.2,984.2 1050.8,1022.4 1050.3,1018.3 1049.9,1036.5 1049.5,1026.5 1049,996.2 1048.6,1004.2 1048.2,974.2 1047.8,1028.2 1047.3,1030.7 1046.9,970.7 1046.5,987.1 1046,988.4 1045.6,967.1 1045.2,998 1044.7,958.6 1044.3,1023.3 1043.9,986.4 1043.5,1010.5 1043,956.5 1042.6,992.9 1042.2,1007.3 1041.7,1008.8 1041.3,970.7 1040.9,1007.5 1040.5,956.5 1040,981.4 1039.6,988.2 1039.2,1039.2 1038.7,1037.5 1038.3,969.8 1037.9,983.2 1037.4,1031.1 1037,1003.7 1036.6,965.4 1036.2,978.9 1035.7,1032 1035.3,1020.7 1034.9,1010.8 1034.4,975.4 1034,992.7 1033.6,979.5 1033.2,1033.1 1032.7,960.6 1032.3,968.9 1031.9,1040.3 1031.4,1000.4 1031,1026.3 1030.6,979.3 1030.1,985.1 1029.7,1011.4 1029.3,969.1 1028.9,968.3 1028.4,1014.7 1028,987.3 1027.6,972.1 1027.1,1024.4 1026.7,989.9 1026.3,1010.7 1025.9,1013.3 1025.4,984.5 1025,1008.4 1024.6,1009.7 1024.1,993.7 1023.7,1023.6 1023.3,1019.2 1022.8,987.2 1022.4,981.2 1022,980.3 1021.6,1029.7 1021.1,967.2 1020.7,1000 1020.3,993.2 1019.8,979.9 1019.4,982.3 1019,1017.6 1018.6,960.2 1018.1,971.2 1017.7,1009.6 1017.3,969 1016.8,1011.1 1016.4,983.4 1016,970 1015.5,1039.3 1015.1,983.7 1014.7,1027.7 1014.3,981 1013.8,1021.6 1013.4,966.1 1013,1020.1 1012.5,978.8 1012.1,995.7 1011.7,976.8 1011.3,956.9 1010.8,966.6 1010.4,1007 1010,986.8 1009.5,1008.7 1009.1,1020.1 1008.7,989.4 1008.2,1015.4 1007.8,1012.5 1007.4,1022 1007,964.4 1006.5,983.8 1006.1,998.2 1005.7,978.5 1005.2,992.4 1004.8,994.2 1004.4,1030.6 1004,986.6 1003.5,977.6 1003.1,972.4 1002.7,1016.9 1002.2,1030.5 1001.8,1015.8 1001.4,977.8 1000.9,1023.1 1000.5,1029.3 1000.1,1016.1 999.7,1038.7 999.2,1028.1 998.8,961.7 998.4,1013.4 997.9,963.7 997.5,953 997.1,1008.3 996.7,968.4 996.2,963.4 995.8,1033.7 995.4,1008 994.9,1003.7 994.5,975.8 994.1,1026.4 993.6,1026.3 993.2,1008.2 992.8,987.9 992.4,976.8 991.9,965.4 991.5,1004.5 991.1,1030.4 990.6,957.9 990.2,1003.5 989.8,968.2 989.4,1033.5 988.9,1006.7 988.5,1014.2 988.1,1010.4 987.6,958.3 987.2,963.6 986.8,1012.2 986.3,1001.4 985.9,1006 985.5,999.9 985.1,1032.1 984.6,980.2 984.2,979.8 983.8,1002.4 983.3,1003.5 982.9,972.2 982.5,1033.9 982.1,998.3 981.6,1024.8 981.2,996.7 980.8,980.3 980.3,972.1 979.9,1023.1 979.5,958 979,1004.5 978.6,1010.2 978.2,963.4 977.8,972.9 977.3,991 976.9,1021.9 976.5,973.5 976,968.3 975.6,968.9 975.2,1005.4 974.8,1029.9 974.3,994 973.9,1029.1 973.5,981.2 973,996.7 972.6,976.2 972.2,999.5 971.7,1005.4 971.3,976.4 970.9,1014.8 970.5,995.7 970,998.1 969.6,939.7 969.2,970.3 968.7,995 968.3,983.7 967.9,979.8 967.5,1011.3 967,981.5 966.6,971.4 966.2,986 965.7,978.8 965.3,986.4 964.9,1011.4 964.4,999.7 964,1010.8 963.6,1011.3 963.2,991.4 962.7,1010.3 962.3,963.7 961.9,1009.8 961.4,965.4 961,967.4 960.6,984.9 960.2,990.6 959.7,983.7 959.3,1008 958.9,1011.9 958.4,985.1 958,987.4 957.6,963.6 957.1,988.2 956.7,1022.8 956.3,1011.9 955.9,964.6 955.4,970.8 955,987.4 954.6,959.7 954.1,974.2 953.7,971.7 953.3,1010.3 952.9,986.2 952.4,1003 952,1003.8 951.6,992.5 951.1,1010.6 950.7,972.3 950.3,995.6 949.8,959.6 949.4,1004 949,1017.6 948.6,1015 948.1,996.2 947.7,1006.6 947.3,1013.2 946.8,981.8 946.4,960 946,1002.3 945.6,1022.6 945.1,977.9 944.7,997.3 944.3,1022.5 943.8,995.7 943.4,971.9 943,1003.6 942.5,998.4 942.1,972.3 941.7,1013.5 941.3,998.2 940.8,1026.6 940.4,1013 940,969.4 939.5,1016.5 939.1,1033.7 938.7,938.8 938.3,1023.2 937.8,968 937.4,978 937,1044.3 936.5,1025.3 936.1,994.2 935.7,965.8 935.2,966.2 934.8,1039.6 934.4,998.9 934,957.5 933.5,1009.9 933.1,997.7 932.7,1012.6 932.2,1019.9 931.8,967.2 931.4,1048.6 931,1034.2 930.5,1009.3 930.1,959.5 929.7,946.1 929.2,1029.6 928.8,1008.7 928.4,1028.2 927.9,964.4 927.5,1012 927.1,988.6 926.7,981.1 926.2,1002.3 925.8,959.2 925.4,979.4 924.9,985.5 924.5,1022.6 924.1,1040.8 923.7,953.5 923.2,952.7 922.8,960.2 922.4,1031.4 921.9,981 921.5,979.9 921.1,952.6 920.6,1018.2 920.2,1039.9 919.8,984.3 919.4,997.3 918.9,1042.7 918.5,1004.5 918.1,1019.8 917.6,955 917.2,977.1 916.8,949.1 916.4,991.2 915.9,949.5 915.5,989.8 915.1,948.4 914.6,954.6 914.2,1020.8 913.8,998.4 913.3,951.1 912.9,1042.9 912.5,985.7 912.1,985.4 911.6,989.5 911.2,998 910.8,981.7 910.3,955.8 909.9,1010 909.5,978.7 909.1,967.6 908.6,996.4 908.2,964.5 907.8,1018.5 907.3,969.8 906.9,1019.6 906.5,1023 906,999.1 905.6,1008.2 905.2,965.7 904.8,957.4 904.3,937.7 903.9,1036.7 903.5,997.4 903,989.5 902.6,974.9 902.2,985.8 901.8,1054.2 901.3,950.3 900.9,978.6 900.5,945.8 900,1027.3 899.6,990 899.2,1011 898.7,1005 898.3,1028.1 897.9,990.4 897.5,1032.4 897,1030.3 896.6,993.1 896.6,1018.4 897,995.3 897.5,1016.3 897.9,1053.3 898.3,948.5 898.7,969.6 899.2,967.7 899.6,947.2 900,1042.4 900.5,1048.7 900.9,984.5 901.3,964.6 901.8,959.3 902.2,983.6 902.6,1014.8 903,953 903.5,1003 903.9,1033.6 904.3,955.1 904.8,993.3 905.2,949.3 905.6,980.6 906,1009.9 906.5,959 906.9,976.9 907.3,963.8 907.8,956.4 908.2,983.7 908.6,967.2 909.1,1034.6 909.5,1031.3 909.9,991.9 910.3,1013.4 910.8,967.5 911.2,1016.2 911.6,998.2 912.1,1038.8 912.5,1020.5 912.9,938.8 913.3,1042.8 913.8,1040.5 914.2,1038.2 914.6,989.3 915.1,1032.4 915.5,1001.5 915.9,947.6 916.4,1004.3 916.8,950.3 917.2,996.7 917.6,985.6 918.1,1028.2 918.5,990.4 918.9,1018.8 919.4,941 919.8,962.2 920.2,1034 920.6,936 921.1,989.5 921.5,1050.6 921.9,974.9 922.4,982 922.8,1047.7 923.2,961.6 923.7,965.7 924.1,969.1 924.5,1027.6 924.9,971.3 925.4,974.8 925.8,970.7 926.2,1031.1 926.7,949.6 927.1,983.8 927.5,1045.6 927.9,1007.3 928.4,982.7 928.8,933.2 929.2,944.6 929.7,1018 930.1,985.5 930.5,943.8 931,940.7 931.4,947.5 931.8,1044.8 932.2,961.8 932.7,938 933.1,950.4 933.5,1024.4 934,1006.2 934.4,1052 934.8,998.1 935.2,1046.9 935.7,972.4 936.1,1047.7 936.5,949.6 937,952.3 937.4,984.8 937.8,957.5 938.3,1001.7 938.7,992.7 939.1,973.1 939.5,1008.7 940,955.3 940.4,1057.5 940.8,1049.4 941.3,948.3 941.7,1021.5 942.1,969.7 942.5,972.7 943,954.6 943.4,970.8 943.8,1013.8 944.3,992.2 944.7,1012.2 945.1,964.7 945.6,1000.9 946,1003.5 946.4,1028.1 946.8,967.5 947.3,972.3 947.7,1033.3 948.1,1020 948.6,1024.7 949,1013.6 949.4,1033.5 949.8,970.5 950.3,1027.9 950.7,970.2 951.1,979.3 951.6,1009.1 952,996.1 952.4,1018.5 952.9,984.8 953.3,1007.7 953.7,984.4 954.1,1024.3 954.6,977.4 955,1035.4 955.4,1030.6 955.9,967 956.3,1028.5 956.7,1007.6 957.1,955.9 957.6,1002.2 958,1012.7 958.4,984.1 958.9,957.3 959.3,961.4 959.7,985.6 960.2,957.7 960.6,955.6 961,1000.7 961.4,969.4 961.9,999.4 962.3,1001.2 962.7,994.3 963.2,960.8 963.6,1049.9 964,962.3 964.4,993.6 964.9,982.1 965.3,990.8 965.7,955 966.2,986.9 966.6,1006.4 967,971.7 967.5,996.7 967.9,1029 968.3,970.8 968.7,962.1 969.2,974.5 969.6,965.9 970,1012 970.5,1017.8 970.9,992.7 971.3,977.6 971.7,975.9 972.2,955.2 972.6,1008.4 973,967.3 973.5,970.1 973.9,985.5 974.3,1006.9 974.8,1006.7 975.2,1023.5 975.6,966 976,984.4 976.5,961 976.9,1007.1 977.3,998.3 977.8,960.6 978.2,1041.1 978.6,995.4 979,995.1 979.5,972.8 979.9,967.9 980.3,980.7 980.8,965.3 981.2,967.5 981.6,988.8 982.1,987.2 982.5,999.1 982.9,1004.4 983.3,960.9 983.8,1008.1 984.2,964.9 984.6,979.2 985.1,990.9 985.5,1040.4 985.9,982.3 986.3,980.4 986.8,981.5 987.2,1011.3 987.6,988.9 988.1,980.3 988.5,993.5 988.9,974.4 989.4,984.9 989.8,1021.7 990.2,956.1 990.6,1023.3 991.1,1012.1 991.5,995.2 991.9,958.3 992.4,1021.2 992.8,999.1 993.2,1022 993.6,998 994.1,1000.7 994.5,1012.9 994.9,982.1 995.4,992 995.8,997.1 996.2,953.7 996.7,1017.3 997.1,958.1 997.5,1013.5 997.9,1011.7 998.4,980.8 998.8,968.3 999.2,997.5 999.7,957.3 1000.1,997.4 1000.5,950.8 1000.9,958.2 1001.4,1000 1001.8,1030.4 1002.2,996 1002.7,966.5 1003.1,1017.5 1003.5,964.3 1004,957.3 1004.4,999.5 1004.8,1002.1 1005.2,1012.5 1005.7,1007.1 1006.1,1024.7 1006.5,1021.5 1007,976.4 1007.4,973.4 1007.8,984 1008.2,1032.5 1008.7,1008.2 1009.1,999.3 1009.5,991.5 1010,992.1 1010.4,991.5 1010.8,990.4 1011.3,977.5 1011.7,1007.8 1012.1,983.9 1012.5,1028.2 1013,1004.5 1013.4,1023.1 1013.8,980.8 1014.3,1030.9 1014.7,1028.6 1015.1,994.5 1015.5,1029.1 1016,1009.8 1016.4,1015.7 1016.8,997 1017.3,990.4 1017.7,1032.1 1018.1,990.2 1018.6,1021.4 1019,1007.5 1019.4,1013.5 1019.8,964.4 1020.3,976.8 1020.7,990.6 1021.1,1012.8 1021.6,958.1 1022,984.6 1022.4,1009.9 1022.8,1027.6 1023.3,966.7 1023.7,1012.2 1024.1,977.1 1024.6,1008.1 1025,997.2 1025.4,1020.8 1025.9,997.1 1026.3,1015.6 1026.7,994.8 1027.1,965.4 1027.6,1009.4 1028,975.5 1028.4,1021.5 1028.9,990.7 1029.3,1015.3 1029.7,1006.9 1030.1,999.2 1030.6,1009.5 1031,1009 1031.4,1015.5 1031.9,1018.3 1032.3,986.4 1032.7,962.2 1033.2,999.3 1033.6,1013.4 1034,1030.3 1034.4,1000.8 1034.9,955.9 1035.3,1005.6 1035.7,1034.5 1036.2,981.7 1036.6,968.4 1037,994 1037.4,1030.7 1037.9,965.8 1038.3,1017.9 1038.7,1025.2 1039.2,991.1 1039.6,1028.8 1040,981 1040.5,994.9 1040.9,1006.1 1041.3,1033.7 1041.7,1032.1 1042.2,983.1 1042.6,1012.8 1043,967.5 1043.5,998.7 1043.9,988.3 1044.3,988.4 1044.7,1024.5 1045.2,969.8 1045.6,1020.5 1046,1001.7 1046.5,1021.5 1046.9,1029.3 1047.3,1030.1 1047.8,995.2 1048.2,977.6 1048.6,987 1049,980.4 1049.5,1025.4 1049.9,1033.6 1050.3,998 1050.8,1025 1051.2,1024.1 1051.6,973.6 1052,973.2 1052.5,1019.2 1052.9,965.7 1053.3,974.6 1053.8,991.4 1054.2,1032.4 1054.6,1006.6 1055.1,977.1 1055.5,971.9 1055.9,1031.1 1056.3,1005.4 1056.8,1007 1057.2,1024.3 1057.6,1019.2 1058.1,975.7 1058.5,997.2 1058.9,994 1059.4,979.2 1059.8,1024.4 1060.2,1021.1 1060.6,1004.5 1061.1,1029.6 1061.5,998.9 1061.9,1019.1 1062.4,990.1 1062.8,974.8 1063.2,1018.6 1063.6,972.1 1064.1,1025.4 1064.5,1032.4 1064.9,988.1 1065.4,974.9 1065.8,1026.8 1066.2,1029 1066.7,1029.9 1067.1,981.6 1067.5,993.3 1067.9,1020.8 1068.4,1011 1068.8,970.3 1069.2,1012.3 1069.7,1010.3 1070.1,978.9 1070.5,959.9 1070.9,975.5 1071.4,967.2 1071.8,1004.7 1072.2,978.6 1072.7,1021.6 1073.1,1000.9 1073.5,1021.5 1074,1001.3 1074.4,963.3 1074.8,1005.4 1075.2,971.9 1075.7,1012.5 1076.1,1029.6 1076.5,1020.5 1077,972.7 1077.4,971.5 1077.8,956.1 1078.2,987.7 1078.7,1001.9 1079.1,986.1 1079.5,998.9 1080,980.7 1080.4,982.1 1080.8,1020.3 1081.3,999.1 1081.7,1020.2 1082.1,961.5 1082.5,987.7 1083,957.3 1083.4,1028.3 1083.8,985.9 1084.3,989.7 1084.7,971.9 1085.1,997.4 1085.5,964.4 1086,1015.3 1086.4,969 1086.8,979.8 1087.3,1031.8 1087.7,1026.1 1088.1,975 1088.6,1017.3 1089,992.3 1089.4,1026.1 1089.8,965 1090.3,1002.2 1090.7,1012.2 1091.1,1012.1 1091.6,1012.7 1092,1027.3 1092.4,960.5 1092.8,1007.2 1093.3,963.9 1093.7,1012.4 1094.1,1009.7 1094.6,1019.7 1095,982.1 1095.4,1011 1095.9,980.5 1096.3,990.4 1096.7,1024.2 1097.1,1014.2 1097.6,977.8 1098,980.7 1098.4,1016.9 1098.9,968.3 1099.3,964.7 1099.7,1010.7 1100.1,1025.7 1100.6,986 1101,964.2 1101.4,994.2 1101.9,1001.1 1102.3,1000.7 1102.7,968.3 1103.2,975.4 1103.6,1027.7 1104,1007.9 1104.4,963.7 1104.9,978 1105.3,1016 1105.7,1015.1 1106.2,970.8 1106.6,1020 1107,1006.7 1107.4,976.1 1107.9,1012.4 1108.3,992 1108.7,973.5 1109.2,1032.9 1109.6,1015.5 1110,987.3 1110.5,976.6 1110.9,1014.7 1111.3,993.2 1111.7,980.2 1112.2,960.2 1112.6,1018.3 1113,969.1 1113.5,962.9 1113.9,998.6 1114.3,967.6 1114.7,991.8 1115.2,986.2 1115.6,999.4 1116,1013.8 1116.5,1022.3 1116.9,999.4 1117.3,1017.1 1117.8,978.6 1118.2,1036.3 1118.6,1017.6 1119,1015.4 1119.5,1018.3 1119.9,966.2 1120.3,984.4 1120.8,979.8 1121.2,961.9 1121.6,1008.6 1122,995.5 1122.5,983.9 1122.9,979.6 1123.3,983.4 1123.8,951.3 1124.2,973 1124.6,979.2 1125.1,1034.3 1125.5,998.5 1125.9,963.3 1126.3,993.9 1126.8,957.4 1127.2,1004.1 1127.6,1000.6 1128.1,957.3 1128.5,1027.9 1128.9,991.6 1129.3,981.6 1129.8,1020 1130.2,1013.4 1130.6,987.5 1131.1,1024.4 1131.5,1035.5 1131.9,1012.4 1132.4,961.4 1132.8,1012.2 1133.2,981.5 1133.6,1000.2 1134.1,1002.6 1134.5,951.8 1134.9,1023.2 1135.4,967.7 1135.8,995.3 1136.2,1004 1136.6,1037.7 1137.1,957.8 1137.5,979.2 1137.9,1012.5 1138.4,1021.5 1138.8,972.5 1139.2,989.6 1139.7,1006.3 1140.1,959.8 1140.5,959.9 1140.9,963.1 1141.4,966.4 1141.8,965.9 1142.2,1010 1142.7,1019.2 1143.1,982.3 1143.5,1025.5 1143.9,983.7 1144.4,960.1 1144.8,976.6 1145.2,1031.7 1145.7,994.5 1146.1,1030.7 1146.5,971.5 1147,1005.1 1147.4,1028 1147.8,996.1 1148.2,1006.6 1148.7,1005.2 1149.1,972 1149.5,975.5 1150,1010.7 1150.4,977.5 1150.8,991 1151.2,992.6 1151.7,964.5 1152.1,1012.5 1152.5,992 1153,977.9 1153.4,991.3 1153.8,995.7 1154.3,1001.4 1154.7,987.3 1155.1,996.2 1155.5,1012.9 1156,973.5 1156.4,957.4 1156.8,994.5 1157.3,1014.6 1157.7,1018.9 1158.1,960.8 1158.5,1013.8 1159,1017.7 1159.4,969.6 1159.8,977.5 1160.3,1022.6 1160.7,961.4 1161.1,1031.3 1161.6,1008.3 1162,966.1 1162.4,1009.7 1162.8,1032.7 1163.3,1018.4 1163.7,1028.3 1164.1,984.4 1164.6,970.3 1165,1011.4 1165.4,1027.6 1165.8,966.6 1166.3,964.8 1166.7,1019 1167.1,1005.7 1167.6,990.5 1168,1024.5 1168.4,979.6 1168.9,997.5 1169.3,1022.9 1169.7,969.1 1170.1,974.3 1170.6,973.6 1171,980 1171.4,976.6 1171.9,956.9 1172.3,1017.7 1172.7,985.4 1173.1,1027 1173.6,1026.1 1174,960.2 1174.4,1032.1 1174.9,988.1 1175.3,1021.6 1175.7,996.1 1176.2,1007.7 1176.6,1016.8 1177,1006.5 1177.4,984.7 1177.9,1003.2 1178.3,967.6 1178.7,1031.1 1179.2,977 1179.6,963.9 1180,962.5 1180.4,1031.6 1180.9,1035.1 1181.3,956.2 1181.7,986.3 1182.2,1023.5 1182.6,968.4 1183,1033.3 1183.5,976.9 1183.9,1002.9 1184.3,1016.2 1184.7,967.4 1185.2,971.2 1185.6,966.3 1186,978.3 1186.5,1030.8 1186.9,1008.2 1187.3,974.9 1187.7,1020.1 1188.2,1025.6 1188.6,1023.1 1189,1020.9 1189.5,1012 1189.9,1036.5 1190.3,1038 1190.8,1006.5 1191.2,976.5 1191.6,983 1192,1008.1 1192.5,1024.5 1192.9,961.9 1193.3,997.2 1193.8,1024.6 1194.2,1000.4 1194.6,1014.9 1195,994.1 1195.5,1019.7 1195.9,989.7 1196.3,979.1 1196.8,999.5 1197.2,1008.4 1197.6,979.5 1198.1,987.5 1198.5,1011 1198.9,973.6 1199.3,1026.3 1199.8,982.8 1200.2,978.5 1200.6,1024.9 1201.1,1014.6 1201.5,976.1 1201.9,1029.2 1202.3,968.5 1202.8,975.4 1203.2,1027.1 1203.6,979 1204.1,970.9 1204.5,1023.9 1204.9,972.5 1205.4,1021.8 1205.8,982.4 1206.2,974.8 1206.6,1011.6 1207.1,1002.8 1207.5,1021.2 1207.9,990.1 1208.4,989.5 1208.8,1005.3 1209.2,957.3 1209.6,981.3 1210.1,955.8 1210.5,1029.3 1210.9,1020.2 1211.4,984.8 1211.8,1004.6 1212.2,982.3 1212.7,1041.9 1213.1,973.4 1213.5,1015.5 1213.9,974.4 1214.4,994.4 1214.8,987.1 1215.2,971.8 1215.7,988.1 1216.1,980.6 1216.5,1013.2 1216.9,983 1217.4,973.5 1217.8,983.1 1218.2,966.8 1218.7,980 1219.1,992.1 1219.5,786.5 1220,757.5 1220.4,755.1 1220.8,792.4 1221.2,791.8 1221.7,765.8 1222.1,784.4 1222.5,807.1 1223,812 1223.4,803.1 1223.8,750.3 1224.2,763.1 1224.7,759.2 1225.1,836.5 1225.5,793.4 1226,784.9 1226.4,815 1226.8,767 1227.3,776.8 1227.7,758.5 1228.1,812.3 1228.5,793.4 1229,773.1 1229.4,800.8 1229.8,775.7 1230.3,801.3 1230.7,796.7 1231.1,759.2 1231.5,788.8 1232,789.9 1232.4,810.9 1232.8,755.7 1233.3,816.5 1233.7,755.3 1234.1,781.7 1234.6,774.2 1235,811.4 1235.4,810.4 1235.8,768 1236.3,779.4 1236.7,797.6 1237.1,803.6 1237.6,791 1238,746.1 1238.4,805.7 1238.8,810.2 1239.3,788.4 1239.7,790 1240.1,770.8 1240.6,788.3 1241,804.2 1241.4,789.8 1241.9,788.6 1242.3,765 1242.7,802.8 1243.1,748.6 1243.6,799.7 1244,777.4 1244.4,819.8 1244.9,803.5 1245.3,800.7 1245.7,754.8 1246.1,805 1246.6,746.9 1247,756.4 1247.4,780.5 1247.9,820.4 1248.3,817.9 1248.7,786.5 1249.2,808.6 1249.6,750.8 1250,805.8 1250.4,750.8 1250.9,777.8 1251.3,788.4 1251.7,814.7 1252.2,781.2 1252.6,806 1253,801.9 1253.4,793.4 1253.9,760.5 1254.3,753.3 1254.7,764.3 1255.2,798.2 1255.6,786.4 1256,803.2 1256.5,774.1 1256.9,747.6 1257.3,804.8 1257.7,761.6 1258.2,806.2 1258.6,784.1 1259,824 1259.5,771.1 1259.9,746.5 1260.3,824.6 1260.7,766.4 1261.2,746.3 1261.6,741.7 1262,783.9 1262.5,750 1262.9,787 1263.3,784.9 1263.8,740.8 1264.2,751.5 1264.6,800.3 1265,767.6 1265.5,801.2 1265.9,758.6 1266.3,773.1 1266.8,805.6 1267.2,816.9 1267.6,758.8 1268,759.4 1268.5,810.7 1268.9,737.7 1269.3,766.7 1269.8,819.2 1270.2,816.3 1270.6,768.8 1271.1,773.5 1271.5,759.8 1271.9,767.6 1272.3,797.5 1272.8,810.4 1273.2,812.2 1273.6,809.9 1274.1,809.8 1274.5,811.2 1274.9,779.9 1275.3,744.6 1275.8,786.9 1276.2,793.4 1276.6,781.2 1277.1,783.9 1277.5,773.9 1277.9,799.5 1278.4,754.2 1278.8,818 1279.2,770.2 1279.6,786.9 1280.1,747 1280.5,821.3 1280.9,746.3 1281.4,761 1281.8,746.1 1282.2,768.8 1282.6,799.8 1283.1,762 1283.5,803.6 1283.9,780.7 1284.4,796.4 1284.8,775 1285.2,776.2 1285.7,819.2 1286.1,743.5 1286.5,754.5 1286.9,774.7 1287.4,749.9 1287.8,768.3 1288.2,746.3 1288.7,742.1 1289.1,745.5 1289.5,763.9 1289.9,798.6 1290.4,806.8 1290.8,823.5 1291.2,742.5 1291.7,756.5 1292.1,739.2 1292.5,791.5 1293,787.1 1293.4,813.9 1293.8,775.9 1294.2,780.6 1294.7,786.2 1295.1,775.1 1295.5,740.1 1296,749.8 1296.4,818.5 1296.8,793.7 1297.2,787.3 1297.7,789.7 1298.1,757.5 1298.5,784.3 1299,763.8 1299.4,776.1 1299.8,784 1300.3,770.7 1300.7,785.7 1301.1,813.4 1301.5,782.8 1302,747.2 1302.4,810.7 1302.8,747.2 1303.3,815 1303.7,744.5 1304.1,762.9 1304.5,797.5 1305,771.3 1305.4,797.1 1305.8,789.6 1306.3,750.3 1306.7,813.4 1307.1,755.4 1307.6,814 1308,776.4 1308.4,756.3 1308.8,798.4 1309.3,796.7 1309.7,737.8 1310.1,748.2 1310.6,806.1 1311,767.6 1311.4,797.8 1311.8,811.9 1312.3,785.9 1312.7,767.5 1313.1,807 1313.6,739.6 1314,794.2 1314.4,764.2 1314.9,756.3 1315.3,753.7 1315.7,735.1 1316.1,787.6 1316.6,811.4 1317,761.6 1317.4,777.3 1317.9,814.1 1318.3,806.7 1318.7,770 1319.1,778 1319.6,818.2 1320,756.7 1320.4,757.8 1320.9,772.4 1321.3,764.9 1321.7,804.8 1322.2,731.5 1322.6,793.5 1323,795.9 1323.4,806 1323.9,774.2 1324.3,752.9 1324.7,787.5 1325.2,764.8 1325.6,781.3 1326,768.1 1326.4,789.1 1326.9,820.9 1327.3,759.4 1327.7,726.9 1328.2,753.1 1328.6,804.8 1329,752.3 1329.5,731.7 1329.9,738.7 1330.3,753.6 1330.7,791.9 1331.2,768.1 1331.6,758.6 1332,738 1332.5,814.4 1332.9,781.4 1333.3,818.3 1333.7,737.7 1334.2,772 1334.6,752.7 1335,766.5 1335.5,814.1 1335.9,824.8 1336.3,740.3 1336.8,734.7 1337.2,787.9 1337.6,758.8 1338,761.4 1338.5,817.1 1338.9,796.3 1339.3,793.6 1339.8,753.8 1340.2,778.7 1340.6,781.6 1341,772.8 1341.5,802.4 1341.9,776.2 1342.3,745 1342.8,782 1343.2,746.3 1343.6,750.4 1344.1,754.8 1344.5,771.3 1344.9,790.6 1345.3,754.2 1345.8,776.7 1346.2,741.5 1346.6,809.5 1347.1,736.3 1347.5,804 1347.9,771.9 1348.3,758.1 1348.8,794.1 1349.2,735.7 1349.6,792.9 1350.1,764.9 1350.5,786.4 1350.9,829.9 1351.4,746.5 1351.8,802.7 1352.2,749.3 1352.6,759 1353.1,794.2 1353.5,803.3 1353.9,808.4 1354.4,801.7 1354.8,783.8 1355.2,748 1355.6,778.5 1356.1,807.8 1356.5,730.6 1356.9,832.8 1357.4,812 1357.8,739.8 1358.2,774.4 1358.7,773 1359.1,756.8 1359.5,743.8 1359.9,737.2 1360.4,772.7 1360.8,758 1361.2,780 1361.7,760.2 1362.1,781.7 1362.5,805.2 1362.9,756.5 1363.4,750.5 1363.8,775.4 1364.2,794.2 1364.7,821.8 1365.1,820.1 1365.5,782 1366,791.9 1366.4,790.5 1366.8,752.1 1367.2,805.1 1367.7,817.5 1368.1,793.2 1368.5,781.4 1369,775.3 1369.4,775 1369.8,808.8 1370.2,765.7 1370.7,738.1 1371.1,793.1 1371.5,798.7 1372,774.2 1372.4,767.9 1372.8,793.8 1373.3,783 1373.7,738.3 1374.1,755 1374.5,776.8 1375,787.3 1375.4,804 1375.8,749.3 1376.3,771 1376.7,798.7 1377.1,777.1 1377.5,764.4 1378,802.9 1378.4,811.8 1378.8,755.6 1379.3,731.4 1379.7,775.4 1380.1,750.3 1380.6,770.1 1381,736.9 1381.4,757.9 1381.8,761.3 1382.3,733.8 1382.7,760.1 1383.1,814.6 1383.6,780.2 1384,765.1 1384.4,781.4 1384.9,783.9 1385.3,762.5 1385.7,766.5 1386.1,766.3 1386.6,747.9 1387,770.6 1387.4,789.5 1387.9,798.2 1388.3,814.3 1388.7,810.7 1389.1,772.2 1389.6,813.4 1390,748.4 1390.4,787.6 1390.9,722.9 1391.3,802.9 1391.7,738 1392.2,790.4 1392.6,755.3 1393,811.8 1393.4,767 1393.9,772.7 1394.3,809.4 1394.7,757.6 1395.2,780.2 1395.6,783.1 1396,773.3 1396.4,806.1 1396.9,763.9 1397.3,755 1397.7,751.4 1398.2,803.7 1398.6,790.2 1399,755.7 1399.5,793.7 1399.9,807.9 1400.3,807.6 1400.7,795.4 1401.2,789.6 1401.6,757.7 1402,803.8 1402.5,824.1 1402.9,729.3 1403.3,798 1403.7,745.8 1404.2,777.7 1404.6,737.1 1405,797.6 1405.5,799.5 1405.9,818 1406.3,795.3 1406.8,752 1407.2,768.1 1407.6,744.9 1408,791.4 1408.5,743.2 1408.9,787.6 1409.3,818.6 1409.8,810.9 1410.2,780.5 1410.6,813.3 1411,809.4 1411.5,778.5 1411.9,770.3 1412.3,808.5 1412.8,816.1 1413.2,824.6 1413.6,802.9 1414.1,777.2 1414.5,799.2 1414.9,822.4 1415.3,788.3 1415.8,745.8 1416.2,757.8 1416.6,789.3 1417.1,794.2 1417.5,796.2 1417.9,819.8 1418.3,809 1418.8,796.7 1419.2,727.1 1419.6,793.4 1420.1,748 1420.5,781.2 1420.9,789.4 1421.4,754.4 1421.8,739.7 1422.2,768 1422.6,756.1 1423.1,768.6 1423.5,803.9 1423.9,776.4 1424.4,779.5 1424.8,780.3 1425.2,784.8 1425.6,764.3 1426.1,742.8 1426.5,788.7 1426.9,798.5 1427.4,806.1 1427.8,726.2 1428.2,743.5 1428.7,759.4 1429.1,744.6 1429.5,740.6 1429.9,747.1 1430.4,769.2 1430.8,802.7 1431.2,762.4 1431.7,800.7 1432.1,802.5 1432.5,808.9 1432.9,732.6 1433.4,782.8 1433.8,800.9 1434.2,752 1434.7,757.2 1435.1,774 1435.5,808.1 1436,805 1436.4,768.7 1436.8,765 1437.2,810.7 1437.7,748.6 1438.1,809.9 1438.5,814.4 1439,751.3 1439.4,746.8 1439.8,775.5 1440.2,782.1 1440.7,786.8 1441.1,754.5 1441.5,765.5 1442,810.4 1442.4,774 1442.8,752.8 1443.3,749.4 1443.7,748.6 1444.1,753.7 1444.5,808.6 1445,775.1 1445.4,811 1445.8,728.1 1446.3,755.5 1446.7,766 1447.1,788.4 1447.5,784 1448,802.5 1448.4,782.5 1448.8,823.7 1449.3,741.6 1449.7,737.2 1450.1,764.9 1450.6,755 1451,795.2 1451.4,761.9 1451.8,771.2 1452.3,789.8 1452.7,747.1 1453.1,795.3 1453.6,773.4 1454,732.6 1454.4,820.9 1454.8,787.3 1455.3,769.8 1455.7,740.3 1456.1,750.7 1456.6,761.3 1457,741.6 1457.4,753.3 1457.9,746.3 1458.3,774.4 1458.7,814.5 1459.1,775.5 1459.6,799.2 1460,745.8 1460.4,762.2 1460.9,795 1461.3,731.9 1461.7,797.3 1462.1,747.2 1462.6,752 1463,750.3 1463.4,781.2 1463.9,785.4 1464.3,766.1 1464.7,750.1 1465.2,741.3 1465.6,763.4 1466,752.9 1466.4,781.7 1466.9,811.2 1467.3,795.3 1467.7,801.3 1468.2,769.6 1468.6,773.7 1469,818.4 1469.4,760 1469.9,807 1470.3,762.9 1470.7,815.9 1471.2,772.4 1471.6,779.6 1472,794.7 1472.5,777.6 1472.9,746.7 1473.3,761.5 1473.7,755 1474.2,789.6 1474.6,740.9 1475,808.9 1475.5,819.1 1475.9,778 1476.3,748.7 1476.7,733.7 1477.2,743.5 1477.6,792.3 1478,764.7 1478.5,735 1478.9,799.4 1479.3,807.7 1479.8,811.5 1480.2,789 1480.6,803 1481,741.2 1481.5,749.4 1481.9,777.6 1482.3,807.3 1482.8,779.8 1483.2,747.3 1483.6,772.2 1484,809.7 1484.5,732.2 1484.9,742 1485.3,807.6 1485.8,763.4 1486.2,779 1486.6,759.2 1487.1,779.9 1487.5,809.1 1487.9,798.5 1488.3,738.6 1488.8,753.9 1489.2,781 1489.6,774.4 1490.1,759.3 1490.5,799 1490.9,777.2 1491.3,806.2 1491.8,779.4 1492.2,734.1 1492.6,814.5 1493.1,797.2 1493.5,743.3 1493.9,816.8 1494.4,749.9 1494.8,820.6 1495.2,814.8 1495.6,732.9 1496.1,786.6 1496.5,751.7 1496.9,828.5 1497.4,755.2 1497.8,789.6 1498.2,740.4 1498.6,756.4 1499.1,796.4 1499.5,734.4 1499.9,738.1 1500.4,787.9 1500.8,809.1 1501.2,758 1501.7,792.3 1502.1,779.5 1502.5,787.9 1502.9,772.5 1503.4,770.3 1503.8,730 1504.2,801.9 1504.7,809.8 1505.1,760.3 1505.5,802.3 1505.9,757.4 1506.4,795 1506.8,797.8 1507.2,782 1507.7,737.8 1508.1,731.1 1508.5,805.7 1509,758.4 1509.4,811.9 1509.8,823.5 1510.2,796.4 1510.7,788.6 1511.1,806.4 1511.5,791.9 1512,791 1512.4,803.4 1512.8,797.7 1513.2,784.3 1513.7,806.5 1514.1,784.3 1514.5,760 1515,817.3 1515.4,726.9 1515.8,767.8 1516.3,817.6 1516.7,726.3 1517.1,816.2 1517.5,808.4 1518,744.7 1518.4,789.7 1518.8,807.2 1519.3,769.5 1519.7,798.4 1520.1,752.1 1520.5,799.3 1521,740.1 1521.4,785.9 1521.8,770.1 1522.3,780.8 1522.7,770.4 1523.1,794.3 1523.6,752.4 1524,757.1 1524.4,757.2 1524.8,785.3 1525.3,811.8 1525.7,785.1 1526.1,812.8 1526.6,794.7 1527,770.2 1527.4,771.9 1527.8,768.2 1528.3,749.6 1528.7,775.6 1529.1,746.5 1529.6,769.9 1530,773.7 1530.4,814.7 1530.9,802.1 1531.3,762.4 1531.7,787.3 1532.1,766.7 1532.6,762.8 1533,743.7 1533.4,760.3 1533.9,743.3 1534.3,738.4 1534.7,782.6 1535.1,790.6 1535.6,764 1536,794.5 1536.4,796.9 1536.9,813.2 1537.3,735 1537.7,738.9 1538.2,795.4 1538.6,757.8 1539,772.2 1539.4,772.6 1539.9,764.7 1540.3,816.4" fill="none" stroke="#f34343" stroke-width="2.6" stroke-linejoin="round" stroke-linecap="round"/>
<polygon points="896.6,955.7 900.2,955.7 903.8,955.7 907.4,955.7 911,955.7 914.6,955.7 918.2,955.7 921.8,955.7 925.4,955.7 929,955.7 932.6,955.7 936.2,955.7 939.8,955.7 943.4,968.4 947,968.4 950.6,968.4 954.2,968.4 957.8,968.4 961.4,968.4 965,968.4 968.6,968.4 972.2,968.4 975.8,968.4 979.4,968.4 983,968.4 986.6,968.4 990.2,968.4 993.8,968.4 997.5,968.4 1001.1,968.4 1004.7,968.4 1008.3,968.4 1011.9,968.4 1015.5,968.4 1019.1,968.4 1022.7,968.4 1026.3,968.4 1029.9,968.4 1033.5,968.4 1037.1,968.4 1040.7,968.4 1044.3,968.4 1047.9,968.4 1051.5,968.4 1055.1,968.4 1058.7,968.4 1062.3,968.4 1065.9,968.4 1069.5,968.4 1073.1,968.4 1076.7,968.4 1080.3,968.4 1083.9,968.4 1087.5,968.4 1091.1,968.4 1094.7,968.4 1098.3,968.4 1101.9,968.4 1105.5,968.4 1109.1,968.4 1112.7,968.4 1116.3,968.4 1119.9,968.4 1123.5,968.4 1127.1,968.4 1130.7,968.4 1134.3,968.4 1137.9,968.4 1141.5,968.4 1145.1,968.4 1148.7,968.4 1152.3,968.4 1155.9,968.4 1159.5,968.4 1163.1,968.4 1166.7,968.4 1170.3,968.4 1173.9,968.4 1177.5,968.4 1181.1,968.4 1184.7,968.4 1188.3,968.4 1191.9,968.4 1195.6,968.4 1199.2,968.4 1202.8,968.4 1206.4,968.4 1210,968.4 1213.6,968.4 1217.2,968.4 1217.2,1022.4 1213.6,1022.4 1210,1022.4 1206.4,1022.4 1202.8,1022.4 1199.2,1022.4 1195.6,1022.4 1191.9,1022.4 1188.3,1022.4 1184.7,1022.4 1181.1,1022.4 1177.5,1022.4 1173.9,1022.4 1170.3,1022.4 1166.7,1022.4 1163.1,1022.4 1159.5,1022.4 1155.9,1022.4 1152.3,1022.4 1148.7,1022.4 1145.1,1022.4 1141.5,1022.4 1137.9,1022.4 1134.3,1022.4 1130.7,1022.4 1127.1,1022.4 1123.5,1022.4 1119.9,1022.4 1116.3,1022.4 1112.7,1022.4 1109.1,1022.4 1105.5,1022.4 1101.9,1022.4 1098.3,1022.4 1094.7,1022.4 1091.1,1022.4 1087.5,1022.4 1083.9,1022.4 1080.3,1022.4 1076.7,1022.4 1073.1,1022.4 1069.5,1022.4 1065.9,1022.4 1062.3,1022.4 1058.7,1022.4 1055.1,1022.4 1051.5,1022.4 1047.9,1022.4 1044.3,1022.4 1040.7,1022.4 1037.1,1022.4 1033.5,1022.4 1029.9,1022.4 1026.3,1022.4 1022.7,1022.4 1019.1,1022.4 1015.5,1022.4 1011.9,1022.4 1008.3,1022.4 1004.7,1022.4 1001.1,1022.4 997.5,1022.4 993.8,1022.4 990.2,1022.4 986.6,1022.4 983,1022.4 979.4,1022.4 975.8,1022.4 972.2,1022.4 968.6,1022.4 965,1022.4 961.4,1022.4 957.8,1022.4 954.2,1022.4 950.6,1022.4 947,1022.4 943.4,1022.4 939.8,1035.1 936.2,1035.1 932.6,1035.1 929,1035.1 925.4,1035.1 921.8,1035.1 918.2,1035.1 914.6,1035.1 911,1035.1 907.4,1035.1 903.8,1035.1 900.2,1035.1 896.6,1035.1" fill="#f34343"/>
<polygon points="1219.7,760.6 1223.3,759.9 1226.9,759.3 1230.5,758.7 1234.1,758.2 1237.7,757.6 1241.3,757.1 1245,756.6 1248.6,756.1 1252.2,755.7 1255.8,755.2 1259.4,754.8 1263,754.4 1266.6,754 1270.2,753.6 1273.8,753.2 1277.4,752.9 1281,752.5 1284.6,752.2 1288.2,751.9 1291.8,751.6 1295.4,751.3 1299,751 1302.6,750.7 1306.2,750.5 1309.8,750.2 1313.4,749.9 1317,749.7 1320.6,749.5 1324.2,749.3 1327.8,749.1 1331.4,748.8 1335,748.7 1338.6,748.5 1342.2,748.3 1345.8,748.1 1349.4,747.9 1353,747.8 1356.6,747.6 1360.2,747.5 1363.8,747.3 1367.4,747.2 1371,747 1374.6,746.9 1378.2,746.8 1381.8,746.7 1385.4,746.5 1389,746.4 1392.6,746.3 1396.2,746.2 1399.8,746.1 1403.4,746 1407,745.9 1410.6,745.8 1414.2,745.8 1417.8,745.7 1421.4,745.6 1425,745.5 1428.6,745.5 1432.2,745.5 1435.8,745.6 1439.4,745.7 1443.1,745.7 1446.7,745.8 1450.3,745.9 1453.9,746 1457.5,746 1461.1,746.1 1464.7,746.2 1468.3,746.3 1471.9,746.4 1475.5,746.5 1479.1,746.6 1482.7,746.7 1486.3,746.8 1489.9,746.8 1493.5,746.9 1497.1,747 1500.7,747.1 1504.3,747.2 1507.9,747.3 1511.5,747.4 1515.1,747.6 1518.7,747.7 1522.3,747.8 1525.9,747.9 1529.5,748 1533.1,748.1 1536.7,748.2 1540.3,748.3 1540.3,810.4 1536.7,810.3 1533.1,810.2 1529.5,810.1 1525.9,810 1522.3,809.8 1518.7,809.7 1515.1,809.6 1511.5,809.5 1507.9,809.3 1504.3,809.2 1500.7,809.1 1497.1,809 1493.5,808.9 1489.9,808.8 1486.3,808.6 1482.7,808.5 1479.1,808.4 1475.5,808.3 1471.9,808.2 1468.3,808.1 1464.7,808 1461.1,807.8 1457.5,807.7 1453.9,807.6 1450.3,807.5 1446.7,807.4 1443.1,807.3 1439.4,807.2 1435.8,807.1 1432.2,807 1428.6,806.9 1425,806.9 1421.4,806.9 1417.8,807 1414.2,807 1410.6,807 1407,807.1 1403.4,807.1 1399.8,807.2 1396.2,807.2 1392.6,807.3 1389,807.3 1385.4,807.4 1381.8,807.4 1378.2,807.5 1374.6,807.5 1371,807.6 1367.4,807.7 1363.8,807.7 1360.2,807.8 1356.6,807.9 1353,807.9 1349.4,808 1345.8,808.1 1342.2,808.2 1338.6,808.3 1335,808.3 1331.4,808.4 1327.8,808.5 1324.2,808.6 1320.6,808.7 1317,808.8 1313.4,808.9 1309.8,809.1 1306.2,809.2 1302.6,809.3 1299,809.4 1295.4,809.6 1291.8,809.7 1288.2,809.8 1284.6,810 1281,810.1 1277.4,810.3 1273.8,810.5 1270.2,810.6 1266.6,810.8 1263,811 1259.4,811.2 1255.8,811.4 1252.2,811.6 1248.6,811.8 1245,812 1241.3,812.3 1237.7,812.5 1234.1,812.8 1230.5,813 1226.9,813.3 1223.3,813.6 1219.7,813.9" fill="#f34343"/>
<line x1="1219.4" y1="1013.5" x2="1219.4" y2="760.2" stroke="#f34343" stroke-width="3.4"/>
<polyline points="1450.5,760.2 1452.4,692.4 1454.4,760.2" fill="none" stroke="#f34343" stroke-width="2.5" stroke-linejoin="round"/>
</g>
<line x1="896.6" y1="1122" x2="896.6" y2="1113.2" stroke="#000" stroke-width="4.6"/>
<line x1="896.6" y1="639.6" x2="896.6" y2="648.4" stroke="#000" stroke-width="4.6"/>
<line x1="1218.5" y1="1122" x2="1218.5" y2="1113.2" stroke="#000" stroke-width="4.6"/>
<line x1="1218.5" y1="639.6" x2="1218.5" y2="648.4" stroke="#000" stroke-width="4.6"/>
<line x1="1540.3" y1="1122" x2="1540.3" y2="1113.2" stroke="#000" stroke-width="4.6"/>
<line x1="1540.3" y1="639.6" x2="1540.3" y2="648.4" stroke="#000" stroke-width="4.6"/>
<line x1="1057.5" y1="1122" x2="1057.5" y2="1116.4" stroke="#000" stroke-width="4.5"/>
<line x1="1057.5" y1="639.6" x2="1057.5" y2="645.2" stroke="#000" stroke-width="4.5"/>
<line x1="1379.4" y1="1122" x2="1379.4" y2="1116.4" stroke="#000" stroke-width="4.5"/>
<line x1="1379.4" y1="639.6" x2="1379.4" y2="645.2" stroke="#000" stroke-width="4.5"/>
<line x1="896.6" y1="1031.6" x2="905.4" y2="1031.6" stroke="#000" stroke-width="4.6"/>
<line x1="1540.3" y1="1031.6" x2="1531.5" y2="1031.6" stroke="#000" stroke-width="4.6"/>
<line x1="896.6" y1="880.8" x2="905.4" y2="880.8" stroke="#000" stroke-width="4.6"/>
<line x1="1540.3" y1="880.8" x2="1531.5" y2="880.8" stroke="#000" stroke-width="4.6"/>
<line x1="896.6" y1="730.1" x2="905.4" y2="730.1" stroke="#000" stroke-width="4.6"/>
<line x1="1540.3" y1="730.1" x2="1531.5" y2="730.1" stroke="#000" stroke-width="4.6"/>
<line x1="896.6" y1="1106.9" x2="902.2" y2="1106.9" stroke="#000" stroke-width="4.5"/>
<line x1="1540.3" y1="1106.9" x2="1534.7" y2="1106.9" stroke="#000" stroke-width="4.5"/>
<line x1="896.6" y1="956.2" x2="902.2" y2="956.2" stroke="#000" stroke-width="4.5"/>
<line x1="1540.3" y1="956.2" x2="1534.7" y2="956.2" stroke="#000" stroke-width="4.5"/>
<line x1="896.6" y1="805.5" x2="902.2" y2="805.5" stroke="#000" stroke-width="4.5"/>
<line x1="1540.3" y1="805.5" x2="1534.7" y2="805.5" stroke="#000" stroke-width="4.5"/>
<line x1="896.6" y1="654.7" x2="902.2" y2="654.7" stroke="#000" stroke-width="4.5"/>
<line x1="1540.3" y1="654.7" x2="1534.7" y2="654.7" stroke="#000" stroke-width="4.5"/>
<rect x="896.6" y="639.6" width="643.7" height="482.4" fill="none" stroke="#000" stroke-width="5.0"/>
<text x="896.6" y="1157" font-family='"Liberation Serif", serif' font-size="29.5" text-anchor="middle" fill="#000"  >-200</text>
<text x="1218.5" y="1157" font-family='"Liberation Serif", serif' font-size="29.5" text-anchor="middle" fill="#000"  >0</text>
<text x="1540.3" y="1157" font-family='"Liberation Serif", serif' font-size="29.5" text-anchor="middle" fill="#000"  >200</text>
<text x="885" y="739.9" font-family='"Liberation Serif", serif' font-size="29.5" text-anchor="end" fill="#000"  >50</text>
<text x="885" y="890.6" font-family='"Liberation Serif", serif' font-size="29.5" text-anchor="end" fill="#000"  >0</text>
<text x="885" y="1041.4" font-family='"Liberation Serif", serif' font-size="29.5" text-anchor="end" fill="#000"  >-50</text>
<text x="1215" y="1195" font-family='"Liberation Serif", serif' font-size="41" text-anchor="middle"><tspan font-style="italic">H</tspan><tspan font-size="29" dy="12">x</tspan><tspan dy="-12"> (Oe)</tspan></text>
<text transform="translate(846.5,847) rotate(-90)" font-family='"Liberation Serif", serif' font-size="40.5" text-anchor="middle"><tspan font-style="italic">M</tspan> (emu/cm<tspan font-size="26" dy="-15">3</tspan><tspan dy="15">)</tspan></text>
<line x1="955" y1="718.5" x2="1010" y2="718.5" stroke="#4f4f4f" stroke-width="3" stroke-linecap="round"/>
<text x="1017.5" y="728.6" font-family='"Liberation Serif", serif' font-size="29.8" text-anchor="start" fill="#000"  >IP</text>
<line x1="955" y1="755.5" x2="1010" y2="755.5" stroke="#f34343" stroke-width="3" stroke-linecap="round"/>
<text x="1017.5" y="765.8" font-family='"Liberation Serif", serif' font-size="29.8" text-anchor="start" fill="#000"  >OOP</text>
</svg>
</body></html>
